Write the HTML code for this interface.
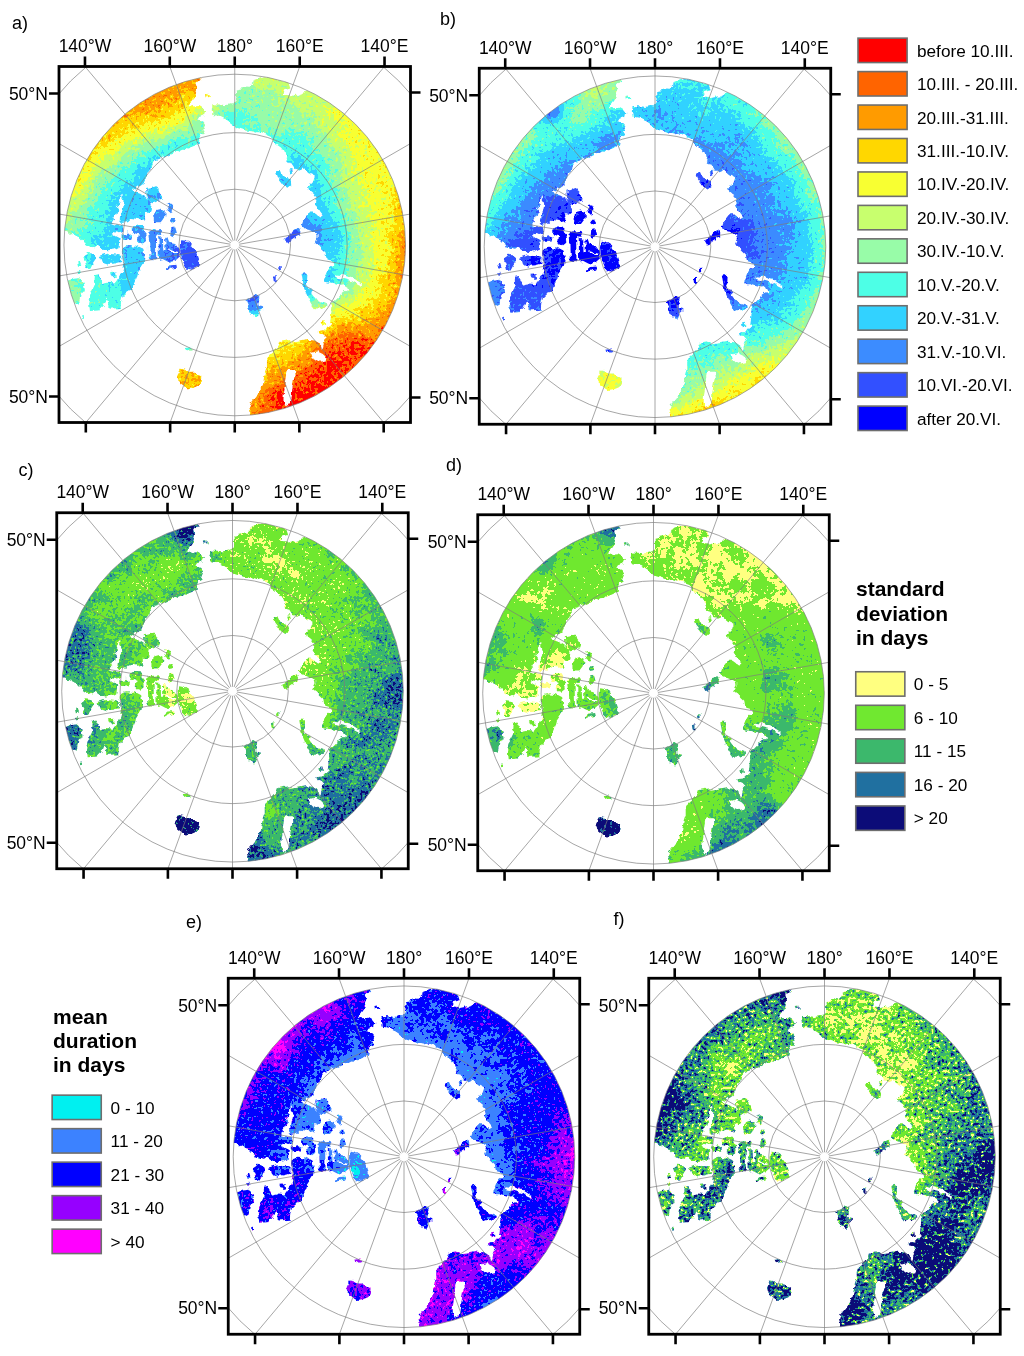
<!DOCTYPE html><html><head><meta charset="utf-8"><title>Figure</title><style>html,body{margin:0;padding:0;background:#fff}svg{display:block}text{font-family:"Liberation Sans",sans-serif;fill:#000}</style></head><body>
<svg width="1024" height="1356" viewBox="0 0 1024 1356">
<defs>
<clipPath id="fr"><rect x="0" y="0" width="351.5" height="356.0"/></clipPath>
<g id="grat" clip-path="url(#fr)" fill="none" stroke="#7c7c7c" stroke-width="0.68"><circle cx="175.75" cy="178.5" r="55.77"/><circle cx="175.75" cy="178.5" r="112.39"/><circle cx="175.75" cy="178.5" r="170.79"/><circle cx="175.75" cy="178.5" r="232.00"/><path d="M175.75 174.00L175.75 -151.50M177.29 174.27L288.62 -131.60M178.64 175.05L387.87 -74.29M179.65 176.25L461.54 13.50M180.18 177.72L500.74 121.20M180.18 179.28L500.74 235.80M179.65 180.75L461.54 343.50M178.64 181.95L387.87 431.29M177.29 182.73L288.62 488.60M175.75 183.00L175.75 508.50M174.21 182.73L62.88 488.60M172.86 181.95L-36.37 431.29M171.85 180.75L-110.04 343.50M171.32 179.28L-149.24 235.80M171.32 177.72L-149.24 121.20M171.85 176.25L-110.04 13.50M172.86 175.05L-36.37 -74.29M174.21 174.27L62.88 -131.60"/></g>
<g id="frame" fill="none" stroke="#000"><rect x="0" y="0" width="351.5" height="356.0" stroke-width="2.8"/><path d="M25.97 0V-10M26.81 356.0V366.0M110.78 0V-10M111.15 356.0V366.0M175.75 0V-10M175.75 356.0V366.0M240.72 0V-10M240.35 356.0V366.0M325.53 0V-10M324.69 356.0V366.0M0 27.05H-10M0 329.95H-10M351.5 26.05h10M351.5 330.95h10" stroke-width="2.6"/></g>
<clipPath id="c60"><circle cx="0" cy="0" r="170.79"/></clipPath><filter id="jag" filterUnits="userSpaceOnUse" x="-190" y="-190" width="380" height="380" color-interpolation-filters="sRGB"><feTurbulence type="fractalNoise" baseFrequency="0.16" numOctaves="2" seed="5" result="t"/><feDisplacementMap in="SourceGraphic" in2="t" scale="6" xChannelSelector="R" yChannelSelector="G"/></filter><mask id="land" maskUnits="userSpaceOnUse" x="-180" y="-180" width="360" height="360"><g clip-path="url(#c60)"><g filter="url(#jag)"><rect x="-190" y="-190" width="380" height="380" fill="#000"/><g fill="#fff"><polygon points="-28.2,-183.8 -35.6,-165.8 -39.3,-161.9 -37.5,-156.5 -39.9,-148.7 -46.1,-139.9 -41.8,-138.5 -35.6,-138.9 -28.7,-135 -29.7,-130.1 -35.6,-128.1 -37.5,-124.8 -32.1,-122.3 -28.9,-117.4 -31.1,-111.5 -36.4,-108.6 -36.8,-102.8 -39.9,-97.9 -46.1,-95.5 -51.6,-96.3 -55.9,-94 -62.3,-91.6 -70.2,-88.1 -78.9,-85.2 -83.2,-80.3 -84.4,-73.5 -87.7,-69.6 -90.7,-62.7 -97.5,-57.8 -103.4,-53.9 -109.2,-51.4 -113.1,-51 -114.5,-46.1 -116.4,-41.2 -118.8,-38.3 -127.8,-19.8 -170.7,-16.8 -196.1,-16.8 -196.1,-183.8"/><polygon points="-113.6,-56.4 -113.9,-46.8 -116.5,-41.7 -120.2,-39.5 -117.3,-35.1 -118.7,-28.5 -121.7,-24.1 -123.9,-21.9 -120.2,-20.5 -112.2,-20.5 -111.4,-13.1 -115.8,-11.7 -120.9,-13.1 -123.1,-10.9 -119.5,-8.7 -115.1,-6.6 -116.3,2.2 -120.9,4.4 -126.8,5.2 -132.7,3.7 -137.1,0.8 -139.2,2.2 -142.2,1.5 -145.1,3 -148,1.5 -149.5,-2.2 -153.2,-5.1 -156.1,-8 -160.5,-9.5 -166.3,-13.1 -170.7,-15.3 -185.4,-15.3 -185.4,-56.4"/><polygon points="-151.7,11 -147.3,8.1 -140,8.8 -139.2,14 -142.2,18.4 -144.4,22.7 -148,23.5 -149.5,16.9"/><polygon points="-134.9,11 -128.3,8.8 -118,9.6 -113.6,11 -113.6,16.9 -119.5,18.4 -126.8,19.1 -132.7,16.9"/><polygon points="-156.8,16.2 -153.9,16.9 -152.4,21.3 -155.4,22"/><polygon points="-159,26.8 -154.6,26 -154.3,28.6 -158.3,29.3"/><polygon points="-88.7,-57.1 -81.4,-58.5 -75.5,-54.9 -72.3,-50.5 -72.9,-45.4 -77,-43.9 -81.4,-41.7 -85.8,-43.9 -88,-49"/><polygon points="-112.2,-52 -103.4,-54.2 -94.6,-51.2 -88.7,-47.6 -82.9,-41.7 -84.3,-35.8 -88.7,-32.9 -88.7,-27.1 -94.6,-25.6 -103.4,-27.1 -107.8,-22.7 -112.2,-21.9 -115.1,-25.6 -114.3,-31.5 -112.2,-34.4 -110.7,-41.7 -112.2,-46.1"/><polygon points="-79.9,-35.8 -74.1,-37.3 -68.9,-34.4 -69.7,-28.5 -74.1,-22.7 -78.5,-22.7 -80.7,-27.1"/><polygon points="-68.2,-41.7 -64.5,-42.4 -61.6,-37.3 -62.3,-31.5 -66,-34.4"/><polygon points="-65.3,-27.1 -60.9,-27.1 -58.7,-23.4 -61.6,-21.2 -64.5,-23.4"/><polygon points="-104.1,-16.8 -97.5,-20.5 -90.9,-19.7 -88.7,-15.3 -89.4,-9.5 -88.7,-5.1 -93.1,-1.4 -96.8,-3.6 -96,-9.5 -100.4,-10.9 -103.7,-13.1"/><polygon points="-112.2,-10.9 -106.3,-12.4 -102.6,-9.5 -103.4,-5.1 -109.2,-4.4 -112.2,-6.6"/><polygon points="-86.5,-12.4 -82.9,-15.3 -74.1,-16.1 -71.1,-9.5 -68.2,-6.6 -66.7,-2.2 -59.4,-0.7 -55,5.2 -54.3,11 -59.4,15.4 -65.3,16.9 -71.1,14 -75.5,14.7 -82.9,14 -86.5,11 -87.2,2.2 -85.8,-5.1"/><polygon points="-63.8,-16.8 -59.4,-17.5 -58,-12.4 -60.9,-8 -64.5,-9.5"/><polygon points="-54.3,-5.1 -49.2,-4.4 -43.3,-0.7 -38.2,6.6 -35.2,15.4 -36.7,20.5 -41.8,22.7 -46.2,25.7 -49.2,22.7 -52.1,15.4 -54.3,8.1 -55,0.8"/><polygon points="-68.9,23.5 -65.3,20.5 -59.4,19.8 -58.7,22.7 -63.8,23.5 -67.5,25.7"/><polygon points="-112.2,1.5 -106.3,0 -97.5,0.8 -91.6,3.7 -90.2,11 -90.9,18.4 -94.6,24.2 -97.5,28.6 -99,34.5 -103.4,44.7 -107.8,46.2 -112.2,50.6 -113.6,56.4 -114.3,63 -126.1,63.8 -126.8,57.9 -128.3,53.5 -131.2,60.8 -135.6,65.2 -145.8,66 -146.6,57.9 -145.1,50.6 -141.4,44.7 -139.2,40.3 -141.4,35.9 -140.7,30.1 -137.1,29.3 -134.1,34.5 -132.7,38.1 -126.8,36.7 -119.5,37.4 -115.1,31.5 -112.2,25.7 -110.7,19.8 -112.2,14 -112.9,6.6"/><polygon points="-124.6,27.9 -118.7,27.4 -118,31.5 -123.1,32.3"/><polygon points="-168.5,35.2 -162,32.7 -154.6,32 -151.4,37.4 -149.9,44.7 -153.2,50.6 -154.6,58.2 -160.2,59.7 -166.3,52"/><polygon points="-153.9,71.8 -151,71.1 -151.4,73.3 -153.5,74"/><polygon points="-29.7,-150.6 -26.2,-151.2 -25.8,-148.1 -29.1,-147.5"/><polygon points="-21.5,-140.8 -9.8,-139.9 -3,-137.9 1.9,-144.8 1,-155.5 11.7,-157.4 19.5,-164.3 28.3,-167.8 41,-166.2 53.7,-162.3 55.6,-156.5 48.8,-154.5 46.9,-149.6 54.7,-148.7 63.5,-150.6 74.2,-153.9 99.6,-176 197.2,-176 197.2,97.4 197.2,202.9 13.7,202.9 16.6,170.7 14.6,163.8 15.6,158 20.5,152.1 24.4,146.3 28.3,139.4 29.3,132.6 30.3,126.7 32.2,120.9 32.2,115 35.1,109.2 40,105.2 43.9,100.4 45.9,95.5 51.7,94.5 55.6,97.4 64.4,96.5 72.2,95.1 80.1,95.5 84.9,98.4 85.9,103.3 87.9,103.3 88.8,98.4 91.8,93.5 88.8,90.6 84,88.6 84.9,85.7 90.8,85.7 94.7,81.8 95.7,74 96.7,66.2 97.6,61.3 95.7,57.4 99.6,55.4 104.5,50.6 109.4,46.7 113.3,44.7 111.3,39.8 105.4,40.8 99.6,39.2 91.8,36.9 89.4,33 91.8,29.1 93.7,24.2 99.6,20.3 98.6,16.4 91.8,14.4 90.8,8.6 86.9,4.7 83,0.8 80.1,-4.1 82,-8 80.1,-12.9 74.2,-14.9 68.3,-15.8 66.4,-19.8 68.3,-21.7 70.3,-27.6 74.2,-32.4 79.1,-32.4 85.9,-27.6 87.9,-30.5 84,-35.4 81,-41.2 82,-47.1 79.1,-51 74.2,-54.9 73.2,-58.8 78.1,-63.7 80.1,-69.6 74.2,-72.5 68.3,-77.4 63.5,-75.4 59.5,-76.4 55.6,-82.2 50.8,-88.1 49.8,-94 46.9,-97.9 40,-102.8 38.1,-107.6 34.2,-109.6 26.3,-112.5 21.5,-115.5 18.5,-113.5 9.7,-116.4 1.9,-119.4 -5.9,-123.3 -11.7,-127.2 -21.5,-129.1"/><polygon points="24.6,-142.8 18.7,-140.8 10.9,-141.8 3.1,-139.9 -4.7,-140.8 -12.5,-138.9 -20.3,-137.9 -23.3,-135 -20.3,-131.1 -14.5,-128.1 -6.7,-123.3 1.1,-117.4 10.9,-114.5 18.7,-113.5 24.6,-111.5"/></g><g fill="#000"><polygon points="76.5,108.1 82.4,106.2 88,109 91.7,112.7 90.8,116.4 85.2,117.7 80.6,115.5 77.8,112.7"/><polygon points="53.1,125.1 51.8,132.2 50.5,139.6 49.1,147 48.7,154.5 50,159.7 53.1,161.5 55.5,158.5 57,152.6 57.4,145.2 58.3,137.8 59.8,130.3 59.3,125.1"/><polygon points="100.6,29.5 109.4,30.6 119.1,33.4 126,37.9 126.5,40.8 123,39.2 117.2,35.9 107.4,33.4 100.6,32"/><polygon points="-78.9,-10.5 -76.3,-10.5 -75.9,14.6 -78.5,14.6"/><polygon points="-71.8,-9.6 -69.6,-9.6 -69.2,4.4 -71.5,4.4"/><polygon points="-75.7,-10.3 -63.7,-9.6 -63.7,-7.1 -75.7,-7.7"/><polygon points="-87.8,-4 -85.6,-4 -85.2,10.9 -87.4,10.9"/><polygon points="-66.5,4.4 -56.3,7.1 -56.3,9 -66.5,6.4"/></g><g fill="#fff"><polygon points="41,-73.5 44.9,-74 46.9,-69.6 49.8,-67.6 55.6,-65.6 57.6,-60.8 53.7,-57.2 49.8,-59.8 45.9,-64.7 42.9,-68.6"/><polygon points="54.7,-75.4 57.6,-76 58.6,-71.5 56.2,-70.5"/><polygon points="48.8,-6.1 54.7,-9 57.6,-12.9 60.5,-16.8 64.4,-15.8 66.4,-11.9 61.5,-10 60.5,-7.1 54.7,-3.1 50.8,-2.2"/><polygon points="44.5,21.3 46.9,20.9 47.2,26.1 44.9,26.1"/><polygon points="39.4,33 42,32 42,36.9 40,37.3"/><polygon points="66.8,28.1 70.7,27.1 72.6,31 72.2,37.9 75.2,44.7 79.1,50.6 84,56.4 90.8,58.4 91.8,61.3 87.9,64.2 81,64.6 77.7,60.3 73.2,52.5 69.9,44.7 68.3,36.9"/><polygon points="10.7,55.4 16.6,52.5 21.5,48.6 25.8,51.5 24.4,55.4 22.4,60.3 28.3,61.3 28.3,64.2 24.4,65.2 22.4,72 19.5,72 15.6,66.2 12.7,60.3"/><polygon points="86.9,76.9 90.8,76 91.4,79.9 87.9,80.8"/><polygon points="84,85.7 88.8,85.3 89.4,89.6 84.9,90"/><polygon points="-58.4,130.6 -54.5,123.8 -49.6,124.8 -46.7,127.7 -39.9,127.7 -34.4,129.7 -35,135.5 -37,140.4 -41.8,142.4 -46.7,143.3 -51.6,139.4 -56.5,135.5"/><polygon points="-48.7,103.3 -43.8,102.3 -42.8,105.2 -47.7,106.8"/><polygon points="-154.1,72 -151.2,71.1 -151.6,74"/></g></g></g></mask>
<filter id="fa" filterUnits="userSpaceOnUse" x="-184" y="-184" width="368" height="368" color-interpolation-filters="sRGB"><feGaussianBlur in="SourceGraphic" stdDeviation="4"/><feColorMatrix type="matrix" values="1 0 0 0 0 0 1 0 0 0 0 0 1 0 0 0 0 0 0 1" result="b"/><feTurbulence type="fractalNoise" baseFrequency="0.07" numOctaves="2" seed="3"/><feColorMatrix type="matrix" values="1 0 0 0 0 1 0 0 0 0 1 0 0 0 0 0 0 0 0 1" result="n2"/><feComposite in="b" in2="n2" operator="arithmetic" k1="0" k2="1" k3="0.08" k4="-0.04" result="b2"/><feTurbulence type="fractalNoise" baseFrequency="0.3" numOctaves="2" seed="4"/><feColorMatrix type="matrix" values="1 0 0 0 0 1 0 0 0 0 1 0 0 0 0 0 0 0 0 1"/><feComponentTransfer result="n1"><feFuncR type="table" tableValues="0 0 0.083 0.396 0.5 0.604 0.917 1 1"/><feFuncG type="table" tableValues="0 0 0.083 0.396 0.5 0.604 0.917 1 1"/><feFuncB type="table" tableValues="0 0 0.083 0.396 0.5 0.604 0.917 1 1"/></feComponentTransfer><feComposite in="b2" in2="n1" operator="arithmetic" k1="-0.2" k2="1.1" k3="0.26" k4="-0.13"/><feComponentTransfer><feFuncR type="discrete" tableValues="1.000 1.000 1.000 1.000 0.973 0.784 0.596 0.302 0.196 0.235 0.196 0.000"/><feFuncG type="discrete" tableValues="0.000 0.392 0.608 0.843 1.000 1.000 0.988 1.000 0.824 0.549 0.314 0.000"/><feFuncB type="discrete" tableValues="0.000 0.000 0.000 0.000 0.196 0.431 0.659 0.902 1.000 1.000 1.000 1.000"/></feComponentTransfer></filter>
<filter id="fb" filterUnits="userSpaceOnUse" x="-184" y="-184" width="368" height="368" color-interpolation-filters="sRGB"><feGaussianBlur in="SourceGraphic" stdDeviation="4"/><feColorMatrix type="matrix" values="1 0 0 0 0 0 1 0 0 0 0 0 1 0 0 0 0 0 0 1" result="b"/><feTurbulence type="fractalNoise" baseFrequency="0.07" numOctaves="2" seed="7"/><feColorMatrix type="matrix" values="1 0 0 0 0 1 0 0 0 0 1 0 0 0 0 0 0 0 0 1" result="n2"/><feComposite in="b" in2="n2" operator="arithmetic" k1="0" k2="1" k3="0.08" k4="-0.04" result="b2"/><feTurbulence type="fractalNoise" baseFrequency="0.3" numOctaves="2" seed="8"/><feColorMatrix type="matrix" values="1 0 0 0 0 1 0 0 0 0 1 0 0 0 0 0 0 0 0 1"/><feComponentTransfer result="n1"><feFuncR type="table" tableValues="0 0 0.083 0.396 0.5 0.604 0.917 1 1"/><feFuncG type="table" tableValues="0 0 0.083 0.396 0.5 0.604 0.917 1 1"/><feFuncB type="table" tableValues="0 0 0.083 0.396 0.5 0.604 0.917 1 1"/></feComponentTransfer><feComposite in="b2" in2="n1" operator="arithmetic" k1="-0.15" k2="1.075" k3="0.24" k4="-0.12"/><feComponentTransfer><feFuncR type="discrete" tableValues="1.000 1.000 1.000 1.000 0.973 0.784 0.596 0.302 0.196 0.235 0.196 0.000"/><feFuncG type="discrete" tableValues="0.000 0.392 0.608 0.843 1.000 1.000 0.988 1.000 0.824 0.549 0.314 0.000"/><feFuncB type="discrete" tableValues="0.000 0.000 0.000 0.000 0.196 0.431 0.659 0.902 1.000 1.000 1.000 1.000"/></feComponentTransfer></filter>
<filter id="fc" filterUnits="userSpaceOnUse" x="-184" y="-184" width="368" height="368" color-interpolation-filters="sRGB"><feGaussianBlur in="SourceGraphic" stdDeviation="4"/><feColorMatrix type="matrix" values="1 0 0 0 0 0 1 0 0 0 0 0 1 0 0 0 0 0 0 1" result="b"/><feTurbulence type="fractalNoise" baseFrequency="0.07" numOctaves="2" seed="11"/><feColorMatrix type="matrix" values="1 0 0 0 0 1 0 0 0 0 1 0 0 0 0 0 0 0 0 1" result="n2"/><feComposite in="b" in2="n2" operator="arithmetic" k1="0" k2="1" k3="0.35" k4="-0.175" result="b2"/><feTurbulence type="fractalNoise" baseFrequency="0.36" numOctaves="2" seed="12"/><feColorMatrix type="matrix" values="1 0 0 0 0 1 0 0 0 0 1 0 0 0 0 0 0 0 0 1"/><feComponentTransfer result="n1"><feFuncR type="table" tableValues="0 0 0.083 0.396 0.5 0.604 0.917 1 1"/><feFuncG type="table" tableValues="0 0 0.083 0.396 0.5 0.604 0.917 1 1"/><feFuncB type="table" tableValues="0 0 0.083 0.396 0.5 0.604 0.917 1 1"/></feComponentTransfer><feComposite in="b2" in2="n1" operator="arithmetic" k1="1" k2="0.5" k3="0" k4="-0"/><feComponentTransfer><feFuncR type="discrete" tableValues="1.000 0.439 0.235 0.125 0.047"/><feFuncG type="discrete" tableValues="1.000 0.910 0.722 0.439 0.047"/><feFuncB type="discrete" tableValues="0.502 0.188 0.424 0.627 0.471"/></feComponentTransfer></filter>
<filter id="fd" filterUnits="userSpaceOnUse" x="-184" y="-184" width="368" height="368" color-interpolation-filters="sRGB"><feGaussianBlur in="SourceGraphic" stdDeviation="4"/><feColorMatrix type="matrix" values="1 0 0 0 0 0 1 0 0 0 0 0 1 0 0 0 0 0 0 1" result="b"/><feTurbulence type="fractalNoise" baseFrequency="0.07" numOctaves="2" seed="13"/><feColorMatrix type="matrix" values="1 0 0 0 0 1 0 0 0 0 1 0 0 0 0 0 0 0 0 1" result="n2"/><feComposite in="b" in2="n2" operator="arithmetic" k1="0" k2="1" k3="0.25" k4="-0.125" result="b2"/><feTurbulence type="fractalNoise" baseFrequency="0.3" numOctaves="2" seed="14"/><feColorMatrix type="matrix" values="1 0 0 0 0 1 0 0 0 0 1 0 0 0 0 0 0 0 0 1"/><feComponentTransfer result="n1"><feFuncR type="table" tableValues="0 0 0.083 0.396 0.5 0.604 0.917 1 1"/><feFuncG type="table" tableValues="0 0 0.083 0.396 0.5 0.604 0.917 1 1"/><feFuncB type="table" tableValues="0 0 0.083 0.396 0.5 0.604 0.917 1 1"/></feComponentTransfer><feComposite in="b2" in2="n1" operator="arithmetic" k1="0.8" k2="0.6" k3="0" k4="-0"/><feComponentTransfer><feFuncR type="discrete" tableValues="1.000 0.439 0.235 0.125 0.047"/><feFuncG type="discrete" tableValues="1.000 0.910 0.722 0.439 0.047"/><feFuncB type="discrete" tableValues="0.502 0.188 0.424 0.627 0.471"/></feComponentTransfer></filter>
<filter id="fe" filterUnits="userSpaceOnUse" x="-184" y="-184" width="368" height="368" color-interpolation-filters="sRGB"><feGaussianBlur in="SourceGraphic" stdDeviation="4"/><feColorMatrix type="matrix" values="1 0 0 0 0 0 1 0 0 0 0 0 1 0 0 0 0 0 0 1" result="b"/><feTurbulence type="fractalNoise" baseFrequency="0.07" numOctaves="2" seed="17"/><feColorMatrix type="matrix" values="1 0 0 0 0 1 0 0 0 0 1 0 0 0 0 0 0 0 0 1" result="n2"/><feComposite in="b" in2="n2" operator="arithmetic" k1="0" k2="1" k3="0.3" k4="-0.15" result="b2"/><feTurbulence type="fractalNoise" baseFrequency="0.3" numOctaves="2" seed="18"/><feColorMatrix type="matrix" values="1 0 0 0 0 1 0 0 0 0 1 0 0 0 0 0 0 0 0 1"/><feComponentTransfer result="n1"><feFuncR type="table" tableValues="0 0 0.083 0.396 0.5 0.604 0.917 1 1"/><feFuncG type="table" tableValues="0 0 0.083 0.396 0.5 0.604 0.917 1 1"/><feFuncB type="table" tableValues="0 0 0.083 0.396 0.5 0.604 0.917 1 1"/></feComponentTransfer><feComposite in="b2" in2="n1" operator="arithmetic" k1="0.6" k2="0.7" k3="0.1" k4="-0.05"/><feComponentTransfer><feFuncR type="discrete" tableValues="0.000 0.235 0.000 0.588 1.000"/><feFuncG type="discrete" tableValues="0.941 0.510 0.000 0.000 0.000"/><feFuncB type="discrete" tableValues="0.941 1.000 1.000 1.000 1.000"/></feComponentTransfer></filter>
<filter id="ff" filterUnits="userSpaceOnUse" x="-184" y="-184" width="368" height="368" color-interpolation-filters="sRGB"><feGaussianBlur in="SourceGraphic" stdDeviation="4"/><feColorMatrix type="matrix" values="1 0 0 0 0 0 1 0 0 0 0 0 1 0 0 0 0 0 0 1" result="b"/><feTurbulence type="fractalNoise" baseFrequency="0.07" numOctaves="2" seed="19"/><feColorMatrix type="matrix" values="1 0 0 0 0 1 0 0 0 0 1 0 0 0 0 0 0 0 0 1" result="n2"/><feComposite in="b" in2="n2" operator="arithmetic" k1="0" k2="1" k3="0.55" k4="-0.275" result="b2"/><feTurbulence type="fractalNoise" baseFrequency="0.3" numOctaves="2" seed="20"/><feColorMatrix type="matrix" values="1 0 0 0 0 1 0 0 0 0 1 0 0 0 0 0 0 0 0 1"/><feComponentTransfer result="n1"><feFuncR type="table" tableValues="0 0 0.083 0.396 0.5 0.604 0.917 1 1"/><feFuncG type="table" tableValues="0 0 0.083 0.396 0.5 0.604 0.917 1 1"/><feFuncB type="table" tableValues="0 0 0.083 0.396 0.5 0.604 0.917 1 1"/></feComponentTransfer><feComposite in="b2" in2="n1" operator="arithmetic" k1="1.3" k2="0.35" k3="0.6" k4="-0.3"/><feComponentTransfer><feFuncR type="discrete" tableValues="1.000 0.439 0.235 0.125 0.047"/><feFuncG type="discrete" tableValues="1.000 0.910 0.722 0.439 0.047"/><feFuncB type="discrete" tableValues="0.502 0.188 0.424 0.627 0.471"/></feComponentTransfer></filter>
</defs>
<rect width="1024" height="1356" fill="#fff"/>
<g transform="translate(59 66.5)">
<g transform="translate(175.75 178.5)" mask="url(#land)"><g filter="url(#fa)"><path fill="#0d0d0d" d="M48 144h16v8h-16zM48 152h24v8h-24zM56 160h16v8h-16zM56 168h8v8h-8z"/><path fill="#101010" d="M112 96h8v8h-8zM96 112h8v8h-8zM80 136h8v8h-8zM64 144h8v8h-8zM80 144h16v8h-16zM72 152h24v8h-24zM40 160h16v8h-16zM72 160h8v8h-8zM48 168h8v8h-8z"/><path fill="#131313" d="M120 96h8v8h-8zM112 104h8v8h-8zM88 112h8v8h-8zM72 128h16v8h-16zM72 136h8v8h-8zM88 136h8v8h-8zM72 144h8v8h-8zM96 144h8v8h-8zM40 152h8v8h-8zM40 168h8v8h-8z"/><path fill="#151515" d="M96 104h16v8h-16zM120 104h8v8h-8zM104 112h16v8h-16zM88 120h16v8h-16zM88 128h16v8h-16zM112 128h16v8h-16zM56 136h16v8h-16zM96 136h24v8h-24zM40 144h8v8h-8zM104 144h8v8h-8z"/><path fill="#181818" d="M128 104h8v8h-8zM120 112h24v8h-24zM72 120h16v8h-16zM104 120h32v8h-32zM64 128h8v8h-8zM104 128h8v8h-8zM32 144h8v8h-8z"/><path fill="#1b1b1b" d="M120 88h8v8h-8zM128 96h8v8h-8zM88 104h8v8h-8zM136 104h8v8h-8zM32 152h8v8h-8zM32 160h8v8h-8zM32 168h8v8h-8z"/><path fill="#1e1e1e" d="M112 88h8v8h-8zM104 96h8v8h-8zM80 112h8v8h-8z"/><path fill="#202020" d="M136 96h8v8h-8zM80 104h8v8h-8zM144 104h8v8h-8zM48 136h8v8h-8z"/><path fill="#232323" d="M168 -8h8v8h-8zM168 0h8v8h-8zM80 96h24v8h-24zM48 128h16v8h-16zM24 160h8v8h-8z"/><path fill="#262626" d="M104 88h8v8h-8zM40 136h8v8h-8zM24 168h8v8h-8z"/><path fill="#282828" d="M128 88h8v8h-8zM144 96h8v8h-8z"/><path fill="#2b2b2b" d="M104 80h8v8h-8zM144 80h8v8h-8zM144 88h16v8h-16zM64 120h8v8h-8zM24 152h8v8h-8z"/><path fill="#2e2e2e" d="M168 24h8v8h-8zM152 80h8v8h-8zM96 88h8v8h-8zM136 88h8v8h-8zM72 112h8v8h-8zM40 128h8v8h-8z"/><path fill="#303030" d="M112 80h8v8h-8zM72 104h8v8h-8z"/><path fill="#333333" d="M168 8h8v8h-8zM160 24h8v8h-8zM168 32h8v8h-8zM144 72h16v8h-16zM136 80h8v8h-8zM56 120h8v8h-8zM16 160h8v8h-8z"/><path fill="#363636" d="M-48 -168h8v8h-8zM-72 -160h16v8h-16zM-48 -160h8v8h-8zM-88 -152h8v8h-8zM-88 -144h8v8h-8zM-112 -136h8v8h-8zM168 -16h8v8h-8zM168 16h8v8h-8zM152 56h16v8h-16zM136 72h8v8h-8zM160 72h8v8h-8zM128 80h8v8h-8zM64 112h8v8h-8zM32 136h8v8h-8zM16 152h8v8h-8zM16 168h8v8h-8z"/><path fill="#383838" d="M-64 -176h16v8h-16zM-80 -168h32v8h-32zM-40 -168h8v8h-8zM-96 -160h24v8h-24zM-96 -152h8v8h-8zM-80 -152h8v8h-8zM-120 -144h16v8h-16zM-120 -136h8v8h-8zM160 -8h8v8h-8zM160 0h8v8h-8zM160 32h8v8h-8zM160 48h8v8h-8zM168 56h8v8h-8zM152 64h16v8h-16zM120 80h8v8h-8zM88 88h8v8h-8zM32 128h8v8h-8zM24 136h8v8h-8zM24 144h8v8h-8z"/><path fill="#3b3b3b" d="M-48 -176h16v8h-16zM-56 -160h8v8h-8zM-112 -152h16v8h-16zM-72 -152h8v8h-8zM-96 -144h8v8h-8zM-80 -144h8v8h-8zM168 40h8v8h-8zM168 48h8v8h-8zM56 112h8v8h-8zM16 144h8v8h-8z"/><path fill="#3e3e3e" d="M-40 -160h8v8h-8zM-64 -152h8v8h-8zM-104 -144h8v8h-8zM-128 -136h8v8h-8zM-120 -128h8v8h-8zM160 8h8v8h-8zM160 16h8v8h-8zM160 40h8v8h-8zM144 64h8v8h-8zM48 120h8v8h-8zM16 136h8v8h-8z"/><path fill="#404040" d="M-56 -152h8v8h-8zM-72 -144h8v8h-8zM-104 -136h8v8h-8zM-88 -136h8v8h-8zM-112 -128h8v8h-8zM160 -16h8v8h-8zM152 48h8v8h-8zM136 64h8v8h-8zM128 72h8v8h-8zM72 96h8v8h-8zM64 104h8v8h-8zM-56 128h16v8h-16zM-56 136h16v8h-16zM8 160h8v8h-8zM8 168h8v8h-8z"/><path fill="#434343" d="M-64 -144h8v8h-8zM-96 -136h8v8h-8zM-80 -136h8v8h-8zM-128 -128h8v8h-8zM-136 -112h8v8h-8zM160 -32h8v8h-8zM80 88h8v8h-8zM-56 120h16v8h-16zM40 120h8v8h-8zM-64 128h8v8h-8zM-40 128h8v8h-8zM24 128h8v8h-8zM-64 136h8v8h-8zM-40 136h8v8h-8zM-56 144h16v8h-16z"/><path fill="#464646" d="M-32 -176h8v8h-8zM-32 -168h8v8h-8zM-136 -128h8v8h-8zM-136 -120h8v8h-8zM168 -32h8v8h-8zM168 -24h8v8h-8zM152 40h8v8h-8zM96 80h8v8h-8zM48 112h8v8h-8zM32 120h8v8h-8zM-64 144h8v8h-8zM-40 144h8v8h-8zM8 152h8v8h-8z"/><path fill="#484848" d="M-72 -136h8v8h-8zM-144 -120h8v8h-8zM-128 -120h16v8h-16zM-144 -112h8v8h-8zM160 -40h16v8h-16zM152 32h8v8h-8zM144 56h8v8h-8zM128 64h8v8h-8zM120 72h8v8h-8zM40 112h8v8h-8zM-72 136h8v8h-8zM-32 136h8v8h-8zM-32 144h8v8h-8z"/><path fill="#4b4b4b" d="M-32 -160h8v8h-8zM-56 -144h8v8h-8zM-104 -128h8v8h-8zM-112 -120h8v8h-8zM-152 -88h8v8h-8zM160 -24h8v8h-8zM144 48h8v8h-8zM120 64h8v8h-8zM72 80h8v8h-8zM88 80h8v8h-8zM64 88h16v8h-16zM64 96h8v8h-8zM-64 120h8v8h-8zM-40 120h8v8h-8zM16 120h16v8h-16zM-72 128h8v8h-8zM-32 128h8v8h-8zM16 128h8v8h-8zM8 144h8v8h-8z"/><path fill="#4e4e4e" d="M-48 -152h8v8h-8zM-88 -128h8v8h-8zM-128 -112h8v8h-8zM-136 -104h8v8h-8zM-152 -96h8v8h-8zM152 -16h8v8h-8zM152 8h8v8h-8zM152 16h8v8h-8zM144 40h8v8h-8zM96 72h8v8h-8zM112 72h8v8h-8zM80 80h8v8h-8z"/><path fill="#515151" d="M-40 -152h8v8h-8zM-96 -128h8v8h-8zM-80 -128h8v8h-8zM-104 -120h8v8h-8zM-152 -112h8v8h-8zM-144 -104h8v8h-8zM-160 -96h8v8h-8zM-160 -88h8v8h-8zM168 -48h8v8h-8zM152 24h8v8h-8zM136 56h8v8h-8zM104 72h8v8h-8zM56 96h8v8h-8zM48 104h16v8h-16zM32 112h8v8h-8z"/><path fill="#535353" d="M-64 -136h16v8h-16zM-72 -128h8v8h-8zM-152 -104h8v8h-8zM-168 -64h8v8h-8zM160 -48h8v8h-8zM144 32h8v8h-8zM24 112h8v8h-8z"/><path fill="#565656" d="M-48 -144h8v8h-8zM152 -64h24v8h-24zM160 -56h16v8h-16zM128 56h8v8h-8zM48 96h8v8h-8zM32 104h16v8h-16zM-72 120h8v8h-8zM-32 120h8v8h-8z"/><path fill="#595959" d="M-32 -152h8v8h-8zM-120 -112h8v8h-8zM-128 -104h8v8h-8zM-144 -96h8v8h-8zM144 -88h8v8h-8zM-160 -80h8v8h-8zM-168 -72h8v8h-8zM152 -72h16v8h-16zM152 -56h8v8h-8zM152 -48h8v8h-8zM152 -40h8v8h-8zM152 -24h8v8h-8zM152 -8h8v8h-8zM152 0h8v8h-8zM144 24h8v8h-8zM136 48h8v8h-8zM72 72h8v8h-8zM88 72h8v8h-8zM24 104h8v8h-8z"/><path fill="#5b5b5b" d="M-40 -144h8v8h-8zM144 -96h16v8h-16zM-144 -88h8v8h-8zM152 -88h8v8h-8zM-168 -80h8v8h-8zM-152 -80h8v8h-8zM144 -80h24v8h-24zM144 -72h8v8h-8zM-176 -64h8v8h-8zM-168 -56h8v8h-8zM144 8h8v8h-8zM144 16h8v8h-8zM136 40h8v8h-8zM56 88h8v8h-8zM40 96h8v8h-8z"/><path fill="#5e5e5e" d="M-112 -112h8v8h-8zM136 -104h16v8h-16zM-136 -96h8v8h-8zM136 -96h8v8h-8zM136 -88h8v8h-8zM-160 -72h8v8h-8zM136 -72h8v8h-8zM144 -64h8v8h-8zM144 -48h8v8h-8zM144 -40h8v8h-8zM144 -32h16v8h-16zM144 -8h8v8h-8zM144 0h8v8h-8zM128 48h8v8h-8zM112 64h8v8h-8zM80 72h8v8h-8z"/><path fill="#616161" d="M-96 -120h8v8h-8zM-80 -120h8v8h-8zM120 -120h24v8h-24zM120 -112h32v8h-32zM128 -104h8v8h-8zM128 -96h8v8h-8zM128 -88h8v8h-8zM128 -80h16v8h-16zM-160 -64h8v8h-8zM136 -64h8v8h-8zM136 -56h16v8h-16zM144 -24h8v8h-8zM144 -16h8v8h-8zM136 32h8v8h-8zM120 56h8v8h-8zM104 64h8v8h-8zM40 88h16v8h-16zM32 96h8v8h-8z"/><path fill="#636363" d="M104 -136h8v8h-8zM-64 -128h8v8h-8zM120 -128h16v8h-16zM-88 -120h8v8h-8zM-104 -112h8v8h-8zM120 -104h8v8h-8zM128 -72h8v8h-8zM-176 -56h8v8h-8zM136 -48h8v8h-8zM136 24h8v8h-8zM128 40h8v8h-8zM112 56h8v8h-8zM80 64h16v8h-16z"/><path fill="#666666" d="M104 -144h16v8h-16zM112 -136h16v8h-16zM104 -128h16v8h-16zM112 -120h8v8h-8zM-96 -112h8v8h-8zM112 -112h8v8h-8zM112 -104h8v8h-8zM-128 -96h8v8h-8zM120 -96h8v8h-8zM120 -88h8v8h-8zM120 -80h8v8h-8zM-152 -72h8v8h-8zM120 -72h8v8h-8zM128 -56h8v8h-8zM128 -48h8v8h-8zM136 -40h8v8h-8zM136 -32h8v8h-8zM136 -24h8v8h-8zM136 -8h8v8h-8zM136 0h8v8h-8zM136 16h8v8h-8zM32 88h8v8h-8zM24 96h8v8h-8z"/><path fill="#696969" d="M-24 -160h8v8h-8zM104 -152h8v8h-8zM-32 -144h8v8h-8zM96 -136h8v8h-8zM96 -128h8v8h-8zM104 -120h8v8h-8zM-120 -104h8v8h-8zM112 -96h8v8h-8zM-144 -80h8v8h-8zM128 -64h8v8h-8zM136 -16h8v8h-8zM136 8h8v8h-8zM72 64h8v8h-8zM96 64h8v8h-8zM-64 112h8v8h-8z"/><path fill="#6b6b6b" d="M96 -144h8v8h-8zM-48 -136h8v8h-8zM-56 -128h8v8h-8zM104 -112h8v8h-8zM-160 -56h8v8h-8zM120 40h8v8h-8zM120 48h8v8h-8zM64 64h8v8h-8zM-56 112h8v8h-8z"/><path fill="#6e6e6e" d="M-24 -152h8v8h-8zM96 -152h8v8h-8zM88 -128h8v8h-8zM-72 -120h8v8h-8zM96 -120h8v8h-8zM104 -104h8v8h-8zM-120 -96h8v8h-8zM-136 -88h8v8h-8zM112 -80h8v8h-8zM120 -64h8v8h-8zM120 -56h8v8h-8zM128 -40h8v8h-8zM-176 -32h8v8h-8zM128 -32h8v8h-8zM128 32h8v8h-8zM-48 112h8v8h-8z"/><path fill="#717171" d="M88 -136h8v8h-8zM-112 -104h8v8h-8zM112 -88h8v8h-8zM112 -72h8v8h-8zM-176 -48h16v8h-16zM-176 -40h8v8h-8zM128 24h8v8h-8zM104 56h8v8h-8z"/><path fill="#737373" d="M88 -160h8v8h-8zM88 -152h8v8h-8zM88 -144h8v8h-8zM-64 -120h8v8h-8zM88 -120h8v8h-8zM96 -112h8v8h-8zM-144 -72h8v8h-8zM-152 -64h8v8h-8zM-160 -48h8v8h-8zM120 -48h8v8h-8zM128 -24h8v8h-8zM128 -16h8v8h-8zM128 -8h8v8h-8zM128 0h8v8h-8zM128 8h8v8h-8zM128 16h8v8h-8z"/><path fill="#767676" d="M48 -176h16v8h-16zM48 -168h16v8h-16zM48 -160h40v8h-40zM72 -152h16v8h-16zM-24 -144h8v8h-8zM72 -144h16v8h-16zM80 -136h8v8h-8zM-48 -128h8v8h-8zM-104 -104h8v8h-8zM104 -96h8v8h-8zM112 -64h8v8h-8zM120 -40h8v8h-8zM96 56h8v8h-8z"/><path fill="#797979" d="M24 -176h24v8h-24zM24 -168h24v8h-24zM40 -160h8v8h-8zM56 -152h16v8h-16zM-40 -136h16v8h-16zM72 -136h8v8h-8zM80 -128h8v8h-8zM96 -104h8v8h-8zM104 -88h8v8h-8zM104 -72h8v8h-8zM112 -56h8v8h-8zM-168 -40h8v8h-8zM120 32h8v8h-8zM112 48h8v8h-8zM24 72h8v8h-8z"/><path fill="#7b7b7b" d="M16 -176h8v8h-8zM16 -168h8v8h-8zM24 -160h16v8h-16zM64 -144h8v8h-8zM-88 -112h16v8h-16zM88 -112h8v8h-8zM-128 -88h8v8h-8zM112 -48h8v8h-8zM120 -32h8v8h-8zM-176 -24h8v8h-8zM120 -24h8v8h-8zM120 24h8v8h-8z"/><path fill="#7e7e7e" d="M16 -160h8v8h-8zM40 -152h16v8h-16zM56 -144h8v8h-8zM80 -120h8v8h-8zM-72 -112h8v8h-8zM-96 -104h8v8h-8zM96 -96h8v8h-8zM-136 -80h8v8h-8zM104 -80h8v8h-8zM104 48h8v8h-8z"/><path fill="#818181" d="M8 -176h8v8h-8zM32 -152h8v8h-8zM40 -144h16v8h-16zM-136 -72h8v8h-8zM-152 -56h8v8h-8zM-152 -48h8v8h-8zM-168 -32h8v8h-8zM-168 -24h8v8h-8zM120 16h8v8h-8z"/><path fill="#848484" d="M8 -168h8v8h-8zM-24 -136h8v8h-8zM48 -136h24v8h-24zM-56 -120h8v8h-8zM-112 -96h8v8h-8zM-120 -88h8v8h-8zM112 -40h8v8h-8zM120 -16h8v8h-8zM120 -8h8v8h-8zM120 0h8v8h-8zM16 72h8v8h-8z"/><path fill="#868686" d="M-8 -168h8v8h-8zM-16 -152h8v8h-8zM24 -152h8v8h-8zM32 -144h8v8h-8zM40 -136h8v8h-8zM-48 -120h8v8h-8zM-128 -80h8v8h-8zM-144 -64h8v8h-8zM104 -64h8v8h-8zM-160 -40h8v8h-8zM120 8h8v8h-8z"/><path fill="#898989" d="M0 -168h8v8h-8zM8 -160h8v8h-8zM16 -152h8v8h-8zM-16 -144h8v8h-8zM24 -144h8v8h-8zM32 -136h8v8h-8zM40 -128h8v8h-8zM56 -128h24v8h-24zM72 -120h8v8h-8zM80 -112h8v8h-8zM-88 -104h8v8h-8zM88 -104h8v8h-8zM-104 -96h8v8h-8zM-112 -88h8v8h-8zM96 -88h8v8h-8zM104 -56h8v8h-8zM-168 40h8v8h-8zM112 40h8v8h-8zM72 56h8v8h-8zM8 72h8v8h-8z"/><path fill="#8c8c8c" d="M8 -152h8v8h-8zM16 -144h8v8h-8zM16 -136h16v8h-16zM-40 -128h8v8h-8zM-24 -128h8v8h-8zM32 -128h8v8h-8zM48 -128h8v8h-8zM40 -120h8v8h-8zM64 -120h8v8h-8zM80 -104h8v8h-8zM88 -96h8v8h-8zM96 -72h8v8h-8zM104 -48h8v8h-8zM112 -32h8v8h-8zM112 -24h8v8h-8zM-176 -16h8v8h-8zM112 16h8v8h-8zM112 24h8v8h-8zM112 32h8v8h-8zM-176 40h8v8h-8zM-168 48h8v8h-8zM96 48h8v8h-8zM80 56h8v8h-8z"/><path fill="#8e8e8e" d="M-8 -160h16v8h-16zM-8 -152h16v8h-16zM8 -144h8v8h-8zM-32 -128h8v8h-8zM24 -128h8v8h-8zM-40 -120h24v8h-24zM32 -120h8v8h-8zM48 -120h8v8h-8zM72 -112h8v8h-8zM96 -80h8v8h-8zM96 -64h8v8h-8zM-144 -56h8v8h-8zM-160 -24h8v8h-8zM112 -16h8v8h-8zM112 8h8v8h-8zM-176 32h16v8h-16zM-176 48h8v8h-8zM64 56h8v8h-8zM88 56h8v8h-8z"/><path fill="#919191" d="M-8 -144h16v8h-16zM-16 -136h8v8h-8zM56 -120h8v8h-8zM-64 -112h8v8h-8zM-32 -112h16v8h-16zM-96 -96h8v8h-8zM-136 -64h8v8h-8zM-152 -40h8v8h-8zM104 -40h8v8h-8zM-160 -32h8v8h-8zM-168 -16h8v8h-8zM112 -8h8v8h-8zM112 0h8v8h-8zM-160 40h8v8h-8zM-160 48h8v8h-8zM-176 56h16v8h-16zM-40 104h8v8h-8z"/><path fill="#949494" d="M8 -136h8v8h-8zM16 -128h8v8h-8zM16 -120h16v8h-16zM-56 -112h8v8h-8zM88 -88h8v8h-8zM-120 -80h8v8h-8zM-128 -72h8v8h-8zM-144 -48h8v8h-8zM-160 32h8v8h-8zM-152 40h8v8h-8z"/><path fill="#969696" d="M-16 -128h8v8h-8zM-16 -120h8v8h-8zM8 -120h8v8h-8zM8 -112h24v8h-24zM-72 -104h8v8h-8zM-32 -104h8v8h-8zM-32 -96h8v8h-8zM-160 -16h8v8h-8zM-176 -8h16v8h-16zM-176 24h8v8h-8zM-152 32h8v8h-8zM104 40h8v8h-8zM-160 56h8v8h-8zM-168 64h8v8h-8zM32 64h8v8h-8z"/><path fill="#999999" d="M8 -128h8v8h-8zM-40 -112h8v8h-8zM-8 -112h16v8h-16zM40 -112h8v8h-8zM64 -112h8v8h-8zM-80 -104h8v8h-8zM72 -104h8v8h-8zM-40 -96h8v8h-8zM80 -96h8v8h-8zM-136 -56h8v8h-8zM-152 -32h8v8h-8zM104 -32h8v8h-8zM-152 -24h8v8h-8zM-168 24h8v8h-8zM-152 48h8v8h-8zM-160 64h8v8h-8zM-168 72h8v8h-8zM-56 104h8v8h-8z"/><path fill="#9c9c9c" d="M-8 -136h16v8h-16zM-8 -120h16v8h-16zM32 -112h8v8h-8zM48 -112h8v8h-8zM-40 -104h8v8h-8zM-88 -96h8v8h-8zM-112 -80h8v8h-8zM88 -72h8v8h-8zM-128 -64h8v8h-8zM96 -56h8v8h-8zM96 -48h8v8h-8zM-144 -40h8v8h-8zM-168 8h8v8h-8zM-144 32h8v8h-8zM-144 40h8v8h-8zM-160 72h16v8h-16zM-160 80h16v8h-16zM-40 96h8v8h-8zM-48 104h8v8h-8z"/><path fill="#9e9e9e" d="M-8 -128h16v8h-16zM-48 -112h8v8h-8zM56 -112h8v8h-8zM-48 -104h8v8h-8zM24 -104h16v8h-16zM56 -104h16v8h-16zM72 -96h8v8h-8zM-104 -88h8v8h-8zM80 -88h8v8h-8zM88 -80h8v8h-8zM-120 -72h8v8h-8zM88 -64h8v8h-8zM96 -40h8v8h-8zM-144 -32h8v8h-8zM104 -24h8v8h-8zM-152 -16h8v8h-8zM-160 -8h8v8h-8zM104 8h8v8h-8zM104 16h8v8h-8zM104 24h8v8h-8zM104 32h8v8h-8zM-136 40h8v8h-8zM96 40h8v8h-8zM-144 48h24v8h-24zM80 48h16v8h-16zM-152 56h32v8h-32zM-152 64h32v8h-32zM-144 72h8v8h-8zM-56 96h16v8h-16z"/><path fill="#a1a1a1" d="M40 -104h16v8h-16zM-48 -96h8v8h-8zM32 -96h8v8h-8zM64 -96h8v8h-8zM-96 -88h8v8h-8zM72 -88h8v8h-8zM-104 -80h8v8h-8zM80 -80h8v8h-8zM-120 -64h8v8h-8zM88 -56h8v8h-8zM-144 -24h8v8h-8zM104 -16h8v8h-8zM104 -8h8v8h-8zM-160 0h8v8h-8zM104 0h8v8h-8zM-168 16h8v8h-8zM-160 24h8v8h-8zM-128 40h8v8h-8zM-120 48h8v8h-8zM-120 56h8v8h-8zM-120 64h8v8h-8z"/><path fill="#a4a4a4" d="M-64 -104h8v8h-8zM-80 -96h8v8h-8zM-112 -72h8v8h-8zM-136 -48h8v8h-8zM-136 -40h8v8h-8zM96 -32h8v8h-8zM-144 -16h8v8h-8zM-152 -8h8v8h-8zM-152 0h8v8h-8zM-160 8h8v8h-8zM88 40h8v8h-8zM72 48h8v8h-8zM-112 56h8v8h-8zM-112 64h8v8h-8z"/><path fill="#a6a6a6" d="M-56 -104h8v8h-8zM-64 -96h16v8h-16zM40 -96h8v8h-8zM56 -96h8v8h-8zM-56 -88h8v8h-8zM-128 -56h8v8h-8zM88 -48h8v8h-8zM-144 -8h8v8h-8zM-144 24h8v8h-8zM-136 32h8v8h-8zM96 32h8v8h-8zM-120 40h8v8h-8zM-112 48h8v8h-8z"/><path fill="#a9a9a9" d="M48 -96h8v8h-8zM-88 -88h8v8h-8zM40 -88h16v8h-16zM-112 -64h8v8h-8zM-128 -48h8v8h-8zM88 -40h8v8h-8zM-136 -32h8v8h-8zM-144 0h8v8h-8zM-152 8h8v8h-8zM-160 16h8v8h-8zM96 16h8v8h-8zM-152 24h8v8h-8zM96 24h8v8h-8zM80 40h8v8h-8zM24 64h8v8h-8z"/><path fill="#acacac" d="M-72 -96h8v8h-8zM-64 -88h8v8h-8zM72 -80h8v8h-8zM-104 -72h8v8h-8zM80 -72h8v8h-8zM-120 -56h8v8h-8zM-128 -40h8v8h-8zM-128 -32h8v8h-8zM-136 -24h8v8h-8zM-136 -16h8v8h-8zM-144 8h8v8h-8zM96 8h8v8h-8zM-152 16h16v8h-16zM-136 24h8v8h-8zM-128 32h8v8h-8zM-112 40h8v8h-8zM-104 48h8v8h-8z"/><path fill="#aeaeae" d="M56 -88h16v8h-16zM32 -80h8v8h-8zM80 -64h8v8h-8zM-128 -24h8v8h-8zM-136 -8h8v8h-8zM-136 0h8v8h-8zM-136 8h8v8h-8zM-136 16h8v8h-8zM-128 24h16v8h-16zM-120 32h16v8h-16zM-104 40h8v8h-8zM64 48h8v8h-8zM0 64h8v8h-8z"/><path fill="#b1b1b1" d="M-96 -80h8v8h-8zM-80 -80h8v8h-8zM40 -80h16v8h-16zM-96 -72h8v8h-8zM-112 -56h8v8h-8zM96 -24h8v8h-8zM-128 -16h8v8h-8zM96 -16h8v8h-8zM-128 -8h8v8h-8zM-128 0h8v8h-8zM-112 24h8v8h-8zM80 24h8v8h-8z"/><path fill="#b4b4b4" d="M-80 -88h16v8h-16zM-88 -80h8v8h-8zM56 -80h16v8h-16zM-88 -72h16v8h-16zM64 -72h16v8h-16zM-104 -64h16v8h-16zM64 -64h16v8h-16zM-104 -56h8v8h-8zM64 -56h24v8h-24zM-120 -48h16v8h-16zM72 -48h16v8h-16zM-120 -40h8v8h-8zM72 -40h16v8h-16zM80 -32h16v8h-16zM96 -8h8v8h-8zM96 0h8v8h-8zM-128 8h16v8h-16zM88 8h8v8h-8zM-128 16h24v8h-24zM80 16h16v8h-16zM-104 24h16v8h-16zM88 24h8v8h-8zM-104 32h16v8h-16zM80 32h16v8h-16zM-96 40h8v8h-8z"/><path fill="#b7b7b7" d="M56 -72h8v8h-8zM64 -48h8v8h-8zM-112 -40h8v8h-8zM-120 -32h8v8h-8zM88 -24h8v8h-8zM-104 16h16v8h-16zM72 40h8v8h-8zM56 48h8v8h-8zM8 64h8v8h-8z"/><path fill="#b9b9b9" d="M32 -72h8v8h-8zM-88 -64h24v8h-24zM-96 -56h8v8h-8zM56 -56h8v8h-8zM-104 -48h8v8h-8zM-112 -32h8v8h-8zM72 -32h8v8h-8zM-120 -16h8v8h-8zM88 -16h8v8h-8zM-120 -8h8v8h-8zM-120 0h8v8h-8zM88 0h8v8h-8zM-112 8h8v8h-8zM80 8h8v8h-8zM72 16h8v8h-8zM-88 24h8v8h-8zM72 24h8v8h-8zM64 32h16v8h-16zM64 40h8v8h-8zM16 64h8v8h-8z"/><path fill="#bcbcbc" d="M32 -64h8v8h-8zM56 -64h8v8h-8zM-96 -48h8v8h-8zM-104 -40h16v8h-16zM64 -40h8v8h-8zM-104 -32h8v8h-8zM-120 -24h16v8h-16zM-112 -16h8v8h-8zM-112 -8h8v8h-8zM88 -8h8v8h-8zM-112 0h16v8h-16zM-104 8h8v8h-8zM64 24h8v8h-8zM56 40h8v8h-8zM32 56h8v8h-8z"/><path fill="#bfbfbf" d="M40 -72h16v8h-16zM-88 -56h32v8h-32zM40 -56h16v8h-16zM-88 -48h16v8h-16zM-88 -40h8v8h-8zM-96 -32h8v8h-8zM-104 -24h8v8h-8zM-104 -8h8v8h-8zM-96 0h8v8h-8zM-96 8h8v8h-8zM72 8h8v8h-8zM-88 16h8v8h-8zM64 16h8v8h-8z"/><path fill="#c1c1c1" d="M40 -64h16v8h-16zM-88 -32h8v8h-8zM-104 -16h8v8h-8zM56 24h8v8h-8zM56 32h8v8h-8z"/><path fill="#c4c4c4" d="M-72 -48h24v8h-24zM-80 -40h8v8h-8zM64 -32h8v8h-8zM-96 -24h8v8h-8zM-96 -8h8v8h-8zM80 -8h8v8h-8zM72 0h16v8h-16zM-88 8h8v8h-8zM56 16h8v8h-8zM48 24h8v8h-8zM48 32h8v8h-8zM48 40h8v8h-8zM0 56h8v8h-8z"/><path fill="#c7c7c7" d="M-72 -40h24v8h-24zM-80 -32h24v8h-24zM-88 -24h16v8h-16zM72 -24h16v8h-16zM-96 -16h16v8h-16zM-88 -8h8v8h-8zM72 -8h8v8h-8zM-88 0h8v8h-8zM-80 8h8v8h-8zM-80 24h8v8h-8z"/><path fill="#c9c9c9" d="M-56 -32h8v8h-8zM56 -32h8v8h-8zM-72 -24h16v8h-16zM64 -24h8v8h-8zM-80 -16h8v8h-8zM64 -16h24v8h-24zM-80 0h8v8h-8zM-80 16h8v8h-8zM48 16h8v8h-8zM40 40h8v8h-8zM32 48h8v8h-8z"/><path fill="#cccccc" d="M-56 -24h8v8h-8zM0 48h8v8h-8z"/><path fill="#cfcfcf" d="M-72 -16h16v8h-16zM-80 -8h8v8h-8zM64 -8h8v8h-8zM-72 24h8v8h-8zM32 40h8v8h-8zM24 56h8v8h-8z"/><path fill="#d1d1d1" d="M56 -24h8v8h-8zM-56 -16h8v8h-8zM-72 -8h16v8h-16zM-72 0h8v8h-8zM-72 8h8v8h-8zM48 8h8v8h-8zM-72 16h8v8h-8zM40 32h8v8h-8zM8 40h8v8h-8zM24 40h8v8h-8zM8 56h8v8h-8z"/><path fill="#d4d4d4" d="M-64 24h8v8h-8zM16 40h8v8h-8zM8 48h24v8h-24zM16 56h8v8h-8z"/><path fill="#d7d7d7" d="M48 -24h8v8h-8zM-48 -16h8v8h-8zM-56 -8h8v8h-8zM-64 0h8v8h-8zM40 0h8v8h-8zM56 0h8v8h-8zM40 8h8v8h-8zM-64 16h8v8h-8zM-56 24h8v8h-8z"/><path fill="#d9d9d9" d="M40 -16h8v8h-8zM40 -8h8v8h-8zM48 0h8v8h-8zM-64 8h16v8h-16zM32 8h8v8h-8zM-56 16h8v8h-8zM40 16h8v8h-8zM-48 24h24v8h-24zM40 24h8v8h-8zM32 32h8v8h-8z"/><path fill="#dcdcdc" d="M48 -16h16v8h-16zM-48 -8h16v8h-16zM56 -8h8v8h-8zM-56 0h8v8h-8zM-32 0h8v8h-8zM-32 8h8v8h-8zM-48 16h24v8h-24z"/><path fill="#dfdfdf" d="M48 -8h8v8h-8zM-48 0h16v8h-16zM-48 8h16v8h-16zM32 16h8v8h-8zM32 24h8v8h-8z"/></g></g>
<use href="#grat"/><use href="#frame"/>
<g font-size="17.5" text-anchor="middle">
<text x="26.0" y="-14.3">140°W</text>
<text x="110.8" y="-14.3">160°W</text>
<text x="175.8" y="-14.3">180°</text>
<text x="240.7" y="-14.3">160°E</text>
<text x="325.5" y="-14.3">140°E</text>
</g>
<g font-size="17.5" text-anchor="end"><text x="-11" y="33.3">50°N</text><text x="-11" y="336.1">50°N</text></g>
</g>
<text x="12" y="29.4" font-size="18">a)</text>
<g transform="translate(479.25 68.25)">
<g transform="translate(175.75 178.5)" mask="url(#land)"><g filter="url(#fb)"><path fill="#434343" d="M56 160h8v8h-8z"/><path fill="#464646" d="M56 152h8v8h-8z"/><path fill="#484848" d="M48 160h8v8h-8zM64 160h8v8h-8zM8 168h8v8h-8zM56 168h8v8h-8z"/><path fill="#4b4b4b" d="M104 128h8v8h-8zM40 160h8v8h-8zM48 168h8v8h-8z"/><path fill="#4e4e4e" d="M112 128h8v8h-8zM64 152h8v8h-8zM40 168h8v8h-8z"/><path fill="#515151" d="M104 136h16v8h-16z"/><path fill="#535353" d="M72 160h8v8h-8z"/><path fill="#565656" d="M80 136h8v8h-8zM80 144h8v8h-8zM104 144h8v8h-8zM72 152h24v8h-24zM8 160h8v8h-8zM32 168h8v8h-8z"/><path fill="#595959" d="M112 120h8v8h-8zM120 128h8v8h-8zM96 136h8v8h-8zM72 144h8v8h-8zM88 144h16v8h-16zM48 152h8v8h-8zM32 160h8v8h-8z"/><path fill="#5b5b5b" d="M96 128h8v8h-8zM88 136h8v8h-8zM24 160h8v8h-8z"/><path fill="#5e5e5e" d="M104 120h8v8h-8zM72 136h8v8h-8zM64 144h8v8h-8zM16 168h16v8h-16z"/><path fill="#616161" d="M120 120h8v8h-8zM-56 128h16v8h-16zM88 128h8v8h-8zM-56 136h16v8h-16zM40 152h8v8h-8z"/><path fill="#636363" d="M96 120h8v8h-8zM56 144h8v8h-8zM16 160h8v8h-8z"/><path fill="#666666" d="M-56 120h16v8h-16zM128 120h8v8h-8zM-64 128h8v8h-8zM-64 136h8v8h-8zM-40 136h8v8h-8zM-56 144h16v8h-16zM48 144h8v8h-8z"/><path fill="#696969" d="M104 112h16v8h-16zM-40 128h8v8h-8zM80 128h8v8h-8zM-64 144h8v8h-8zM-32 144h8v8h-8z"/><path fill="#6b6b6b" d="M128 104h8v8h-8zM120 112h24v8h-24zM64 136h8v8h-8zM-40 144h8v8h-8zM32 152h8v8h-8z"/><path fill="#6e6e6e" d="M120 104h8v8h-8zM136 104h8v8h-8zM88 120h8v8h-8zM-72 136h8v8h-8zM24 152h8v8h-8z"/><path fill="#717171" d="M-64 120h8v8h-8zM-72 128h8v8h-8zM56 136h8v8h-8z"/><path fill="#737373" d="M96 112h8v8h-8zM-40 120h8v8h-8zM72 128h8v8h-8zM-32 136h8v8h-8zM40 144h8v8h-8z"/><path fill="#767676" d="M-64 -160h8v8h-8zM144 80h8v8h-8zM128 96h8v8h-8zM144 104h8v8h-8zM88 112h8v8h-8zM80 120h8v8h-8zM64 128h8v8h-8zM32 144h8v8h-8z"/><path fill="#797979" d="M-72 -160h8v8h-8zM144 88h8v8h-8zM136 96h8v8h-8zM96 104h8v8h-8zM72 120h8v8h-8z"/><path fill="#7b7b7b" d="M-64 -168h8v8h-8zM-152 -88h8v8h-8zM-168 -64h8v8h-8zM152 80h8v8h-8zM152 88h8v8h-8zM144 96h8v8h-8zM104 104h16v8h-16zM-32 128h8v8h-8z"/><path fill="#7e7e7e" d="M-72 -168h8v8h-8zM-64 -152h8v8h-8zM120 96h8v8h-8zM48 136h8v8h-8z"/><path fill="#818181" d="M-64 -176h16v8h-16zM-56 -168h16v8h-16zM-56 -160h16v8h-16zM-72 -152h8v8h-8zM-80 -136h8v8h-8zM-152 -96h8v8h-8zM-160 -88h8v8h-8zM160 56h8v8h-8zM136 88h8v8h-8zM112 96h8v8h-8zM-72 120h8v8h-8zM48 128h16v8h-16zM40 136h8v8h-8zM8 152h8v8h-8z"/><path fill="#848484" d="M-48 -176h16v8h-16zM-40 -168h8v8h-8zM128 -112h8v8h-8zM-160 -96h8v8h-8zM144 -88h8v8h-8zM-168 -72h8v8h-8zM-176 -64h8v8h-8zM152 56h8v8h-8zM152 72h8v8h-8zM80 112h8v8h-8zM64 120h8v8h-8z"/><path fill="#868686" d="M-40 -160h8v8h-8zM-56 -152h8v8h-8zM-64 -144h8v8h-8zM128 -120h8v8h-8zM-136 -112h8v8h-8zM120 -112h8v8h-8zM144 -96h8v8h-8zM-168 -56h8v8h-8zM168 -8h8v8h-8zM168 0h8v8h-8zM160 48h8v8h-8zM168 56h8v8h-8zM160 64h8v8h-8zM144 72h8v8h-8zM160 72h8v8h-8zM120 88h16v8h-16zM40 128h8v8h-8z"/><path fill="#898989" d="M-80 -168h8v8h-8zM-72 -144h8v8h-8zM-136 -120h8v8h-8zM120 -120h8v8h-8zM136 -120h8v8h-8zM-144 -112h8v8h-8zM136 -112h8v8h-8zM-152 -104h8v8h-8zM152 -96h8v8h-8zM152 -88h8v8h-8zM-168 -80h16v8h-16zM88 104h8v8h-8zM64 112h16v8h-16zM56 120h8v8h-8zM32 136h8v8h-8zM24 144h8v8h-8z"/><path fill="#8c8c8c" d="M-32 -176h8v8h-8zM-32 -168h8v8h-8zM-72 -136h8v8h-8zM104 -136h16v8h-16zM128 -128h8v8h-8zM-144 -120h8v8h-8zM-152 -112h8v8h-8zM-144 -104h8v8h-8zM128 -104h8v8h-8zM144 -104h8v8h-8zM-144 -96h8v8h-8zM-152 -80h8v8h-8zM-160 -72h8v8h-8zM-160 -64h8v8h-8zM152 -64h16v8h-16zM-176 -56h8v8h-8zM160 -32h16v8h-16zM160 24h16v8h-16zM168 48h8v8h-8zM152 64h8v8h-8zM-32 120h8v8h-8zM32 128h8v8h-8z"/><path fill="#8e8e8e" d="M-80 -160h8v8h-8zM112 -144h8v8h-8zM-88 -136h8v8h-8zM104 -128h24v8h-24zM144 -112h8v8h-8zM-136 -104h8v8h-8zM136 -104h8v8h-8zM136 -96h8v8h-8zM152 -80h8v8h-8zM160 -72h8v8h-8zM168 -64h8v8h-8zM152 -56h16v8h-16zM168 -40h8v8h-8zM168 32h8v8h-8zM112 88h8v8h-8zM104 96h8v8h-8zM56 112h8v8h-8zM48 120h8v8h-8zM24 136h8v8h-8z"/><path fill="#919191" d="M-80 -144h8v8h-8zM104 -144h8v8h-8zM120 -136h8v8h-8zM-88 -128h8v8h-8zM-128 -120h8v8h-8zM-128 -112h8v8h-8zM-144 -88h8v8h-8zM144 -80h8v8h-8zM160 -80h8v8h-8zM152 -72h8v8h-8zM160 -40h8v8h-8zM168 -24h8v8h-8zM168 -16h8v8h-8zM168 8h8v8h-8zM136 80h8v8h-8zM40 120h8v8h-8zM16 144h8v8h-8z"/><path fill="#949494" d="M-32 -160h8v8h-8zM96 -136h8v8h-8zM-80 -128h8v8h-8zM-136 -96h8v8h-8zM-152 -72h8v8h-8zM168 -56h8v8h-8zM168 -48h8v8h-8zM168 16h8v8h-8zM160 32h8v8h-8zM160 40h16v8h-16zM152 48h8v8h-8zM144 64h8v8h-8zM136 72h8v8h-8zM128 80h8v8h-8zM96 96h8v8h-8zM72 104h16v8h-16zM40 112h16v8h-16zM32 120h8v8h-8zM8 144h8v8h-8z"/><path fill="#969696" d="M104 -152h8v8h-8zM-56 -144h8v8h-8zM-136 -128h8v8h-8zM-72 -128h8v8h-8zM112 -120h8v8h-8zM128 -96h8v8h-8zM136 -88h8v8h-8zM-160 -56h8v8h-8zM160 -48h8v8h-8zM160 -24h8v8h-8zM160 -8h8v8h-8zM160 0h8v8h-8zM80 96h16v8h-16zM64 104h8v8h-8zM24 112h8v8h-8zM16 152h8v8h-8z"/><path fill="#999999" d="M-80 -152h8v8h-8zM-48 -152h8v8h-8zM-88 -144h8v8h-8zM96 -144h8v8h-8zM-120 -112h8v8h-8zM112 -112h8v8h-8zM-128 -104h8v8h-8zM120 -104h8v8h-8zM144 -72h8v8h-8zM-176 -48h16v8h-16zM-176 -32h8v8h-8zM160 -16h8v8h-8zM160 8h8v8h-8zM32 112h8v8h-8zM24 128h8v8h-8z"/><path fill="#9c9c9c" d="M80 -160h16v8h-16zM80 -152h24v8h-24zM-64 -136h8v8h-8zM-104 -120h8v8h-8zM112 -104h8v8h-8zM120 -96h8v8h-8zM128 -88h8v8h-8zM-144 -80h8v8h-8zM136 -80h8v8h-8zM152 -48h8v8h-8zM-176 -40h8v8h-8zM160 16h8v8h-8zM152 40h8v8h-8zM136 64h8v8h-8zM120 80h8v8h-8zM24 120h8v8h-8z"/><path fill="#9e9e9e" d="M-40 -152h8v8h-8zM-48 -144h8v8h-8zM88 -144h8v8h-8zM-128 -128h8v8h-8zM-112 -128h8v8h-8zM-120 -120h8v8h-8zM-80 -120h8v8h-8zM-128 -96h8v8h-8zM-136 -88h8v8h-8zM-152 -64h8v8h-8zM144 -64h8v8h-8zM-160 -48h8v8h-8zM144 56h8v8h-8zM128 72h8v8h-8zM112 80h8v8h-8zM104 88h8v8h-8zM56 96h8v8h-8zM32 104h32v8h-32zM-64 112h16v8h-16z"/><path fill="#a1a1a1" d="M-88 -160h8v8h-8zM72 -160h8v8h-8zM-32 -152h8v8h-8zM72 -152h8v8h-8zM-56 -136h8v8h-8zM88 -136h8v8h-8zM96 -128h8v8h-8zM-112 -120h8v8h-8zM-88 -120h8v8h-8zM104 -120h8v8h-8zM-112 -112h8v8h-8zM-120 -104h8v8h-8zM136 -72h8v8h-8zM144 48h8v8h-8zM104 80h8v8h-8zM88 88h16v8h-16zM64 96h16v8h-16zM-48 112h8v8h-8zM16 120h8v8h-8zM16 128h8v8h-8z"/><path fill="#a4a4a4" d="M-24 -160h8v8h-8zM-40 -144h8v8h-8zM80 -144h8v8h-8zM-104 -128h16v8h-16zM-64 -128h8v8h-8zM-96 -120h8v8h-8zM-104 -112h16v8h-16zM104 -112h8v8h-8zM-120 -96h8v8h-8zM-144 -72h8v8h-8zM-168 -40h8v8h-8zM152 -40h8v8h-8zM-176 -24h8v8h-8zM40 96h16v8h-16zM24 104h8v8h-8z"/><path fill="#a6a6a6" d="M-96 -160h8v8h-8zM64 -152h8v8h-8zM64 -144h16v8h-16zM80 -136h8v8h-8zM-120 -128h8v8h-8zM88 -128h8v8h-8zM96 -120h8v8h-8zM-112 -104h8v8h-8zM112 -96h8v8h-8zM128 -80h8v8h-8zM136 -64h8v8h-8zM144 -56h8v8h-8zM144 -48h8v8h-8zM152 32h8v8h-8zM144 40h8v8h-8zM56 88h16v8h-16zM80 88h8v8h-8zM32 96h8v8h-8z"/><path fill="#a9a9a9" d="M40 -176h24v8h-24zM24 -168h16v8h-16zM48 -168h16v8h-16zM48 -160h24v8h-24zM-96 -152h16v8h-16zM-24 -152h8v8h-8zM48 -152h16v8h-16zM-96 -144h8v8h-8zM-32 -144h8v8h-8zM48 -144h16v8h-16zM72 -136h8v8h-8zM104 -104h8v8h-8zM-128 -88h8v8h-8zM120 -88h8v8h-8zM136 -56h8v8h-8zM152 -32h8v8h-8zM152 -24h8v8h-8zM152 -16h8v8h-8zM152 8h8v8h-8zM152 16h8v8h-8zM152 24h8v8h-8zM136 56h8v8h-8zM128 64h8v8h-8zM120 72h8v8h-8zM72 80h8v8h-8zM96 80h8v8h-8zM32 88h24v8h-24zM72 88h8v8h-8zM24 96h8v8h-8zM16 136h8v8h-8z"/><path fill="#acacac" d="M16 -176h24v8h-24zM16 -168h8v8h-8zM40 -168h8v8h-8zM16 -160h32v8h-32zM40 -152h8v8h-8zM40 -144h8v8h-8zM-128 -136h8v8h-8zM-48 -136h8v8h-8zM-56 -128h8v8h-8zM80 -128h8v8h-8zM-72 -120h8v8h-8zM-88 -112h8v8h-8zM-104 -104h8v8h-8zM-136 -80h8v8h-8zM-136 -72h8v8h-8zM-152 -56h8v8h-8zM-152 -48h8v8h-8zM144 -40h8v8h-8zM-168 -32h8v8h-8zM-168 -24h8v8h-8zM128 56h8v8h-8zM120 64h8v8h-8zM96 72h8v8h-8zM112 72h8v8h-8zM80 80h16v8h-16z"/><path fill="#aeaeae" d="M8 -176h8v8h-8zM8 -168h8v8h-8zM32 -152h8v8h-8zM-24 -144h8v8h-8zM48 -136h24v8h-24zM-64 -120h8v8h-8zM88 -120h8v8h-8zM-80 -112h8v8h-8zM-96 -104h8v8h-8zM-144 -64h8v8h-8zM-160 -40h8v8h-8zM152 -8h8v8h-8zM152 0h8v8h-8zM144 32h8v8h-8zM136 48h8v8h-8zM104 72h8v8h-8z"/><path fill="#b1b1b1" d="M-8 -168h16v8h-16zM8 -160h8v8h-8zM-16 -152h8v8h-8zM24 -152h8v8h-8zM32 -144h8v8h-8zM-96 -136h8v8h-8zM-40 -136h16v8h-16zM40 -136h8v8h-8zM-48 -128h8v8h-8zM-72 -112h8v8h-8zM96 -112h8v8h-8zM-88 -104h8v8h-8zM-112 -96h8v8h-8zM-120 -88h8v8h-8zM112 -88h8v8h-8zM-128 -80h8v8h-8zM128 -72h8v8h-8zM136 -48h8v8h-8zM136 40h8v8h-8zM72 72h8v8h-8zM88 72h8v8h-8z"/><path fill="#b4b4b4" d="M-8 -160h16v8h-16zM-8 -152h32v8h-32zM-16 -144h8v8h-8zM16 -144h16v8h-16zM-24 -136h8v8h-8zM24 -136h16v8h-16zM40 -128h40v8h-40zM-104 -96h8v8h-8zM96 -96h16v8h-16zM-112 -88h8v8h-8zM104 -88h8v8h-8zM120 -80h8v8h-8zM120 -72h8v8h-8zM128 -64h8v8h-8zM144 -32h8v8h-8zM144 -16h8v8h-8zM144 8h8v8h-8zM144 16h8v8h-8zM144 24h8v8h-8zM136 32h8v8h-8zM128 40h8v8h-8zM128 48h8v8h-8zM120 56h8v8h-8zM112 64h8v8h-8zM80 72h8v8h-8z"/><path fill="#b7b7b7" d="M-104 -152h8v8h-8zM-8 -144h24v8h-24zM-120 -136h8v8h-8zM16 -136h8v8h-8zM32 -128h8v8h-8zM-56 -120h8v8h-8zM40 -120h16v8h-16zM64 -120h16v8h-16zM96 -104h8v8h-8zM-96 -96h8v8h-8zM112 -80h8v8h-8zM-136 -64h8v8h-8zM-144 -56h8v8h-8zM-160 -24h8v8h-8zM144 -24h8v8h-8zM120 48h8v8h-8zM112 56h8v8h-8zM80 64h16v8h-16zM104 64h8v8h-8zM24 72h8v8h-8z"/><path fill="#b9b9b9" d="M-16 -136h8v8h-8zM8 -136h8v8h-8zM-40 -128h24v8h-24zM24 -128h8v8h-8zM-48 -120h8v8h-8zM-24 -120h8v8h-8zM32 -120h8v8h-8zM56 -120h8v8h-8zM80 -120h8v8h-8zM-64 -112h8v8h-8zM-80 -104h8v8h-8zM96 -88h8v8h-8zM-120 -80h8v8h-8zM-128 -72h8v8h-8zM120 -64h8v8h-8zM128 -56h8v8h-8zM-144 -48h8v8h-8zM128 -48h8v8h-8zM-152 -40h8v8h-8zM136 -40h8v8h-8zM-160 -32h8v8h-8zM-176 -16h8v8h-8zM144 -8h8v8h-8zM144 0h8v8h-8zM136 16h8v8h-8zM136 24h8v8h-8zM128 32h8v8h-8zM64 64h16v8h-16zM96 64h8v8h-8z"/><path fill="#bcbcbc" d="M-16 -128h8v8h-8zM16 -128h8v8h-8zM-40 -120h16v8h-16zM-56 -112h8v8h-8zM-32 -112h16v8h-16zM72 -112h8v8h-8zM-72 -104h8v8h-8zM-88 -96h8v8h-8zM88 -96h8v8h-8zM104 -80h8v8h-8zM120 -56h8v8h-8zM128 -40h8v8h-8zM136 -32h8v8h-8zM136 -24h8v8h-8zM136 -16h8v8h-8zM136 -8h8v8h-8zM136 0h8v8h-8zM136 8h8v8h-8zM128 24h8v8h-8zM120 40h8v8h-8zM112 48h8v8h-8z"/><path fill="#bfbfbf" d="M-8 -136h16v8h-16zM-8 -128h24v8h-24zM-16 -120h48v8h-48zM-8 -112h32v8h-32zM48 -112h24v8h-24zM80 -112h16v8h-16zM-32 -104h8v8h-8zM56 -104h8v8h-8zM80 -104h16v8h-16zM-80 -96h8v8h-8zM-32 -96h8v8h-8zM-104 -88h16v8h-16zM88 -88h8v8h-8zM-112 -80h8v8h-8zM88 -80h16v8h-16zM-120 -72h8v8h-8zM104 -72h16v8h-16zM-128 -64h8v8h-8zM112 -64h8v8h-8zM-136 -56h8v8h-8zM-152 -32h8v8h-8zM-152 -24h8v8h-8zM-168 -16h8v8h-8zM128 16h8v8h-8zM120 32h8v8h-8zM112 40h8v8h-8zM96 56h16v8h-16zM16 72h8v8h-8z"/><path fill="#c1c1c1" d="M-112 -152h8v8h-8zM-120 -144h8v8h-8zM-40 -112h8v8h-8zM24 -112h8v8h-8zM40 -112h8v8h-8zM-64 -104h8v8h-8zM-40 -104h8v8h-8zM48 -104h8v8h-8zM64 -104h16v8h-16zM-72 -96h8v8h-8zM-40 -96h8v8h-8zM-88 -88h8v8h-8zM80 -88h8v8h-8zM-104 -80h8v8h-8zM80 -80h8v8h-8zM104 -64h8v8h-8zM112 -56h8v8h-8zM120 -48h8v8h-8zM-144 -40h8v8h-8zM120 -40h8v8h-8zM-160 -16h8v8h-8zM128 8h8v8h-8zM112 32h8v8h-8zM104 48h8v8h-8zM8 72h8v8h-8z"/><path fill="#c4c4c4" d="M-56 -104h16v8h-16zM-64 -96h24v8h-24zM64 -96h24v8h-24zM-80 -88h32v8h-32zM-112 -72h8v8h-8zM88 -72h16v8h-16zM-120 -64h8v8h-8zM112 -48h8v8h-8zM112 -40h8v8h-8zM-144 -32h8v8h-8zM128 -32h8v8h-8zM-144 -24h8v8h-8zM128 -24h8v8h-8zM128 -16h8v8h-8zM128 -8h8v8h-8zM128 0h8v8h-8zM120 8h8v8h-8zM120 16h8v8h-8zM120 24h8v8h-8zM96 48h8v8h-8zM80 56h16v8h-16z"/><path fill="#c7c7c7" d="M-48 -112h8v8h-8zM32 -112h8v8h-8zM56 -96h8v8h-8zM72 -88h8v8h-8zM-80 -80h8v8h-8zM-104 -72h8v8h-8zM-112 -64h8v8h-8zM-128 -56h8v8h-8zM104 -56h8v8h-8zM-136 -48h8v8h-8zM104 -48h8v8h-8zM-136 -40h8v8h-8zM120 -32h8v8h-8zM120 -24h8v8h-8zM120 -16h8v8h-8zM120 -8h8v8h-8zM120 0h8v8h-8zM112 16h8v8h-8zM112 24h8v8h-8zM104 40h8v8h-8zM72 56h8v8h-8z"/><path fill="#c9c9c9" d="M24 -104h24v8h-24zM32 -96h24v8h-24zM48 -88h8v8h-8zM-96 -80h16v8h-16zM-96 -72h16v8h-16zM72 -72h16v8h-16zM72 -64h8v8h-8zM88 -64h16v8h-16zM96 -56h8v8h-8zM-128 -48h8v8h-8zM96 -48h8v8h-8zM96 -40h16v8h-16zM112 -32h8v8h-8zM112 -24h8v8h-8zM-152 -16h8v8h-8zM-176 -8h16v8h-16zM112 8h8v8h-8zM104 16h8v8h-8zM104 24h8v8h-8zM104 32h8v8h-8zM-168 40h8v8h-8zM96 40h8v8h-8zM88 48h8v8h-8zM32 64h8v8h-8z"/><path fill="#cccccc" d="M40 -88h8v8h-8zM72 -80h8v8h-8zM-80 -72h8v8h-8zM80 -64h8v8h-8zM-120 -56h8v8h-8zM-136 -32h8v8h-8zM104 -32h8v8h-8zM104 -24h8v8h-8zM112 -16h8v8h-8zM104 8h8v8h-8zM-168 32h8v8h-8zM-176 40h8v8h-8zM-176 48h16v8h-16zM80 48h8v8h-8z"/><path fill="#cfcfcf" d="M-112 -136h8v8h-8zM56 -88h16v8h-16zM64 -64h8v8h-8zM88 -56h8v8h-8zM88 -48h8v8h-8zM-128 -40h8v8h-8zM-128 -32h8v8h-8zM96 -32h8v8h-8zM-136 -24h16v8h-16zM-144 -16h8v8h-8zM104 -16h8v8h-8zM112 -8h8v8h-8zM104 0h16v8h-16zM96 24h8v8h-8zM-176 32h8v8h-8zM96 32h8v8h-8zM88 40h8v8h-8zM-176 56h8v8h-8zM64 56h8v8h-8z"/><path fill="#d1d1d1" d="M-112 -144h16v8h-16zM64 -72h8v8h-8zM-104 -64h16v8h-16zM-112 -56h16v8h-16zM72 -56h8v8h-8zM88 -40h8v8h-8zM-160 -8h8v8h-8zM104 -8h8v8h-8zM-160 0h8v8h-8zM-168 8h8v8h-8zM96 8h8v8h-8zM96 16h8v8h-8zM-176 24h8v8h-8zM-160 40h8v8h-8zM-160 48h8v8h-8zM-168 56h8v8h-8z"/><path fill="#d4d4d4" d="M32 -80h40v8h-40zM64 -56h8v8h-8zM80 -56h8v8h-8zM72 -48h16v8h-16zM80 -40h8v8h-8zM80 -32h16v8h-16zM96 -24h8v8h-8zM-136 -16h8v8h-8zM96 -16h8v8h-8zM-152 -8h8v8h-8zM96 -8h8v8h-8zM-152 0h8v8h-8zM96 0h8v8h-8zM88 8h8v8h-8zM88 16h8v8h-8zM-168 24h8v8h-8zM88 24h8v8h-8zM-160 32h16v8h-16zM88 32h8v8h-8zM-152 40h8v8h-8zM80 40h8v8h-8zM-160 56h8v8h-8zM-168 64h8v8h-8zM-168 72h8v8h-8z"/><path fill="#d7d7d7" d="M-88 -64h8v8h-8zM-120 -48h16v8h-16zM64 -48h8v8h-8zM-120 -40h8v8h-8zM72 -40h8v8h-8zM-120 -32h8v8h-8zM-128 -16h8v8h-8zM-144 -8h8v8h-8zM-160 8h8v8h-8zM-168 16h8v8h-8zM80 16h8v8h-8zM80 24h8v8h-8zM-144 32h8v8h-8zM-144 40h8v8h-8zM-152 48h8v8h-8zM-128 48h8v8h-8zM72 48h8v8h-8zM-128 56h8v8h-8zM-160 64h8v8h-8zM0 64h8v8h-8zM24 64h8v8h-8zM-160 72h8v8h-8zM-160 80h16v8h-16zM-40 104h8v8h-8z"/><path fill="#d9d9d9" d="M56 -72h8v8h-8zM-72 -64h8v8h-8zM-96 -56h8v8h-8zM-112 -40h8v8h-8zM72 -32h8v8h-8zM88 -24h8v8h-8zM-144 0h8v8h-8zM88 0h8v8h-8zM80 8h8v8h-8zM-160 24h8v8h-8zM80 32h8v8h-8zM-136 40h16v8h-16zM-144 48h16v8h-16zM-120 48h8v8h-8zM-152 56h8v8h-8zM-136 56h8v8h-8zM-120 56h8v8h-8zM-152 64h40v8h-40zM-152 72h16v8h-16z"/><path fill="#dcdcdc" d="M-80 -64h8v8h-8zM56 -56h8v8h-8zM64 -40h8v8h-8zM-112 -32h8v8h-8zM-120 -24h16v8h-16zM-120 -16h8v8h-8zM88 -16h8v8h-8zM88 -8h8v8h-8zM-152 8h16v8h-16zM-160 16h8v8h-8zM-152 24h8v8h-8zM-144 56h8v8h-8zM-112 56h8v8h-8zM-112 64h8v8h-8z"/><path fill="#dfdfdf" d="M32 -72h8v8h-8zM56 -64h8v8h-8zM-136 -8h16v8h-16zM80 -8h8v8h-8zM-136 0h8v8h-8zM80 0h8v8h-8zM72 8h8v8h-8zM-152 16h16v8h-16zM-144 24h8v8h-8zM-136 32h8v8h-8zM-120 40h8v8h-8zM-112 48h8v8h-8zM8 64h16v8h-16zM-56 104h8v8h-8z"/><path fill="#e1e1e1" d="M-104 -136h8v8h-8zM-104 -48h8v8h-8zM64 -32h8v8h-8zM-112 -16h8v8h-8zM-128 0h8v8h-8zM72 0h8v8h-8zM-136 8h8v8h-8zM72 16h8v8h-8zM-136 24h8v8h-8zM-112 40h8v8h-8zM-104 48h8v8h-8zM32 56h8v8h-8z"/><path fill="#e4e4e4" d="M32 -64h8v8h-8zM48 -56h8v8h-8zM-96 -48h8v8h-8zM-120 -8h8v8h-8zM72 -8h8v8h-8zM-136 16h8v8h-8zM-128 32h16v8h-16zM64 48h8v8h-8zM-40 96h8v8h-8zM-48 104h8v8h-8z"/><path fill="#e7e7e7" d="M40 -72h16v8h-16zM-88 -56h32v8h-32zM40 -56h8v8h-8zM-88 -48h16v8h-16zM-104 -40h16v8h-16zM-104 -32h8v8h-8zM56 -32h8v8h-8zM-104 -24h8v8h-8zM72 -24h16v8h-16zM-112 -8h8v8h-8zM-120 0h16v8h-16zM-128 24h24v8h-24zM-112 32h8v8h-8zM-104 40h8v8h-8zM56 48h8v8h-8zM0 56h8v8h-8z"/><path fill="#eaeaea" d="M40 -64h16v8h-16zM-88 -40h8v8h-8zM-96 -32h8v8h-8zM64 -24h8v8h-8zM64 -16h24v8h-24zM-128 8h8v8h-8zM-112 16h16v8h-16zM-104 24h16v8h-16zM72 24h8v8h-8zM-104 32h16v8h-16zM-96 40h8v8h-8zM72 40h8v8h-8zM-56 96h16v8h-16z"/><path fill="#ececec" d="M56 -24h8v8h-8zM-104 -8h8v8h-8zM64 -8h8v8h-8zM-120 8h16v8h-16zM-128 16h16v8h-16zM-96 16h8v8h-8zM64 16h8v8h-8zM-88 24h8v8h-8zM0 48h8v8h-8zM32 48h8v8h-8zM8 56h8v8h-8zM24 56h8v8h-8z"/><path fill="#efefef" d="M-72 -48h8v8h-8zM-80 -40h8v8h-8zM-88 -32h8v8h-8zM48 -24h8v8h-8zM-104 -16h8v8h-8zM-48 -8h16v8h-16zM-104 0h8v8h-8zM-56 0h32v8h-32zM-104 8h16v8h-16zM-64 8h40v8h-40zM-88 16h8v8h-8zM-56 16h32v8h-32zM56 16h8v8h-8zM-80 24h8v8h-8zM-48 24h24v8h-24zM56 24h16v8h-16zM48 32h32v8h-32zM8 40h64v8h-64zM8 48h24v8h-24zM16 56h8v8h-8z"/><path fill="#f2f2f2" d="M-64 -48h16v8h-16zM-48 -16h8v8h-8zM40 -16h8v8h-8zM56 -16h8v8h-8zM-56 -8h8v8h-8zM40 -8h8v8h-8zM-96 0h8v8h-8zM-64 0h8v8h-8zM40 0h24v8h-24zM-72 8h8v8h-8zM40 8h16v8h-16zM-80 16h24v8h-24zM48 16h8v8h-8zM-72 24h24v8h-24zM48 24h8v8h-8zM40 32h8v8h-8z"/><path fill="#f4f4f4" d="M-96 -24h8v8h-8zM-56 -16h8v8h-8zM48 -16h8v8h-8zM-96 -8h8v8h-8zM-64 -8h8v8h-8zM48 -8h16v8h-16zM-88 0h16v8h-16zM-88 8h16v8h-16zM32 8h8v8h-8zM32 16h16v8h-16zM32 24h16v8h-16zM32 32h8v8h-8z"/><path fill="#f7f7f7" d="M-72 -40h24v8h-24zM-80 -32h8v8h-8zM-56 -32h8v8h-8zM-88 -24h40v8h-40zM-80 -16h24v8h-24zM-88 -8h16v8h-16zM-72 0h8v8h-8z"/><path fill="#fafafa" d="M-72 -32h16v8h-16zM-96 -16h16v8h-16zM-72 -8h8v8h-8z"/></g></g>
<use href="#grat"/><use href="#frame"/>
<g font-size="17.5" text-anchor="middle">
<text x="26.0" y="-14.3">140°W</text>
<text x="110.8" y="-14.3">160°W</text>
<text x="175.8" y="-14.3">180°</text>
<text x="240.7" y="-14.3">160°E</text>
<text x="325.5" y="-14.3">140°E</text>
</g>
<g font-size="17.5" text-anchor="end"><text x="-11" y="33.3">50°N</text><text x="-11" y="336.1">50°N</text></g>
</g>
<text x="440" y="25" font-size="18">b)</text>
<g transform="translate(56.75 512.75)">
<g transform="translate(175.75 178.5)" mask="url(#land)"><g filter="url(#fc)"><path fill="#2e2e2e" d="M40 -136h8v8h-8z"/><path fill="#303030" d="M48 -136h8v8h-8zM40 -128h16v8h-16z"/><path fill="#333333" d="M72 -32h8v8h-8z"/><path fill="#363636" d="M32 -136h8v8h-8z"/><path fill="#383838" d="M16 -144h32v8h-32zM24 -136h8v8h-8zM32 -128h8v8h-8zM80 -32h8v8h-8zM-72 -8h8v8h-8zM-64 0h32v8h-32zM-64 8h32v8h-32zM-48 16h8v8h-8z"/><path fill="#3b3b3b" d="M16 -152h8v8h-8zM16 -136h8v8h-8zM56 -128h8v8h-8zM48 -120h8v8h-8zM72 -40h8v8h-8zM64 -32h8v8h-8zM-64 -8h32v8h-32zM-72 0h8v8h-8zM-32 0h8v8h-8zM-32 8h8v8h-8zM-64 16h16v8h-16zM-40 16h16v8h-16z"/><path fill="#3e3e3e" d="M24 -152h8v8h-8zM8 -144h8v8h-8zM48 -144h8v8h-8zM56 -136h8v8h-8zM40 -120h8v8h-8zM56 -120h16v8h-16zM56 -112h16v8h-16zM64 -40h8v8h-8zM72 -24h8v8h-8zM-48 -16h8v8h-8zM-56 24h24v8h-24z"/><path fill="#404040" d="M8 -152h8v8h-8zM32 -152h8v8h-8zM8 -136h8v8h-8zM16 -128h16v8h-16zM48 -112h8v8h-8zM56 -104h8v8h-8zM-56 -16h8v8h-8zM-80 -8h8v8h-8zM-72 8h8v8h-8zM-64 24h8v8h-8zM-32 24h8v8h-8z"/><path fill="#434343" d="M8 -168h8v8h-8zM-8 -160h24v8h-24zM-8 -152h16v8h-16zM0 -144h8v8h-8zM-56 -136h8v8h-8zM-72 -128h8v8h-8zM8 -128h8v8h-8zM64 -128h8v8h-8zM8 -120h32v8h-32zM72 -120h8v8h-8zM8 -112h16v8h-16zM72 -112h8v8h-8zM48 -104h8v8h-8zM64 -104h8v8h-8zM40 -96h24v8h-24zM40 -88h16v8h-16zM80 -40h8v8h-8zM56 -32h8v8h-8zM64 -24h8v8h-8zM-72 -16h16v8h-16zM64 -16h16v8h-16zM-72 16h8v8h-8z"/><path fill="#464646" d="M8 -176h40v8h-40zM16 -168h8v8h-8zM32 -168h8v8h-8zM16 -160h24v8h-24zM40 -152h8v8h-8zM-8 -144h8v8h-8zM56 -144h8v8h-8zM0 -136h8v8h-8zM64 -136h8v8h-8zM72 -128h8v8h-8zM-72 -120h8v8h-8zM0 -120h8v8h-8zM72 -104h8v8h-8zM64 -96h8v8h-8zM56 -88h8v8h-8zM64 -48h8v8h-8z"/><path fill="#484848" d="M48 -176h16v8h-16zM0 -168h8v8h-8zM24 -168h8v8h-8zM40 -168h8v8h-8zM40 -160h8v8h-8zM64 -144h8v8h-8zM-8 -136h8v8h-8zM72 -136h8v8h-8zM-80 -128h8v8h-8zM-64 -128h16v8h-16zM-8 -128h16v8h-16zM-80 -120h8v8h-8zM-8 -120h8v8h-8zM-96 -112h8v8h-8zM0 -112h8v8h-8zM24 -112h8v8h-8zM80 -112h8v8h-8zM80 -104h8v8h-8zM32 -96h8v8h-8zM72 -96h16v8h-16zM64 -88h24v8h-24zM32 -80h48v8h-48zM-56 -24h8v8h-8zM80 -24h8v8h-8zM64 -8h16v8h-16zM-72 24h8v8h-8z"/><path fill="#4b4b4b" d="M48 -168h16v8h-16zM48 -160h16v8h-16zM48 -152h24v8h-24zM-64 -136h8v8h-8zM80 -136h8v8h-8zM80 -128h8v8h-8zM-88 -120h8v8h-8zM80 -120h8v8h-8zM-88 -112h8v8h-8zM32 -112h16v8h-16zM88 -112h8v8h-8zM24 -104h24v8h-24zM88 -104h8v8h-8zM88 -96h8v8h-8zM88 -88h8v8h-8zM80 -80h16v8h-16zM56 -72h40v8h-40zM64 -64h24v8h-24zM56 -56h40v8h-40zM72 -48h24v8h-24zM88 -40h8v8h-8zM88 -32h8v8h-8zM56 -24h8v8h-8zM-80 -16h8v8h-8zM80 -16h8v8h-8zM80 -8h8v8h-8zM72 0h8v8h-8z"/><path fill="#4e4e4e" d="M-8 -168h8v8h-8zM64 -160h8v8h-8zM72 -144h8v8h-8zM88 -128h8v8h-8zM88 -120h16v8h-16zM-8 -112h8v8h-8zM96 -112h8v8h-8zM-96 -104h8v8h-8zM-120 -96h16v8h-16zM96 -96h8v8h-8zM96 -88h16v8h-16zM96 -80h16v8h-16zM32 -72h8v8h-8zM96 -72h16v8h-16zM56 -64h8v8h-8zM88 -64h24v8h-24zM96 -56h16v8h-16zM96 -48h8v8h-8zM96 -40h8v8h-8zM-56 -32h8v8h-8zM-72 -24h16v8h-16zM88 -24h8v8h-8zM88 -16h8v8h-8zM88 -8h8v8h-8zM80 0h8v8h-8zM-56 96h16v8h-16z"/><path fill="#515151" d="M88 -136h8v8h-8zM-96 -120h8v8h-8zM-104 -112h8v8h-8zM-112 -104h16v8h-16zM96 -104h8v8h-8zM104 -96h8v8h-8zM40 -72h16v8h-16zM32 -64h24v8h-24zM40 -56h16v8h-16zM104 -48h8v8h-8zM-56 -40h8v8h-8zM104 -40h8v8h-8zM-72 -32h16v8h-16zM96 -32h8v8h-8zM-80 -24h8v8h-8zM48 -24h8v8h-8zM-96 -16h16v8h-16zM88 0h8v8h-8zM72 8h16v8h-16z"/><path fill="#535353" d="M72 -160h8v8h-8zM-16 -152h8v8h-8zM72 -152h8v8h-8zM-16 -144h8v8h-8zM-72 -136h8v8h-8zM-16 -128h8v8h-8zM-64 -120h8v8h-8zM104 -120h8v8h-8zM-80 -112h8v8h-8zM104 -112h8v8h-8zM-72 -40h16v8h-16zM-80 -32h8v8h-8zM-88 -24h8v8h-8zM40 -16h8v8h-8zM-88 -8h8v8h-8zM96 -8h8v8h-8zM56 0h8v8h-8zM96 0h8v8h-8zM88 8h8v8h-8zM80 16h16v8h-16zM-40 96h8v8h-8zM-48 104h8v8h-8z"/><path fill="#565656" d="M80 -160h16v8h-16zM80 -152h24v8h-24zM80 -144h16v8h-16zM-80 -136h8v8h-8zM-16 -136h8v8h-8zM-88 -128h8v8h-8zM96 -128h8v8h-8zM-104 -120h8v8h-8zM-72 -112h16v8h-16zM-120 -104h8v8h-8zM104 -104h16v8h-16zM-120 -88h8v8h-8zM112 -64h8v8h-8zM112 -56h8v8h-8zM-72 -48h24v8h-24zM112 -48h8v8h-8zM-80 -40h8v8h-8zM112 -40h8v8h-8zM-96 -24h8v8h-8zM48 -16h16v8h-16zM-96 -8h8v8h-8zM40 -8h24v8h-24zM48 0h8v8h-8zM-80 16h8v8h-8zM72 16h8v8h-8zM-80 24h8v8h-8zM88 32h8v8h-8z"/><path fill="#595959" d="M104 -152h8v8h-8zM96 -144h8v8h-8zM96 -136h8v8h-8zM-16 -120h8v8h-8zM-112 -112h8v8h-8zM112 -112h8v8h-8zM-128 -104h8v8h-8zM-88 -104h8v8h-8zM120 -104h8v8h-8zM-104 -96h8v8h-8zM112 -96h8v8h-8zM-112 -88h8v8h-8zM112 -88h8v8h-8zM112 -80h8v8h-8zM112 -72h8v8h-8zM-88 -56h16v8h-16zM-88 -48h16v8h-16zM-88 -32h8v8h-8zM96 -16h8v8h-8zM-80 0h8v8h-8zM40 0h8v8h-8zM96 8h8v8h-8zM64 16h8v8h-8zM80 24h16v8h-16zM-56 104h8v8h-8z"/><path fill="#5b5b5b" d="M104 -144h16v8h-16zM-88 -136h8v8h-8zM104 -136h24v8h-24zM-96 -128h8v8h-8zM104 -128h16v8h-16zM-56 -120h8v8h-8zM112 -120h8v8h-8zM-120 -112h8v8h-8zM-80 -104h8v8h-8zM-128 -96h8v8h-8zM-96 -96h8v8h-8zM120 -96h8v8h-8zM-104 -88h8v8h-8zM-128 -80h8v8h-8zM120 -80h8v8h-8zM120 -72h8v8h-8zM-72 -56h8v8h-8zM96 -24h8v8h-8zM-104 -16h8v8h-8zM-80 8h8v8h-8zM48 8h8v8h-8zM56 16h8v8h-8zM48 24h32v8h-32zM56 32h32v8h-32zM64 40h8v8h-8z"/><path fill="#5e5e5e" d="M-64 -144h8v8h-8zM-104 -128h8v8h-8zM-48 -128h8v8h-8zM120 -128h8v8h-8zM-112 -120h8v8h-8zM-48 -120h8v8h-8zM-88 -96h8v8h-8zM-128 -88h8v8h-8zM120 -88h8v8h-8zM-120 -80h8v8h-8zM-128 -72h8v8h-8zM-64 -56h8v8h-8zM-88 -40h8v8h-8zM104 -32h8v8h-8zM-104 -8h8v8h-8zM-96 0h16v8h-16zM-88 8h8v8h-8zM40 8h8v8h-8zM48 16h8v8h-8zM96 16h8v8h-8zM48 32h8v8h-8zM56 40h8v8h-8zM72 40h8v8h-8z"/><path fill="#616161" d="M-80 -144h16v8h-16zM-48 -136h8v8h-8zM128 -128h8v8h-8zM-72 -104h8v8h-8zM-96 -88h8v8h-8zM-112 -80h16v8h-16zM128 -80h8v8h-8zM-136 -72h8v8h-8zM128 -72h8v8h-8zM120 -64h8v8h-8zM-104 -24h8v8h-8zM-112 -8h8v8h-8zM-112 0h16v8h-16zM-104 8h16v8h-16zM-88 16h8v8h-8zM96 24h8v8h-8zM96 32h8v8h-8zM48 40h8v8h-8zM80 40h16v8h-16zM56 48h8v8h-8zM88 48h8v8h-8zM-40 104h8v8h-8z"/><path fill="#636363" d="M120 -120h24v8h-24zM120 -112h8v8h-8zM136 -112h8v8h-8zM128 -104h8v8h-8zM128 -96h8v8h-8zM-136 -80h8v8h-8zM-80 -64h16v8h-16zM-96 -48h8v8h-8zM-96 -32h8v8h-8zM-112 -16h8v8h-8zM-120 -8h8v8h-8zM-120 0h8v8h-8zM-112 8h8v8h-8zM32 8h8v8h-8zM40 16h8v8h-8zM-88 24h8v8h-8zM40 24h8v8h-8zM40 32h8v8h-8zM64 48h8v8h-8zM80 48h8v8h-8z"/><path fill="#666666" d="M-96 -136h8v8h-8zM-120 -120h8v8h-8zM-56 -112h8v8h-8zM128 -112h8v8h-8zM144 -112h8v8h-8zM136 -104h8v8h-8zM-136 -96h8v8h-8zM-80 -96h8v8h-8zM-136 -88h8v8h-8zM-120 -72h16v8h-16zM-120 -64h8v8h-8zM-88 -64h8v8h-8zM120 -56h16v8h-16zM120 -48h16v8h-16zM120 -40h8v8h-8zM112 -32h8v8h-8zM-120 -24h16v8h-16zM104 -24h8v8h-8zM-120 -16h8v8h-8zM104 -16h8v8h-8zM32 16h8v8h-8zM32 24h8v8h-8zM32 32h8v8h-8zM40 40h8v8h-8zM72 48h8v8h-8z"/><path fill="#696969" d="M-56 -144h8v8h-8zM-136 -104h8v8h-8zM-88 -88h8v8h-8zM128 -88h8v8h-8zM-144 -80h8v8h-8zM-128 -64h8v8h-8zM128 -64h8v8h-8zM-96 -56h8v8h-8zM-96 -40h8v8h-8zM-112 -32h16v8h-16zM112 -24h8v8h-8zM-128 0h8v8h-8zM-112 16h24v8h-24z"/><path fill="#6b6b6b" d="M-128 -112h8v8h-8zM144 -104h8v8h-8zM-104 -72h8v8h-8zM-80 -72h8v8h-8zM-112 -64h8v8h-8zM-104 -48h8v8h-8zM-104 -40h8v8h-8zM-120 -32h8v8h-8zM-128 -16h8v8h-8zM-136 -8h16v8h-16zM104 -8h8v8h-8zM-136 0h8v8h-8zM104 0h8v8h-8zM-136 8h24v8h-24zM-128 16h16v8h-16zM-128 24h40v8h-40zM-120 32h32v8h-32zM-112 40h24v8h-24zM96 40h8v8h-8zM-104 48h8v8h-8zM24 104h24v8h-24zM32 120h8v8h-8z"/><path fill="#6e6e6e" d="M-64 -152h8v8h-8zM-24 -136h8v8h-8zM-136 -128h16v8h-16zM-128 -120h8v8h-8zM-152 -112h8v8h-8zM-144 -104h8v8h-8zM-32 -96h8v8h-8zM136 -96h24v8h-24zM-96 -80h8v8h-8zM136 -80h8v8h-8zM-96 -72h16v8h-16zM-120 -56h8v8h-8zM-112 -40h8v8h-8zM128 -40h8v8h-8zM-136 -16h8v8h-8zM112 -16h8v8h-8zM-144 -8h8v8h-8zM-144 0h8v8h-8zM-144 8h8v8h-8zM104 8h8v8h-8zM-128 32h8v8h-8zM-120 40h8v8h-8zM32 40h8v8h-8zM-112 48h8v8h-8zM88 56h8v8h-8zM24 96h8v8h-8zM32 112h8v8h-8z"/><path fill="#717171" d="M-128 -136h8v8h-8zM-40 -136h8v8h-8zM-144 -120h8v8h-8zM-24 -120h8v8h-8zM-144 -112h8v8h-8zM-24 -112h8v8h-8zM-40 -104h8v8h-8zM-72 -96h8v8h-8zM-48 -96h16v8h-16zM-144 -88h8v8h-8zM-64 -88h16v8h-16zM136 -88h24v8h-24zM-88 -80h16v8h-16zM144 -80h8v8h-8zM136 -72h8v8h-8zM-96 -64h8v8h-8zM-128 -56h8v8h-8zM-112 -56h8v8h-8zM-128 -48h24v8h-24zM-120 -40h8v8h-8zM-128 -32h8v8h-8zM-136 -24h16v8h-16zM-152 -8h8v8h-8zM-152 0h8v8h-8zM-152 8h8v8h-8zM-152 16h24v8h-24zM104 16h8v8h-8zM104 24h8v8h-8zM-128 40h8v8h-8zM-128 48h16v8h-16zM96 48h8v8h-8zM-144 56h40v8h-40zM-120 64h16v8h-16zM32 96h16v8h-16zM40 112h8v8h-8zM40 120h8v8h-8z"/><path fill="#737373" d="M-104 -144h8v8h-8zM-104 -136h8v8h-8zM-24 -128h8v8h-8zM-136 -120h8v8h-8zM-40 -112h8v8h-8zM-152 -104h8v8h-8zM-64 -104h24v8h-24zM-32 -104h8v8h-8zM-144 -96h8v8h-8zM-64 -96h16v8h-16zM-80 -88h16v8h-16zM-136 -64h8v8h-8zM-104 -56h8v8h-8zM-136 -48h8v8h-8zM136 -48h8v8h-8zM-128 -40h8v8h-8zM120 -32h16v8h-16zM-160 0h8v8h-8zM-136 24h8v8h-8zM-136 48h8v8h-8zM-144 64h24v8h-24zM24 112h8v8h-8zM24 120h8v8h-8zM32 128h8v8h-8z"/><path fill="#767676" d="M-112 -152h8v8h-8zM-40 -144h8v8h-8zM-24 -144h8v8h-8zM-32 -136h8v8h-8zM-120 -128h8v8h-8zM-136 -112h8v8h-8zM-48 -112h8v8h-8zM-32 -112h8v8h-8zM152 -80h8v8h-8zM-144 -72h8v8h-8zM-104 -64h8v8h-8zM160 -64h8v8h-8zM-136 -32h8v8h-8zM120 -24h16v8h-16zM-160 -8h8v8h-8zM-160 8h8v8h-8zM112 8h8v8h-8zM-160 16h8v8h-8zM104 32h8v8h-8zM104 40h8v8h-8zM-144 48h8v8h-8zM32 48h8v8h-8zM64 56h8v8h-8zM80 56h8v8h-8zM24 72h8v8h-8zM32 88h24v8h-24zM48 112h8v8h-8zM48 120h8v8h-8z"/><path fill="#797979" d="M-104 -152h8v8h-8zM-120 -144h16v8h-16zM-96 -144h8v8h-8zM-40 -120h8v8h-8zM160 -80h8v8h-8zM160 -72h8v8h-8zM152 -64h8v8h-8zM-136 -56h8v8h-8zM160 -56h8v8h-8zM136 -40h8v8h-8zM136 -32h8v8h-8zM-152 -16h16v8h-16zM120 -16h8v8h-8zM112 16h8v8h-8zM-152 24h8v8h-8zM-136 32h8v8h-8zM-136 40h8v8h-8zM24 40h8v8h-8zM32 56h8v8h-8zM72 56h8v8h-8zM32 64h8v8h-8zM-144 72h8v8h-8zM8 72h16v8h-16z"/><path fill="#7b7b7b" d="M-120 -136h8v8h-8zM-112 -128h8v8h-8zM-40 -128h8v8h-8zM-32 -120h8v8h-8zM-160 -96h16v8h-16zM-152 -80h8v8h-8zM152 -72h8v8h-8zM168 -64h8v8h-8zM136 -56h8v8h-8zM144 -32h8v8h-8zM-144 24h8v8h-8zM112 24h8v8h-8zM8 40h16v8h-16zM104 48h8v8h-8zM-152 56h8v8h-8zM-152 64h8v8h-8zM0 64h32v8h-32zM56 88h8v8h-8zM48 96h8v8h-8zM40 128h8v8h-8z"/><path fill="#7e7e7e" d="M-96 -160h8v8h-8zM-80 -152h8v8h-8zM-88 -144h8v8h-8zM-112 -136h8v8h-8zM-32 -128h8v8h-8zM-152 -88h8v8h-8zM144 -72h8v8h-8zM168 -56h8v8h-8zM-136 -40h8v8h-8zM144 -40h8v8h-8zM136 -24h16v8h-16zM128 -16h8v8h-8zM-168 -8h8v8h-8zM112 -8h16v8h-16zM112 0h8v8h-8zM-168 8h8v8h-8zM120 8h8v8h-8zM112 32h8v8h-8zM0 48h32v8h-32zM0 56h32v8h-32zM96 56h8v8h-8zM-152 72h8v8h-8zM16 120h8v8h-8zM24 128h8v8h-8zM48 128h8v8h-8z"/><path fill="#818181" d="M-96 -152h8v8h-8zM-32 -144h8v8h-8zM-160 -88h8v8h-8zM136 -64h8v8h-8zM-144 -32h8v8h-8zM-144 -24h8v8h-8zM-176 -8h8v8h-8zM120 0h8v8h-8zM120 16h8v8h-8zM120 24h8v8h-8zM104 56h8v8h-8zM-152 80h8v8h-8zM48 104h8v8h-8zM40 136h16v8h-16z"/><path fill="#848484" d="M-88 -160h8v8h-8zM-88 -152h8v8h-8zM-72 -152h8v8h-8zM-144 -56h8v8h-8zM152 -56h8v8h-8zM160 -48h16v8h-16zM152 -40h8v8h-8zM152 -32h8v8h-8zM-160 -16h8v8h-8zM-168 16h8v8h-8zM64 64h8v8h-8zM32 136h8v8h-8zM32 144h8v8h-8z"/><path fill="#868686" d="M-48 -144h8v8h-8zM152 -48h8v8h-8zM-152 -24h8v8h-8zM128 -8h8v8h-8zM128 0h8v8h-8zM96 64h16v8h-16zM-160 80h8v8h-8zM40 144h8v8h-8z"/><path fill="#898989" d="M-160 -80h8v8h-8zM-144 -64h8v8h-8zM144 -48h8v8h-8zM160 -40h16v8h-16zM160 -32h8v8h-8zM152 -24h8v8h-8zM-168 -16h8v8h-8zM128 8h8v8h-8zM-160 24h8v8h-8zM152 56h8v8h-8zM72 64h24v8h-24zM-160 72h8v8h-8zM56 96h8v8h-8zM56 104h8v8h-8zM56 128h8v8h-8z"/><path fill="#8c8c8c" d="M-80 -160h8v8h-8zM-24 -152h8v8h-8zM168 -32h8v8h-8zM-176 -16h8v8h-8zM112 40h8v8h-8zM112 48h8v8h-8zM152 48h16v8h-16zM112 56h8v8h-8zM160 56h8v8h-8zM-160 64h8v8h-8zM72 72h16v8h-16zM56 112h8v8h-8zM16 128h8v8h-8z"/><path fill="#8e8e8e" d="M-152 -72h8v8h-8zM-144 -48h8v8h-8zM-152 -32h8v8h-8zM136 -16h8v8h-8zM136 -8h8v8h-8zM120 32h8v8h-8zM-144 40h8v8h-8zM168 56h8v8h-8zM152 64h16v8h-16zM64 96h8v8h-8zM64 104h8v8h-8zM56 120h8v8h-8zM56 136h8v8h-8zM40 160h8v8h-8z"/><path fill="#919191" d="M160 -24h8v8h-8zM136 0h8v8h-8zM128 16h8v8h-8zM168 48h8v8h-8zM-168 72h8v8h-8zM40 152h8v8h-8z"/><path fill="#949494" d="M-80 -168h8v8h-8zM-24 -160h8v8h-8zM144 -64h8v8h-8zM-160 -32h8v8h-8zM-160 -24h8v8h-8zM168 -24h8v8h-8zM128 24h8v8h-8zM-144 32h8v8h-8zM128 32h8v8h-8zM120 40h8v8h-8zM-152 48h8v8h-8zM120 48h8v8h-8zM144 56h8v8h-8zM144 64h8v8h-8zM104 72h8v8h-8zM160 72h8v8h-8zM48 144h16v8h-16z"/><path fill="#969696" d="M-72 -160h8v8h-8zM128 40h8v8h-8zM152 40h24v8h-24zM-160 56h8v8h-8zM120 56h8v8h-8zM-168 64h8v8h-8zM152 72h8v8h-8zM64 88h8v8h-8zM48 152h8v8h-8z"/><path fill="#999999" d="M-64 -160h8v8h-8zM-168 -80h8v8h-8zM144 -56h8v8h-8zM136 8h8v8h-8zM136 16h8v8h-8zM-168 24h8v8h-8zM136 24h8v8h-8zM160 24h16v8h-16zM160 32h16v8h-16zM128 48h8v8h-8zM144 48h8v8h-8zM128 56h8v8h-8zM112 64h32v8h-32zM88 72h8v8h-8zM112 72h40v8h-40zM80 80h8v8h-8zM136 80h24v8h-24zM64 144h8v8h-8zM64 152h8v8h-8zM48 160h8v8h-8zM72 160h8v8h-8zM40 168h16v8h-16z"/><path fill="#9c9c9c" d="M-72 -168h8v8h-8zM-40 -152h8v8h-8zM-168 -24h8v8h-8zM-176 24h8v8h-8zM136 32h8v8h-8zM136 40h16v8h-16zM136 56h8v8h-8zM96 72h8v8h-8zM72 80h8v8h-8zM104 80h8v8h-8zM128 80h8v8h-8zM72 96h8v8h-8zM72 104h8v8h-8zM64 112h8v8h-8zM64 128h8v8h-8zM64 136h8v8h-8zM56 152h8v8h-8zM64 160h8v8h-8zM56 168h8v8h-8z"/><path fill="#9e9e9e" d="M-32 -152h8v8h-8zM-152 -56h8v8h-8zM-144 -40h8v8h-8zM144 -16h8v8h-8zM136 48h8v8h-8zM88 80h16v8h-16zM112 80h16v8h-16zM72 88h48v8h-48zM144 88h16v8h-16zM72 112h8v8h-8zM64 120h16v8h-16zM72 152h8v8h-8zM56 160h8v8h-8z"/><path fill="#a1a1a1" d="M-152 -48h8v8h-8zM-176 -24h8v8h-8zM160 16h16v8h-16zM144 32h16v8h-16zM136 88h8v8h-8zM80 96h8v8h-8zM104 96h8v8h-8zM-48 112h8v8h-8z"/><path fill="#a4a4a4" d="M-160 -72h8v8h-8zM-152 -64h8v8h-8zM144 16h8v8h-8zM-168 56h8v8h-8zM88 96h16v8h-16zM80 104h16v8h-16zM80 112h8v8h-8zM72 144h8v8h-8z"/><path fill="#a6a6a6" d="M-168 -32h8v8h-8zM152 16h8v8h-8zM144 24h16v8h-16zM-176 56h8v8h-8zM128 88h8v8h-8zM112 96h8v8h-8zM-64 112h16v8h-16zM80 120h8v8h-8zM72 128h8v8h-8zM24 136h8v8h-8zM80 152h8v8h-8zM32 160h8v8h-8z"/><path fill="#a9a9a9" d="M-64 -168h8v8h-8zM-56 -152h8v8h-8zM-168 -72h8v8h-8zM-152 -40h8v8h-8zM-176 -32h8v8h-8zM144 -8h8v8h-8zM144 0h8v8h-8zM144 8h8v8h-8zM-160 48h8v8h-8zM120 88h8v8h-8zM144 96h8v8h-8zM96 104h8v8h-8zM88 112h8v8h-8zM80 128h8v8h-8zM16 136h8v8h-8zM72 136h16v8h-16zM80 144h8v8h-8zM32 152h8v8h-8z"/><path fill="#acacac" d="M-160 -56h8v8h-8zM-176 -40h8v8h-8zM168 -16h8v8h-8zM-176 32h8v8h-8zM-152 32h8v8h-8zM-176 48h8v8h-8zM24 144h8v8h-8zM88 152h8v8h-8zM32 168h8v8h-8z"/><path fill="#aeaeae" d="M-176 -64h8v8h-8zM-160 -64h8v8h-8zM152 -16h16v8h-16zM-168 32h16v8h-16zM-176 40h8v8h-8zM-152 40h8v8h-8zM-168 48h8v8h-8zM104 104h8v8h-8zM88 136h8v8h-8zM88 144h8v8h-8z"/><path fill="#b1b1b1" d="M-48 -152h8v8h-8zM-168 -64h8v8h-8zM-176 -56h16v8h-16zM-176 -48h8v8h-8zM-160 -40h8v8h-8zM168 8h8v8h-8zM-168 40h16v8h-16zM88 120h8v8h-8zM88 128h8v8h-8z"/><path fill="#b4b4b4" d="M-32 -160h8v8h-8zM-168 -40h8v8h-8zM168 -8h8v8h-8zM168 0h8v8h-8zM160 8h8v8h-8zM136 96h8v8h-8zM144 104h8v8h-8zM96 112h8v8h-8zM96 120h8v8h-8zM24 168h8v8h-8z"/><path fill="#b7b7b7" d="M-64 -176h8v8h-8zM-160 -48h8v8h-8zM152 8h8v8h-8zM104 112h8v8h-8zM24 160h8v8h-8z"/><path fill="#b9b9b9" d="M-168 -48h8v8h-8zM160 -8h8v8h-8zM160 0h8v8h-8zM112 104h8v8h-8zM96 144h8v8h-8z"/><path fill="#bcbcbc" d="M136 104h8v8h-8zM112 112h8v8h-8zM136 112h8v8h-8zM16 144h8v8h-8z"/><path fill="#bfbfbf" d="M-40 -160h8v8h-8zM120 96h16v8h-16zM120 112h16v8h-16zM128 120h8v8h-8zM96 136h8v8h-8zM16 168h8v8h-8z"/><path fill="#c1c1c1" d="M120 104h16v8h-16zM-32 120h8v8h-8zM104 120h8v8h-8zM120 120h8v8h-8zM96 128h8v8h-8zM104 144h8v8h-8z"/><path fill="#c4c4c4" d="M16 152h8v8h-8zM16 160h8v8h-8zM8 168h8v8h-8z"/><path fill="#c7c7c7" d="M-32 -168h8v8h-8zM112 120h8v8h-8zM120 128h8v8h-8zM24 152h8v8h-8zM8 160h8v8h-8z"/><path fill="#c9c9c9" d="M-32 -176h8v8h-8zM-72 120h8v8h-8zM104 136h16v8h-16zM8 152h8v8h-8z"/><path fill="#cccccc" d="M152 -8h8v8h-8zM152 0h8v8h-8zM112 128h8v8h-8zM8 144h8v8h-8z"/><path fill="#d1d1d1" d="M-56 -176h8v8h-8zM104 128h8v8h-8zM-32 144h8v8h-8z"/><path fill="#d4d4d4" d="M-32 128h8v8h-8zM-32 136h8v8h-8z"/><path fill="#d7d7d7" d="M-56 -168h8v8h-8z"/><path fill="#d9d9d9" d="M-40 -176h8v8h-8zM-40 120h8v8h-8zM-72 128h8v8h-8z"/><path fill="#dcdcdc" d="M-56 -160h8v8h-8zM-64 120h8v8h-8zM-72 136h8v8h-8z"/><path fill="#dfdfdf" d="M-48 -176h8v8h-8zM-40 144h8v8h-8z"/><path fill="#e1e1e1" d="M-40 -168h8v8h-8zM-64 144h8v8h-8z"/><path fill="#e7e7e7" d="M-48 -160h8v8h-8zM-40 128h8v8h-8zM-64 136h8v8h-8zM-40 136h8v8h-8zM-56 144h16v8h-16z"/><path fill="#eaeaea" d="M-56 120h16v8h-16zM-64 128h8v8h-8z"/><path fill="#ececec" d="M-56 136h16v8h-16z"/><path fill="#efefef" d="M-48 -168h8v8h-8zM-56 128h16v8h-16z"/></g></g>
<use href="#grat"/><use href="#frame"/>
<g font-size="17.5" text-anchor="middle">
<text x="26.0" y="-14.3">140°W</text>
<text x="110.8" y="-14.3">160°W</text>
<text x="175.8" y="-14.3">180°</text>
<text x="240.7" y="-14.3">160°E</text>
<text x="325.5" y="-14.3">140°E</text>
</g>
<g font-size="17.5" text-anchor="end"><text x="-11" y="33.3">50°N</text><text x="-11" y="336.1">50°N</text></g>
</g>
<text x="18.5" y="476.25" font-size="18">c)</text>
<g transform="translate(477.75 514.75)">
<g transform="translate(175.75 178.5)" mask="url(#land)"><g filter="url(#fd)"><path fill="#282828" d="M136 -96h8v8h-8zM-104 -40h8v8h-8zM-96 -16h8v8h-8zM32 136h8v8h-8z"/><path fill="#2b2b2b" d="M40 -136h8v8h-8zM40 -128h16v8h-16zM136 -104h8v8h-8zM-96 -24h8v8h-8zM-88 -16h8v8h-8zM-128 8h16v8h-16zM-128 16h16v8h-16z"/><path fill="#2e2e2e" d="M16 -144h24v8h-24zM24 -136h16v8h-16zM48 -136h8v8h-8zM104 -136h16v8h-16zM32 -128h8v8h-8zM56 -128h8v8h-8zM104 -128h16v8h-16zM40 -120h32v8h-32zM128 -120h16v8h-16zM56 -112h16v8h-16zM128 -112h16v8h-16zM128 -104h8v8h-8zM144 -104h8v8h-8zM128 -96h8v8h-8zM144 -96h8v8h-8zM144 -88h8v8h-8zM-96 -40h8v8h-8zM-104 -32h16v8h-16zM-104 -24h8v8h-8zM-136 -8h16v8h-16zM-112 -8h8v8h-8zM-136 0h16v8h-16zM-152 16h8v8h-8zM24 136h8v8h-8z"/><path fill="#303030" d="M16 -176h24v8h-24zM16 -168h24v8h-24zM16 -160h24v8h-24zM16 -152h24v8h-24zM104 -152h8v8h-8zM40 -144h8v8h-8zM96 -144h24v8h-24zM16 -136h8v8h-8zM56 -136h24v8h-24zM96 -136h8v8h-8zM120 -136h8v8h-8zM64 -128h24v8h-24zM96 -128h8v8h-8zM120 -128h16v8h-16zM72 -120h8v8h-8zM112 -120h16v8h-16zM48 -112h8v8h-8zM72 -112h16v8h-16zM120 -112h8v8h-8zM144 -112h8v8h-8zM56 -104h32v8h-32zM-120 -96h8v8h-8zM72 -96h16v8h-16zM152 -96h8v8h-8zM152 -88h8v8h-8zM-88 -24h8v8h-8zM-104 -16h8v8h-8zM-120 -8h8v8h-8zM-120 0h16v8h-16zM-136 8h8v8h-8z"/><path fill="#333333" d="M8 -176h8v8h-8zM40 -176h24v8h-24zM8 -168h8v8h-8zM40 -168h16v8h-16zM-8 -160h24v8h-24zM40 -160h8v8h-8zM-8 -152h24v8h-24zM40 -152h8v8h-8zM96 -152h8v8h-8zM8 -144h8v8h-8zM48 -144h24v8h-24zM80 -136h16v8h-16zM88 -128h8v8h-8zM32 -120h8v8h-8zM80 -120h32v8h-32zM-112 -112h8v8h-8zM32 -112h16v8h-16zM88 -112h16v8h-16zM-128 -104h24v8h-24zM24 -104h24v8h-24zM88 -104h8v8h-8zM-112 -96h8v8h-8zM-120 -24h16v8h-16zM-120 -16h16v8h-16zM-144 8h8v8h-8zM-144 16h8v8h-8zM32 120h8v8h-8zM32 128h8v8h-8z"/><path fill="#363636" d="M56 -168h8v8h-8zM48 -160h32v8h-32zM88 -160h8v8h-8zM48 -152h24v8h-24zM72 -144h8v8h-8zM88 -144h8v8h-8zM24 -128h8v8h-8zM24 -120h8v8h-8zM24 -112h8v8h-8zM104 -112h16v8h-16zM48 -104h8v8h-8zM96 -104h8v8h-8zM64 -96h8v8h-8zM-104 -48h8v8h-8zM-112 -32h8v8h-8zM-136 -16h16v8h-16zM-96 -8h8v8h-8zM-144 0h8v8h-8zM-152 8h8v8h-8zM-160 16h8v8h-8zM-136 16h8v8h-8zM16 136h8v8h-8zM24 144h8v8h-8z"/><path fill="#383838" d="M0 -168h8v8h-8zM80 -160h8v8h-8zM72 -152h24v8h-24zM-8 -144h16v8h-16zM80 -144h8v8h-8zM8 -136h8v8h-8zM16 -128h8v8h-8zM16 -120h8v8h-8zM-128 -112h16v8h-16zM8 -112h16v8h-16zM-136 -104h8v8h-8zM-104 -104h8v8h-8zM104 -104h8v8h-8zM120 -104h8v8h-8zM-128 -96h8v8h-8zM32 -96h8v8h-8zM88 -96h8v8h-8zM120 -96h8v8h-8zM-128 -88h8v8h-8zM80 -88h8v8h-8zM144 -80h8v8h-8zM-128 -32h16v8h-16zM-136 -24h16v8h-16zM-144 -8h8v8h-8zM-104 -8h8v8h-8zM24 128h8v8h-8z"/><path fill="#3b3b3b" d="M-8 -168h8v8h-8zM8 -128h8v8h-8zM8 -120h8v8h-8zM-104 -112h8v8h-8zM112 -104h8v8h-8zM-104 -96h8v8h-8zM40 -96h8v8h-8zM56 -96h8v8h-8zM96 -96h24v8h-24zM72 -88h8v8h-8zM152 -80h8v8h-8zM-96 -48h8v8h-8zM-136 -32h8v8h-8zM-88 -32h8v8h-8z"/><path fill="#3e3e3e" d="M-16 -152h8v8h-8zM-136 -120h8v8h-8zM-152 -112h24v8h-24zM-144 -104h8v8h-8zM-136 -96h8v8h-8zM48 -96h8v8h-8zM-120 -88h8v8h-8zM-104 -88h8v8h-8zM40 -88h16v8h-16zM88 -88h16v8h-16zM128 -88h16v8h-16zM160 -80h8v8h-8zM-88 -40h8v8h-8zM-152 -8h8v8h-8zM-152 0h8v8h-8zM-160 8h8v8h-8zM-152 24h8v8h-8zM40 136h8v8h-8z"/><path fill="#404040" d="M-16 -144h8v8h-8zM-144 -120h8v8h-8zM-128 -120h8v8h-8zM0 -112h8v8h-8zM-112 -88h8v8h-8zM-96 -88h8v8h-8zM56 -88h16v8h-16zM104 -88h24v8h-24zM88 -80h16v8h-16zM136 -80h8v8h-8zM-112 -40h8v8h-8zM-144 -16h8v8h-8zM-112 16h8v8h-8zM24 120h8v8h-8zM32 144h8v8h-8z"/><path fill="#434343" d="M0 -136h8v8h-8zM-96 -120h8v8h-8zM0 -120h8v8h-8zM-96 -112h8v8h-8zM-8 -112h8v8h-8zM-96 -104h8v8h-8zM-96 -96h8v8h-8zM-136 -88h8v8h-8zM56 -80h16v8h-16zM80 -80h8v8h-8zM152 -64h16v8h-16zM-88 -56h16v8h-16zM-88 -48h16v8h-16zM64 -16h8v8h-8zM-160 -8h8v8h-8zM-88 -8h8v8h-8zM80 -8h8v8h-8zM-160 0h8v8h-8zM80 0h8v8h-8zM-112 8h8v8h-8zM-136 24h16v8h-16zM16 128h8v8h-8zM40 128h8v8h-8z"/><path fill="#464646" d="M-16 -136h16v8h-16zM-16 -128h8v8h-8zM0 -128h8v8h-8zM-88 -120h8v8h-8zM-8 -120h8v8h-8zM-88 -112h8v8h-8zM-152 -104h8v8h-8zM-144 -96h8v8h-8zM-104 -80h8v8h-8zM72 -80h8v8h-8zM104 -80h8v8h-8zM128 -80h8v8h-8zM152 -72h16v8h-16zM-88 -64h16v8h-16zM168 -64h8v8h-8zM160 -56h8v8h-8zM-144 -24h8v8h-8zM-152 -16h8v8h-8zM72 -16h8v8h-8zM-144 24h8v8h-8zM40 144h8v8h-8z"/><path fill="#484848" d="M-136 -128h8v8h-8zM-80 -128h16v8h-16zM-8 -128h8v8h-8zM-80 -120h8v8h-8zM-16 -120h8v8h-8zM-80 -112h8v8h-8zM-88 -104h16v8h-16zM-88 -96h8v8h-8zM-144 -88h8v8h-8zM-88 -88h8v8h-8zM-144 -80h24v8h-24zM48 -80h8v8h-8zM64 -72h8v8h-8zM136 -72h8v8h-8zM-72 -64h8v8h-8zM-96 -56h8v8h-8zM-72 -56h8v8h-8zM168 -56h8v8h-8zM-136 -40h24v8h-24zM-144 -32h8v8h-8zM-80 -24h8v8h-8zM-80 -16h8v8h-8zM72 -8h8v8h-8zM88 -8h8v8h-8zM88 0h8v8h-8zM80 8h8v8h-8zM-112 24h8v8h-8zM24 112h16v8h-16zM16 144h8v8h-8zM24 152h8v8h-8z"/><path fill="#4b4b4b" d="M-72 -136h8v8h-8zM-24 -136h8v8h-8zM-88 -128h8v8h-8zM-64 -128h24v8h-24zM-32 -128h16v8h-16zM-120 -120h24v8h-24zM-72 -120h56v8h-56zM-72 -112h56v8h-56zM-72 -104h48v8h-48zM-160 -96h16v8h-16zM-80 -96h56v8h-56zM-152 -88h8v8h-8zM-80 -88h32v8h-32zM-96 -80h24v8h-24zM32 -80h16v8h-16zM112 -80h16v8h-16zM-136 -72h8v8h-8zM-88 -72h16v8h-16zM72 -72h24v8h-24zM144 -72h8v8h-8zM-96 -64h8v8h-8zM80 -64h8v8h-8zM-104 -56h8v8h-8zM80 -56h8v8h-8zM-120 -48h16v8h-16zM72 -48h16v8h-16zM72 -40h32v8h-32zM80 -32h16v8h-16zM72 -24h24v8h-24zM168 -24h8v8h-8zM80 -16h16v8h-16zM168 -16h8v8h-8zM160 -8h16v8h-16zM72 0h8v8h-8zM160 0h16v8h-16zM-168 8h8v8h-8zM72 8h8v8h-8zM-120 24h8v8h-8zM-104 24h16v8h-16zM-120 32h24v8h-24zM-104 40h8v8h-8zM40 112h8v8h-8zM40 120h16v8h-16zM48 128h8v8h-8z"/><path fill="#4e4e4e" d="M-40 -144h8v8h-8zM-80 -136h8v8h-8zM-64 -136h40v8h-40zM-104 -128h8v8h-8zM-40 -128h8v8h-8zM-160 -88h8v8h-8zM-152 -80h8v8h-8zM-128 -72h8v8h-8zM-96 -72h8v8h-8zM56 -72h8v8h-8zM96 -72h8v8h-8zM120 -72h16v8h-16zM-104 -64h8v8h-8zM64 -64h16v8h-16zM88 -64h24v8h-24zM-128 -56h8v8h-8zM64 -56h16v8h-16zM88 -56h8v8h-8zM128 -56h8v8h-8zM152 -56h8v8h-8zM-136 -48h16v8h-16zM64 -48h8v8h-8zM88 -48h16v8h-16zM160 -48h16v8h-16zM-144 -40h8v8h-8zM104 -40h8v8h-8zM136 -40h40v8h-40zM72 -32h8v8h-8zM128 -32h48v8h-48zM-152 -24h8v8h-8zM64 -24h8v8h-8zM96 -24h8v8h-8zM128 -24h40v8h-40zM144 -16h24v8h-24zM96 -8h8v8h-8zM144 -8h16v8h-16zM96 0h8v8h-8zM144 0h16v8h-16zM88 8h8v8h-8zM160 8h16v8h-16zM-104 16h16v8h-16zM80 16h16v8h-16zM152 16h24v8h-24zM144 24h32v8h-32zM-128 32h8v8h-8zM-96 32h8v8h-8zM160 32h16v8h-16zM-112 40h8v8h-8zM-96 40h8v8h-8zM160 40h16v8h-16zM-104 48h8v8h-8zM136 48h40v8h-40zM144 56h32v8h-32zM144 64h24v8h-24zM120 72h48v8h-48zM136 80h24v8h-24zM144 88h16v8h-16zM24 104h24v8h-24zM48 112h8v8h-8zM32 152h8v8h-8z"/><path fill="#515151" d="M-56 -144h8v8h-8zM-24 -144h8v8h-8zM-96 -128h8v8h-8zM104 -72h8v8h-8zM-112 -56h8v8h-8zM-64 -56h8v8h-8zM96 -56h8v8h-8zM136 -56h8v8h-8zM104 -48h8v8h-8zM128 -48h16v8h-16zM-80 -40h8v8h-8zM64 -40h8v8h-8zM128 -40h8v8h-8zM-152 -32h8v8h-8zM96 -32h8v8h-8zM104 -24h8v8h-8zM-160 -16h8v8h-8zM96 -16h8v8h-8zM-176 -8h16v8h-16zM136 -8h8v8h-8zM-96 0h8v8h-8zM136 0h8v8h-8zM96 8h8v8h-8zM152 8h8v8h-8zM-168 16h8v8h-8zM-88 24h8v8h-8zM152 32h8v8h-8zM-120 40h8v8h-8zM152 40h8v8h-8zM-112 48h8v8h-8zM136 56h8v8h-8zM120 64h24v8h-24zM128 80h8v8h-8zM136 88h8v8h-8zM16 120h8v8h-8zM48 136h8v8h-8z"/><path fill="#535353" d="M-80 -144h8v8h-8zM-64 -144h8v8h-8zM-32 -144h8v8h-8zM-88 -136h8v8h-8zM-144 -72h8v8h-8zM-136 -56h8v8h-8zM-120 -56h8v8h-8zM-72 -48h8v8h-8zM152 -48h8v8h-8zM64 -32h8v8h-8zM104 -32h8v8h-8zM136 -16h8v8h-8zM-104 0h8v8h-8zM-96 8h8v8h-8zM144 8h8v8h-8zM96 16h8v8h-8zM144 16h8v8h-8zM88 24h8v8h-8zM-136 32h8v8h-8zM88 32h8v8h-8zM136 40h16v8h-16zM24 96h8v8h-8zM48 96h16v8h-16zM112 96h8v8h-8zM48 104h16v8h-16zM128 104h8v8h-8z"/><path fill="#565656" d="M-64 -152h8v8h-8zM-88 -144h8v8h-8zM-72 -144h8v8h-8zM-48 -144h8v8h-8zM-104 -72h8v8h-8zM112 -72h8v8h-8zM-136 -64h8v8h-8zM128 -64h8v8h-8zM-144 -56h8v8h-8zM56 -56h8v8h-8zM112 -40h8v8h-8zM-80 -32h8v8h-8zM-168 -16h8v8h-8zM-72 -16h8v8h-8zM-80 -8h16v8h-16zM-104 8h8v8h-8zM104 8h8v8h-8zM-88 16h8v8h-8zM72 16h8v8h-8zM104 16h8v8h-8zM80 24h8v8h-8zM144 32h8v8h-8zM-128 40h8v8h-8zM-128 48h16v8h-16zM-144 56h8v8h-8zM-120 56h16v8h-16zM-120 64h16v8h-16zM120 80h8v8h-8zM48 88h8v8h-8zM128 88h8v8h-8zM40 96h8v8h-8zM128 96h8v8h-8zM144 96h8v8h-8zM16 152h8v8h-8z"/><path fill="#595959" d="M-24 -152h8v8h-8zM-128 -128h8v8h-8zM-160 -80h8v8h-8zM32 -72h8v8h-8zM56 -64h8v8h-8zM136 -64h8v8h-8zM-144 -48h8v8h-8zM144 -48h8v8h-8zM-152 -40h8v8h-8zM120 -32h8v8h-8zM-176 -16h8v8h-8zM128 -8h8v8h-8zM-72 0h8v8h-8zM120 0h16v8h-16zM-80 24h8v8h-8zM72 24h8v8h-8zM64 32h24v8h-24zM-136 48h8v8h-8zM-136 56h16v8h-16zM-144 64h24v8h-24zM56 88h8v8h-8zM112 88h16v8h-16zM120 96h8v8h-8zM136 96h8v8h-8zM120 104h8v8h-8zM24 160h8v8h-8z"/><path fill="#5b5b5b" d="M-80 -152h8v8h-8zM-96 -136h8v8h-8zM-144 -64h8v8h-8zM-64 -48h16v8h-16zM120 -40h8v8h-8zM-64 -16h8v8h-8zM-64 -8h8v8h-8zM-88 0h16v8h-16zM-88 8h16v8h-16zM-80 16h8v8h-8zM-160 24h8v8h-8zM64 40h16v8h-16zM-144 48h8v8h-8zM128 56h8v8h-8zM40 88h8v8h-8zM64 104h8v8h-8zM136 104h8v8h-8zM56 112h8v8h-8zM24 168h8v8h-8z"/><path fill="#5e5e5e" d="M-48 -152h16v8h-16zM-96 -144h8v8h-8zM-128 -64h8v8h-8zM32 -64h8v8h-8zM144 -64h8v8h-8zM104 -56h8v8h-8zM-160 -24h8v8h-8zM-72 -24h8v8h-8zM128 -16h8v8h-8zM104 0h8v8h-8zM112 8h8v8h-8zM-72 24h8v8h-8zM96 24h8v8h-8zM-136 40h8v8h-8zM-144 72h8v8h-8zM32 96h8v8h-8zM64 96h8v8h-8z"/><path fill="#616161" d="M-96 -160h16v8h-16zM-24 -160h8v8h-8zM-96 -152h16v8h-16zM-72 -152h8v8h-8zM-56 -152h8v8h-8zM-32 -152h8v8h-8zM-152 -72h8v8h-8zM-112 -64h8v8h-8zM40 -56h16v8h-16zM-152 -48h8v8h-8zM120 -48h8v8h-8zM-56 -40h8v8h-8zM-160 -32h8v8h-8zM-64 -24h16v8h-16zM-56 -16h8v8h-8zM64 -8h8v8h-8zM104 -8h8v8h-8zM120 -8h8v8h-8zM112 0h8v8h-8zM-72 8h8v8h-8zM136 8h8v8h-8zM-72 16h8v8h-8zM80 40h8v8h-8zM88 48h8v8h-8zM128 48h8v8h-8zM-152 64h8v8h-8zM144 104h8v8h-8zM56 120h8v8h-8zM8 144h8v8h-8zM32 168h8v8h-8z"/><path fill="#636363" d="M-80 -160h8v8h-8zM-112 -80h8v8h-8zM40 -72h16v8h-16zM112 -48h8v8h-8zM-72 -40h16v8h-16zM-56 -32h8v8h-8zM56 -32h8v8h-8zM112 -32h8v8h-8zM-48 -16h8v8h-8zM-56 -8h8v8h-8zM-64 0h8v8h-8zM120 8h16v8h-16zM-64 16h8v8h-8zM112 16h8v8h-8zM-64 24h16v8h-16zM88 40h8v8h-8zM80 48h8v8h-8zM-152 56h8v8h-8zM-152 72h8v8h-8zM112 72h8v8h-8zM128 112h8v8h-8zM56 128h8v8h-8zM8 152h8v8h-8zM40 152h8v8h-8zM32 160h8v8h-8z"/><path fill="#666666" d="M-104 -152h8v8h-8zM-168 -80h8v8h-8zM40 -64h16v8h-16zM144 -56h8v8h-8zM-160 -40h8v8h-8zM-72 -32h16v8h-16zM104 -16h8v8h-8zM-64 8h16v8h-16zM-56 16h8v8h-8zM-48 24h16v8h-16zM104 24h8v8h-8zM136 32h8v8h-8zM64 48h8v8h-8zM24 72h8v8h-8zM-152 80h8v8h-8zM112 80h8v8h-8zM-56 96h16v8h-16zM104 96h8v8h-8zM136 112h8v8h-8zM16 168h8v8h-8z"/><path fill="#696969" d="M-120 -80h8v8h-8zM120 -64h8v8h-8zM-152 -56h8v8h-8zM-168 -24h8v8h-8zM-48 -8h16v8h-16zM-56 0h8v8h-8zM-32 0h8v8h-8zM-32 8h8v8h-8zM-48 16h24v8h-24zM64 24h8v8h-8zM72 48h8v8h-8zM120 56h8v8h-8zM-40 96h8v8h-8z"/><path fill="#6b6b6b" d="M-80 -168h8v8h-8zM112 -8h8v8h-8zM-48 0h16v8h-16zM-48 8h16v8h-16zM64 16h8v8h-8zM120 16h8v8h-8zM-32 24h8v8h-8zM96 32h8v8h-8zM56 40h8v8h-8zM128 40h8v8h-8zM8 72h16v8h-16zM-160 80h8v8h-8zM32 88h8v8h-8zM-48 104h8v8h-8zM64 112h8v8h-8zM64 120h8v8h-8zM48 144h8v8h-8zM16 160h8v8h-8z"/><path fill="#6e6e6e" d="M-128 -136h8v8h-8zM-152 -64h8v8h-8zM120 -56h8v8h-8zM-160 -48h8v8h-8zM120 -24h8v8h-8zM136 24h8v8h-8zM56 48h8v8h-8zM120 48h8v8h-8zM-160 72h8v8h-8zM-56 104h8v8h-8zM72 104h8v8h-8zM72 112h8v8h-8zM72 120h8v8h-8z"/><path fill="#717171" d="M-104 -144h8v8h-8zM-176 -24h8v8h-8zM136 16h8v8h-8zM112 24h16v8h-16zM32 64h8v8h-8zM64 88h8v8h-8zM8 168h8v8h-8zM40 168h8v8h-8z"/><path fill="#737373" d="M-72 -168h8v8h-8zM-72 -160h16v8h-16zM-112 -152h8v8h-8zM-160 -72h8v8h-8zM112 -64h8v8h-8zM-160 -56h8v8h-8zM-168 -48h8v8h-8zM-168 -40h8v8h-8zM128 16h8v8h-8zM-144 32h8v8h-8zM120 40h8v8h-8zM-160 64h8v8h-8zM112 64h8v8h-8zM104 88h8v8h-8zM-40 104h8v8h-8z"/><path fill="#767676" d="M-104 -136h8v8h-8zM-120 -64h8v8h-8zM-176 -48h8v8h-8zM56 -24h8v8h-8zM-168 24h8v8h-8zM128 24h8v8h-8zM-144 40h8v8h-8zM96 40h8v8h-8zM88 56h8v8h-8zM112 56h8v8h-8zM-168 72h8v8h-8zM104 72h8v8h-8zM104 80h8v8h-8zM96 88h8v8h-8zM72 96h8v8h-8zM64 128h8v8h-8zM56 136h8v8h-8zM8 160h8v8h-8zM40 160h8v8h-8z"/><path fill="#797979" d="M-64 -168h8v8h-8zM-32 -160h8v8h-8zM-168 -72h8v8h-8zM-176 -56h8v8h-8zM112 -56h8v8h-8zM-176 -40h8v8h-8zM-176 -32h16v8h-16zM56 32h8v8h-8zM64 56h8v8h-8zM80 56h8v8h-8zM0 64h8v8h-8zM24 64h8v8h-8zM104 64h8v8h-8zM80 96h8v8h-8zM96 96h8v8h-8zM80 104h8v8h-8zM80 112h8v8h-8z"/><path fill="#7b7b7b" d="M-120 -128h8v8h-8zM-176 -64h8v8h-8zM-176 24h8v8h-8zM128 32h8v8h-8zM-152 48h8v8h-8zM8 64h16v8h-16zM72 80h8v8h-8zM72 88h16v8h-16zM88 96h8v8h-8zM88 104h8v8h-8z"/><path fill="#7e7e7e" d="M-112 -128h8v8h-8zM-160 -64h8v8h-8zM-168 -56h8v8h-8zM56 16h8v8h-8zM56 24h8v8h-8zM104 32h8v8h-8zM-160 56h8v8h-8zM0 56h16v8h-16zM32 56h8v8h-8zM72 56h8v8h-8zM-168 64h8v8h-8zM64 64h8v8h-8zM88 88h8v8h-8zM80 120h8v8h-8z"/><path fill="#818181" d="M48 32h8v8h-8zM120 32h8v8h-8zM48 40h8v8h-8zM0 48h32v8h-32zM96 48h8v8h-8zM16 56h16v8h-16zM96 80h8v8h-8zM96 104h8v8h-8zM88 112h16v8h-16z"/><path fill="#848484" d="M-64 -176h8v8h-8zM-56 -160h8v8h-8zM-40 -160h8v8h-8zM-120 -144h8v8h-8zM-112 -72h8v8h-8zM-168 -64h8v8h-8zM48 24h8v8h-8zM8 40h16v8h-16zM104 40h8v8h-8zM80 80h8v8h-8zM128 120h8v8h-8z"/><path fill="#868686" d="M-112 -144h8v8h-8zM112 -24h8v8h-8zM32 48h8v8h-8zM112 48h8v8h-8zM104 56h8v8h-8zM88 120h8v8h-8zM48 168h8v8h-8z"/><path fill="#898989" d="M48 -24h8v8h-8zM104 48h8v8h-8zM96 64h8v8h-8zM96 72h8v8h-8zM88 80h8v8h-8zM104 104h8v8h-8zM72 128h8v8h-8zM48 152h8v8h-8z"/><path fill="#8c8c8c" d="M120 -16h8v8h-8zM112 32h8v8h-8zM-168 56h8v8h-8zM88 64h8v8h-8zM72 72h8v8h-8zM88 72h8v8h-8zM56 144h8v8h-8z"/><path fill="#8e8e8e" d="M-120 -136h8v8h-8zM-120 -72h8v8h-8zM56 0h8v8h-8zM48 16h8v8h-8zM24 40h8v8h-8zM-176 56h8v8h-8zM72 64h8v8h-8zM80 128h8v8h-8zM64 136h24v8h-24z"/><path fill="#919191" d="M-32 -168h8v8h-8zM-176 32h8v8h-8zM80 72h8v8h-8zM88 128h8v8h-8zM48 160h8v8h-8z"/><path fill="#949494" d="M-32 -176h8v8h-8zM48 8h8v8h-8zM-152 32h8v8h-8zM40 40h8v8h-8zM-160 48h8v8h-8zM96 56h8v8h-8zM80 64h8v8h-8zM112 104h8v8h-8zM120 112h8v8h-8zM96 120h8v8h-8zM80 144h8v8h-8z"/><path fill="#969696" d="M48 0h8v8h-8zM-176 48h8v8h-8zM88 136h8v8h-8zM88 144h8v8h-8z"/><path fill="#999999" d="M-112 -136h8v8h-8zM40 -16h8v8h-8zM-168 32h16v8h-16zM-176 40h8v8h-8zM-152 40h8v8h-8zM112 40h8v8h-8zM-168 48h8v8h-8zM56 168h8v8h-8z"/><path fill="#9c9c9c" d="M40 -8h8v8h-8zM40 0h8v8h-8zM-160 40h8v8h-8zM32 40h8v8h-8zM72 144h8v8h-8zM88 152h8v8h-8z"/><path fill="#9e9e9e" d="M-56 -176h8v8h-8zM56 -16h8v8h-8zM112 -16h8v8h-8zM-168 40h8v8h-8zM80 152h8v8h-8z"/><path fill="#a1a1a1" d="M96 144h8v8h-8z"/><path fill="#a4a4a4" d="M-56 -168h8v8h-8zM48 -16h8v8h-8zM48 -8h16v8h-16zM120 120h8v8h-8zM120 128h8v8h-8zM96 136h8v8h-8z"/><path fill="#a6a6a6" d="M40 32h8v8h-8zM104 112h8v8h-8zM104 144h8v8h-8zM56 160h8v8h-8zM72 160h8v8h-8z"/><path fill="#a9a9a9" d="M-48 -160h8v8h-8zM96 128h8v8h-8zM112 136h8v8h-8zM56 152h8v8h-8zM64 160h8v8h-8z"/><path fill="#acacac" d="M40 8h8v8h-8zM-48 112h8v8h-8zM104 136h8v8h-8zM72 152h8v8h-8z"/><path fill="#aeaeae" d="M-40 -176h8v8h-8zM-56 112h8v8h-8zM112 128h8v8h-8z"/><path fill="#b1b1b1" d="M-64 112h8v8h-8zM104 120h8v8h-8zM104 128h8v8h-8zM-32 144h8v8h-8z"/><path fill="#b4b4b4" d="M-48 -176h8v8h-8zM112 120h8v8h-8z"/><path fill="#b7b7b7" d="M64 144h8v8h-8z"/><path fill="#b9b9b9" d="M-40 -168h8v8h-8zM32 8h8v8h-8zM-32 120h8v8h-8z"/><path fill="#bcbcbc" d="M64 152h8v8h-8z"/><path fill="#bfbfbf" d="M40 16h8v8h-8zM40 24h8v8h-8zM32 32h8v8h-8z"/><path fill="#c1c1c1" d="M112 112h8v8h-8zM-32 136h8v8h-8z"/><path fill="#c7c7c7" d="M-32 128h8v8h-8z"/><path fill="#c9c9c9" d="M-48 -168h8v8h-8zM32 16h8v8h-8z"/><path fill="#cccccc" d="M32 24h8v8h-8zM-72 120h8v8h-8z"/><path fill="#d1d1d1" d="M-40 144h8v8h-8z"/><path fill="#d7d7d7" d="M-40 120h8v8h-8z"/><path fill="#d9d9d9" d="M-72 128h8v8h-8z"/><path fill="#dcdcdc" d="M-64 120h8v8h-8zM-72 136h8v8h-8z"/><path fill="#dfdfdf" d="M-64 144h8v8h-8z"/><path fill="#e1e1e1" d="M-40 136h8v8h-8zM-48 144h8v8h-8z"/><path fill="#e4e4e4" d="M-40 128h8v8h-8zM-56 144h8v8h-8z"/><path fill="#e7e7e7" d="M-64 136h8v8h-8z"/><path fill="#eaeaea" d="M-56 120h16v8h-16zM-64 128h8v8h-8z"/><path fill="#ececec" d="M-56 136h16v8h-16z"/><path fill="#efefef" d="M-56 128h16v8h-16z"/></g></g>
<use href="#grat"/><use href="#frame"/>
<g font-size="17.5" text-anchor="middle">
<text x="26.0" y="-14.3">140°W</text>
<text x="110.8" y="-14.3">160°W</text>
<text x="175.8" y="-14.3">180°</text>
<text x="240.7" y="-14.3">160°E</text>
<text x="325.5" y="-14.3">140°E</text>
</g>
<g font-size="17.5" text-anchor="end"><text x="-11" y="33.3">50°N</text><text x="-11" y="336.1">50°N</text></g>
</g>
<text x="446" y="471.25" font-size="18">d)</text>
<g transform="translate(228.25 978.25)">
<g transform="translate(175.75 178.5)" mask="url(#land)"><g filter="url(#fe)"><path fill="#383838" d="M-48 0h16v8h-16zM-64 8h32v8h-32z"/><path fill="#3b3b3b" d="M-56 0h8v8h-8zM-32 0h8v8h-8zM-32 8h8v8h-8zM-48 16h16v8h-16z"/><path fill="#3e3e3e" d="M-48 -8h16v8h-16zM-64 0h8v8h-8zM-64 16h16v8h-16zM-32 16h8v8h-8z"/><path fill="#404040" d="M-56 -8h8v8h-8zM-48 24h16v8h-16z"/><path fill="#434343" d="M-56 24h8v8h-8z"/><path fill="#464646" d="M-48 -16h8v8h-8zM-32 24h8v8h-8z"/><path fill="#484848" d="M-64 -8h8v8h-8zM-64 24h8v8h-8z"/><path fill="#4b4b4b" d="M-56 -16h8v8h-8zM-72 8h8v8h-8z"/><path fill="#4e4e4e" d="M-64 -16h8v8h-8zM64 -16h16v8h-16zM-72 -8h8v8h-8zM-72 0h8v8h-8zM-72 16h8v8h-8z"/><path fill="#515151" d="M32 -104h8v8h-8zM48 -88h8v8h-8zM64 -80h8v8h-8zM72 -72h8v8h-8zM72 -64h8v8h-8zM-88 -48h8v8h-8z"/><path fill="#535353" d="M32 -112h16v8h-16zM-56 -104h8v8h-8zM24 -104h8v8h-8zM40 -104h8v8h-8zM-56 -96h8v8h-8zM32 -96h24v8h-24zM-80 -88h16v8h-16zM40 -88h8v8h-8zM56 -88h16v8h-16zM56 -80h8v8h-8zM72 -80h8v8h-8zM64 -72h8v8h-8zM80 -72h8v8h-8zM80 -64h8v8h-8zM-88 -56h16v8h-16zM72 -56h16v8h-16zM-80 -48h8v8h-8zM72 -48h16v8h-16zM-56 -24h8v8h-8zM-72 -16h8v8h-8zM72 -8h16v8h-16zM80 0h8v8h-8zM-72 24h8v8h-8z"/><path fill="#565656" d="M-8 -128h16v8h-16zM16 -120h8v8h-8zM-48 -112h8v8h-8zM16 -112h16v8h-16zM-64 -104h8v8h-8zM48 -104h8v8h-8zM-64 -96h8v8h-8zM56 -96h8v8h-8zM-64 -88h16v8h-16zM72 -88h8v8h-8zM80 -80h8v8h-8zM-80 -64h16v8h-16zM64 -64h8v8h-8zM-72 -56h16v8h-16zM-96 -48h8v8h-8zM-104 -40h8v8h-8zM-88 -40h8v8h-8zM64 -24h16v8h-16zM80 -16h8v8h-8zM-80 -8h8v8h-8zM88 -8h8v8h-8zM72 0h8v8h-8zM88 0h8v8h-8zM80 8h8v8h-8zM88 16h8v8h-8z"/><path fill="#595959" d="M-8 -136h16v8h-16zM8 -128h16v8h-16zM-8 -120h24v8h-24zM24 -120h16v8h-16zM0 -112h16v8h-16zM-48 -104h8v8h-8zM-72 -96h8v8h-8zM-48 -96h8v8h-8zM64 -96h8v8h-8zM-88 -80h16v8h-16zM-88 -72h16v8h-16zM88 -72h8v8h-8zM-88 -64h8v8h-8zM-96 -56h8v8h-8zM64 -56h8v8h-8zM88 -56h8v8h-8zM-72 -48h24v8h-24zM64 -48h8v8h-8zM-96 -40h8v8h-8zM-80 -40h8v8h-8zM-56 -40h8v8h-8zM-96 -32h16v8h-16zM-56 -32h8v8h-8zM-72 -24h16v8h-16zM80 -24h16v8h-16zM-80 -16h8v8h-8zM88 -16h8v8h-8zM88 8h8v8h-8z"/><path fill="#5b5b5b" d="M24 -128h8v8h-8zM40 -120h8v8h-8zM-8 -112h8v8h-8zM48 -112h24v8h-24zM-40 -104h8v8h-8zM56 -104h32v8h-32zM72 -96h16v8h-16zM80 -88h24v8h-24zM48 -80h8v8h-8zM88 -80h8v8h-8zM-96 -72h8v8h-8zM56 -72h8v8h-8zM-104 -64h16v8h-16zM88 -64h8v8h-8zM-104 -48h8v8h-8zM88 -48h8v8h-8zM-72 -40h16v8h-16zM-104 -32h8v8h-8zM-80 -32h24v8h-24zM-96 -24h24v8h-24zM-96 -16h16v8h-16zM96 -8h8v8h-8zM96 0h8v8h-8zM72 8h8v8h-8zM80 16h8v8h-8zM88 32h8v8h-8zM80 144h8v8h-8z"/><path fill="#5e5e5e" d="M-16 -128h8v8h-8zM48 -120h16v8h-16zM-40 -112h8v8h-8zM-40 -96h8v8h-8zM88 -96h16v8h-16zM-96 -80h8v8h-8zM32 -80h16v8h-16zM96 -80h8v8h-8zM-104 -56h8v8h-8zM64 -40h16v8h-16zM64 -32h8v8h-8zM96 8h8v8h-8zM88 24h8v8h-8z"/><path fill="#616161" d="M-8 -160h16v8h-16zM-8 -152h16v8h-16zM-8 -144h16v8h-16zM-16 -136h8v8h-8zM8 -136h8v8h-8zM40 -136h8v8h-8zM32 -128h24v8h-24zM-16 -120h8v8h-8zM64 -120h8v8h-8zM72 -112h8v8h-8zM-32 -104h8v8h-8zM-32 -96h8v8h-8zM-88 -88h8v8h-8zM104 -88h8v8h-8zM104 -80h8v8h-8zM96 -72h8v8h-8zM96 -64h16v8h-16zM72 -32h8v8h-8zM-104 -24h8v8h-8zM-104 -16h8v8h-8zM-88 -8h8v8h-8zM96 16h8v8h-8zM88 144h8v8h-8z"/><path fill="#636363" d="M48 -136h8v8h-8zM-56 -112h8v8h-8zM-72 -104h8v8h-8zM88 -104h8v8h-8zM-80 -96h8v8h-8zM104 -72h8v8h-8zM56 -56h8v8h-8zM96 -56h8v8h-8zM80 -40h16v8h-16zM88 -32h8v8h-8zM96 -16h8v8h-8zM-96 -8h8v8h-8zM64 -8h8v8h-8zM80 24h8v8h-8zM96 24h8v8h-8zM96 32h8v8h-8zM80 152h16v8h-16z"/><path fill="#666666" d="M-8 -168h16v8h-16zM-16 -152h8v8h-8zM8 -152h8v8h-8zM-16 -144h8v8h-8zM8 -144h8v8h-8zM32 -136h8v8h-8zM-64 -112h8v8h-8zM80 -112h8v8h-8zM104 -96h8v8h-8zM-104 -72h8v8h-8zM56 -64h8v8h-8zM104 -56h8v8h-8zM-112 -32h8v8h-8zM80 -32h8v8h-8zM-120 -24h16v8h-16zM-112 -16h8v8h-8zM-112 -8h8v8h-8zM-80 16h8v8h-8zM-80 24h8v8h-8zM80 32h8v8h-8zM88 40h8v8h-8zM88 48h8v8h-8zM88 128h8v8h-8z"/><path fill="#696969" d="M8 -160h8v8h-8zM16 -136h16v8h-16zM56 -128h8v8h-8zM-32 -112h16v8h-16zM-80 -104h8v8h-8zM96 -104h8v8h-8zM-88 -96h8v8h-8zM-112 -56h8v8h-8zM-112 -40h8v8h-8zM56 -32h8v8h-8zM96 -24h8v8h-8zM-120 -16h8v8h-8zM-120 -8h8v8h-8zM-104 -8h8v8h-8zM104 -8h8v8h-8zM-120 0h16v8h-16zM104 8h8v8h-8zM72 16h8v8h-8zM80 48h8v8h-8zM88 136h8v8h-8zM56 160h8v8h-8z"/><path fill="#6b6b6b" d="M16 -152h8v8h-8zM16 -144h24v8h-24zM-48 -120h8v8h-8zM-24 -120h8v8h-8zM72 -120h8v8h-8zM-96 -88h8v8h-8zM-104 -80h8v8h-8zM32 -72h8v8h-8zM-112 -64h8v8h-8zM112 -64h8v8h-8zM-120 -32h8v8h-8zM96 -32h8v8h-8zM-168 -8h8v8h-8zM-80 0h8v8h-8zM104 0h8v8h-8zM104 16h8v8h-8zM80 40h8v8h-8zM96 144h8v8h-8z"/><path fill="#6e6e6e" d="M40 -144h8v8h-8zM-24 -128h8v8h-8zM-56 -120h8v8h-8zM-40 -120h16v8h-16zM88 -112h8v8h-8zM104 -104h8v8h-8zM112 -88h8v8h-8zM-112 -72h8v8h-8zM32 -64h8v8h-8zM48 -56h8v8h-8zM-112 -48h8v8h-8zM96 -48h8v8h-8zM104 -16h8v8h-8zM-176 -8h8v8h-8zM-128 -8h8v8h-8zM-80 8h8v8h-8zM104 24h8v8h-8zM96 40h8v8h-8zM96 136h8v8h-8zM72 144h8v8h-8zM56 152h8v8h-8zM72 152h8v8h-8z"/><path fill="#717171" d="M8 -168h8v8h-8zM24 -152h8v8h-8zM-24 -136h8v8h-8zM56 -136h8v8h-8zM-40 -128h16v8h-16zM80 -120h24v8h-24zM-72 -112h8v8h-8zM96 -112h16v8h-16zM112 -104h8v8h-8zM112 -96h8v8h-8zM40 -72h16v8h-16zM40 -56h8v8h-8zM112 -56h8v8h-8zM-120 -48h8v8h-8zM-120 -40h8v8h-8zM96 -40h8v8h-8zM104 -32h8v8h-8zM104 -24h8v8h-8zM-128 -16h8v8h-8zM-136 -8h8v8h-8zM-136 0h16v8h-16zM-96 0h8v8h-8zM-168 8h8v8h-8zM96 128h8v8h-8zM104 144h8v8h-8zM72 160h8v8h-8z"/><path fill="#737373" d="M8 -176h8v8h-8zM-24 -152h8v8h-8zM32 -152h8v8h-8zM-24 -144h8v8h-8zM88 -128h8v8h-8zM112 -112h8v8h-8zM120 -104h8v8h-8zM-96 -96h8v8h-8zM120 -96h8v8h-8zM112 -80h8v8h-8zM112 -72h8v8h-8zM40 -64h16v8h-16zM-120 -56h8v8h-8zM104 -48h8v8h-8zM-128 -32h8v8h-8zM-128 -24h8v8h-8zM56 -24h8v8h-8zM112 -24h8v8h-8zM-176 -16h16v8h-16zM-136 -16h8v8h-8zM112 -16h8v8h-8zM-160 -8h8v8h-8zM-144 -8h8v8h-8zM-160 0h8v8h-8zM-144 0h8v8h-8zM-104 0h8v8h-8zM-88 0h8v8h-8zM-160 8h56v8h-56zM-96 8h16v8h-16zM112 8h8v8h-8zM-88 16h8v8h-8zM88 56h8v8h-8zM64 160h8v8h-8z"/><path fill="#767676" d="M-24 -160h8v8h-8zM48 -144h8v8h-8zM64 -128h8v8h-8zM104 -120h8v8h-8zM120 -88h8v8h-8zM-120 -64h8v8h-8zM112 -48h8v8h-8zM104 -40h16v8h-16zM-136 -32h8v8h-8zM112 -32h8v8h-8zM-136 -24h8v8h-8zM-160 -16h8v8h-8zM-152 -8h8v8h-8zM112 -8h8v8h-8zM-152 0h8v8h-8zM112 0h8v8h-8zM-104 8h8v8h-8zM-168 16h56v8h-56zM112 16h8v8h-8zM-152 24h8v8h-8zM72 24h8v8h-8zM104 32h8v8h-8zM104 40h8v8h-8zM8 48h16v8h-16zM72 48h8v8h-8zM96 48h8v8h-8zM8 56h16v8h-16zM80 128h8v8h-8zM104 136h8v8h-8z"/><path fill="#797979" d="M16 -160h8v8h-8zM40 -152h8v8h-8zM56 -144h8v8h-8zM64 -136h8v8h-8zM-48 -128h8v8h-8zM72 -128h16v8h-16zM96 -128h8v8h-8zM-64 -120h8v8h-8zM112 -120h8v8h-8zM-80 -112h8v8h-8zM128 -96h8v8h-8zM-104 -88h8v8h-8zM-112 -80h8v8h-8zM120 -72h8v8h-8zM120 -64h8v8h-8zM-128 -40h8v8h-8zM-152 -16h16v8h-16zM120 -8h8v8h-8zM-112 16h8v8h-8zM64 16h8v8h-8zM-160 24h8v8h-8zM-144 24h8v8h-8zM-88 24h8v8h-8zM112 24h8v8h-8zM112 32h8v8h-8zM24 48h8v8h-8zM24 56h8v8h-8zM80 56h8v8h-8zM88 120h8v8h-8zM80 136h8v8h-8zM64 152h8v8h-8z"/><path fill="#7b7b7b" d="M16 -176h8v8h-8zM40 -176h8v8h-8zM32 -160h8v8h-8zM64 -144h8v8h-8zM-32 -136h8v8h-8zM72 -136h8v8h-8zM88 -136h8v8h-8zM128 -128h8v8h-8zM128 -104h16v8h-16zM128 -88h8v8h-8zM120 -80h16v8h-16zM128 -72h8v8h-8zM-128 -64h8v8h-8zM-136 -40h8v8h-8zM120 -40h8v8h-8zM120 -16h8v8h-8zM120 0h8v8h-8zM-176 24h16v8h-16zM-136 24h8v8h-8zM8 40h16v8h-16zM72 40h8v8h-8zM0 48h8v8h-8zM64 48h8v8h-8zM0 56h8v8h-8zM16 64h8v8h-8zM112 136h8v8h-8zM56 168h8v8h-8z"/><path fill="#7e7e7e" d="M24 -176h16v8h-16zM48 -176h16v8h-16zM16 -168h48v8h-48zM24 -160h8v8h-8zM40 -160h24v8h-24zM-32 -152h8v8h-8zM48 -152h16v8h-16zM-40 -144h16v8h-16zM104 -144h16v8h-16zM-56 -136h24v8h-24zM80 -136h8v8h-8zM96 -136h32v8h-32zM-64 -128h16v8h-16zM104 -128h24v8h-24zM-72 -120h8v8h-8zM120 -120h24v8h-24zM-88 -112h8v8h-8zM120 -112h32v8h-32zM-96 -104h16v8h-16zM144 -104h8v8h-8zM-104 -96h8v8h-8zM136 -96h16v8h-16zM-112 -88h8v8h-8zM136 -88h8v8h-8zM-120 -80h8v8h-8zM136 -80h8v8h-8zM-128 -72h16v8h-16zM128 -64h8v8h-8zM-136 -56h16v8h-16zM120 -56h16v8h-16zM-136 -48h16v8h-16zM120 -48h16v8h-16zM-144 -40h8v8h-8zM128 -40h8v8h-8zM-152 -32h16v8h-16zM120 -32h8v8h-8zM-176 -24h40v8h-40zM120 -24h8v8h-8zM120 8h8v8h-8zM-104 16h16v8h-16zM120 16h8v8h-8zM-128 24h40v8h-40zM64 24h8v8h-8zM-176 32h32v8h-32zM-112 32h24v8h-24zM64 32h16v8h-16zM120 32h8v8h-8zM-176 40h8v8h-8zM-96 40h8v8h-8zM64 40h8v8h-8zM112 40h8v8h-8zM72 56h8v8h-8zM8 64h8v8h-8zM72 136h8v8h-8z"/><path fill="#818181" d="M-32 -160h8v8h-8zM64 -160h8v8h-8zM-48 -152h16v8h-16zM64 -152h8v8h-8zM104 -152h8v8h-8zM-56 -144h16v8h-16zM72 -144h8v8h-8zM96 -144h8v8h-8zM-80 -120h8v8h-8zM152 -96h8v8h-8zM144 -88h16v8h-16zM-128 -80h8v8h-8zM144 -80h8v8h-8zM-136 -72h8v8h-8zM136 -72h8v8h-8zM-136 -64h8v8h-8zM136 -64h16v8h-16zM-144 -56h8v8h-8zM136 -56h16v8h-16zM-144 -48h8v8h-8zM136 -48h8v8h-8zM-176 -40h32v8h-32zM-176 -32h24v8h-24zM128 -32h8v8h-8zM128 -24h8v8h-8zM56 24h8v8h-8zM120 24h8v8h-8zM-144 32h32v8h-32zM56 32h8v8h-8zM-168 40h24v8h-24zM-112 40h16v8h-16zM56 40h8v8h-8zM120 40h8v8h-8zM-176 48h24v8h-24zM56 48h8v8h-8zM104 48h8v8h-8zM-176 56h16v8h-16zM32 56h8v8h-8zM0 64h8v8h-8zM24 64h8v8h-8zM104 128h8v8h-8z"/><path fill="#848484" d="M-32 -176h8v8h-8zM-32 -168h8v8h-8zM-40 -160h8v8h-8zM96 -152h8v8h-8zM-64 -136h8v8h-8zM-72 -128h8v8h-8zM-96 -112h8v8h-8zM-104 -104h8v8h-8zM-144 -64h8v8h-8zM136 -40h8v8h-8zM136 -32h16v8h-16zM48 -24h8v8h-8zM128 -16h8v8h-8zM128 -8h8v8h-8zM56 16h8v8h-8zM48 24h8v8h-8zM48 32h8v8h-8zM-144 40h8v8h-8zM-120 40h8v8h-8zM128 40h8v8h-8zM-104 48h8v8h-8zM112 48h16v8h-16zM-160 56h8v8h-8zM64 56h8v8h-8zM-168 64h8v8h-8zM80 120h8v8h-8zM72 128h8v8h-8zM112 128h8v8h-8zM48 160h8v8h-8z"/><path fill="#868686" d="M-48 -160h8v8h-8zM72 -160h8v8h-8zM88 -160h8v8h-8zM72 -152h8v8h-8zM88 -144h8v8h-8zM-80 -128h8v8h-8zM-96 -120h16v8h-16zM-120 -88h8v8h-8zM-136 -80h8v8h-8zM152 -80h8v8h-8zM144 -72h8v8h-8zM-152 -48h8v8h-8zM144 -48h8v8h-8zM136 -24h8v8h-8zM56 0h8v8h-8zM128 0h8v8h-8zM128 8h8v8h-8zM128 32h8v8h-8zM-152 48h8v8h-8zM-112 48h8v8h-8zM32 48h8v8h-8zM-112 56h8v8h-8zM-160 64h8v8h-8zM-112 64h8v8h-8zM-168 72h16v8h-16zM-160 80h8v8h-8zM64 144h8v8h-8z"/><path fill="#898989" d="M-48 -176h16v8h-16zM-48 -168h16v8h-16zM80 -160h8v8h-8zM-64 -152h16v8h-16zM80 -152h16v8h-16zM80 -144h8v8h-8zM-104 -112h8v8h-8zM-112 -96h8v8h-8zM-128 -88h8v8h-8zM-144 -72h8v8h-8zM-152 -56h8v8h-8zM152 -56h8v8h-8zM144 -40h8v8h-8zM144 -24h8v8h-8zM128 16h8v8h-8zM-136 40h16v8h-16zM24 40h8v8h-8zM48 40h8v8h-8zM-128 48h16v8h-16zM128 48h16v8h-16zM-128 56h16v8h-16zM96 56h16v8h-16zM-120 64h8v8h-8zM32 64h8v8h-8zM64 64h24v8h-24zM-152 72h8v8h-8zM8 72h16v8h-16zM-152 80h8v8h-8zM96 120h16v8h-16z"/><path fill="#8c8c8c" d="M-64 -144h8v8h-8zM-88 -128h8v8h-8zM-136 -88h8v8h-8zM-144 -80h8v8h-8zM160 -80h8v8h-8zM-152 -64h8v8h-8zM-176 -48h8v8h-8zM-160 -48h8v8h-8zM136 -8h8v8h-8zM136 0h8v8h-8zM128 24h8v8h-8zM136 40h8v8h-8zM-136 48h8v8h-8zM144 48h8v8h-8zM-152 56h8v8h-8zM-152 64h8v8h-8zM-136 64h16v8h-16zM88 64h8v8h-8zM-144 72h8v8h-8zM80 72h8v8h-8zM96 112h16v8h-16zM112 120h8v8h-8zM120 128h8v8h-8zM64 136h8v8h-8z"/><path fill="#8e8e8e" d="M-56 -176h8v8h-8zM-56 -168h8v8h-8zM-56 -160h8v8h-8zM-112 -104h8v8h-8zM-120 -96h8v8h-8zM152 -72h8v8h-8zM-168 -48h8v8h-8zM152 -48h8v8h-8zM40 -16h8v8h-8zM136 -16h8v8h-8zM-144 48h8v8h-8zM152 48h8v8h-8zM-144 56h16v8h-16zM136 56h32v8h-32zM-144 64h8v8h-8zM96 64h8v8h-8zM24 72h8v8h-8zM72 72h8v8h-8zM32 88h8v8h-8zM48 88h8v8h-8zM48 152h8v8h-8z"/><path fill="#919191" d="M-72 -136h8v8h-8zM-96 -128h8v8h-8zM-104 -120h8v8h-8zM-144 -88h8v8h-8zM-152 -72h8v8h-8zM-160 -56h8v8h-8zM40 -8h8v8h-8zM48 0h8v8h-8zM48 16h8v8h-8zM136 16h8v8h-8zM136 24h8v8h-8zM136 32h8v8h-8zM144 40h8v8h-8zM160 48h8v8h-8zM152 64h16v8h-16zM40 88h8v8h-8zM48 168h8v8h-8z"/><path fill="#949494" d="M-104 -128h8v8h-8zM-152 -80h8v8h-8zM160 -72h8v8h-8zM48 -16h16v8h-16zM48 8h8v8h-8zM136 8h8v8h-8zM168 56h8v8h-8zM104 64h8v8h-8zM56 88h8v8h-8z"/><path fill="#969696" d="M-64 -176h8v8h-8zM-64 -168h8v8h-8zM-160 -88h8v8h-8zM-160 -80h8v8h-8zM152 -64h8v8h-8zM168 -64h8v8h-8zM160 -56h16v8h-16zM48 -8h16v8h-16zM40 0h8v8h-8zM40 40h8v8h-8zM112 56h8v8h-8zM128 56h8v8h-8zM144 64h8v8h-8zM160 72h8v8h-8zM32 96h8v8h-8zM112 112h8v8h-8zM120 120h8v8h-8z"/><path fill="#999999" d="M-64 -160h8v8h-8zM-80 -136h8v8h-8zM-112 -120h8v8h-8zM-152 -96h8v8h-8zM-152 -88h8v8h-8zM-168 -80h8v8h-8zM-160 -72h8v8h-8zM160 -64h8v8h-8zM-176 -56h8v8h-8zM160 -48h8v8h-8zM152 -40h8v8h-8zM152 -32h8v8h-8zM152 -24h8v8h-8zM152 40h8v8h-8zM168 48h8v8h-8zM152 72h8v8h-8zM72 80h8v8h-8zM64 88h16v8h-16zM48 96h8v8h-8zM120 104h16v8h-16zM88 112h8v8h-8zM120 112h8v8h-8zM128 120h8v8h-8zM-56 128h16v8h-16zM64 128h8v8h-8zM-56 136h16v8h-16z"/><path fill="#9c9c9c" d="M-72 -168h8v8h-8zM-72 -160h8v8h-8zM-160 -96h8v8h-8zM-144 -96h8v8h-8zM32 40h8v8h-8zM136 64h8v8h-8zM80 80h8v8h-8zM80 88h8v8h-8zM40 96h8v8h-8zM64 96h16v8h-16zM80 112h8v8h-8zM128 112h8v8h-8zM-56 120h16v8h-16zM-64 128h8v8h-8zM-40 128h8v8h-8zM-64 136h8v8h-8zM-40 136h8v8h-8zM-56 144h16v8h-16zM56 144h8v8h-8z"/><path fill="#9e9e9e" d="M-104 -136h16v8h-16zM-112 -128h8v8h-8zM-112 -112h8v8h-8zM-168 -72h8v8h-8zM-176 -64h8v8h-8zM144 -16h8v8h-8zM120 56h8v8h-8zM136 72h16v8h-16zM136 80h24v8h-24zM152 88h8v8h-8zM24 96h8v8h-8zM56 96h8v8h-8zM120 96h16v8h-16zM48 104h16v8h-16zM136 104h8v8h-8zM136 112h8v8h-8zM-64 120h8v8h-8zM-72 136h8v8h-8zM-64 144h8v8h-8zM48 144h8v8h-8z"/><path fill="#a1a1a1" d="M-88 -136h8v8h-8zM-160 -64h8v8h-8zM-168 -56h8v8h-8zM168 -48h8v8h-8zM144 32h8v8h-8zM160 40h8v8h-8zM88 72h8v8h-8zM144 88h8v8h-8zM136 96h8v8h-8zM64 104h16v8h-16zM96 104h8v8h-8zM112 104h8v8h-8zM144 104h8v8h-8zM-40 120h8v8h-8zM72 120h8v8h-8zM-72 128h8v8h-8zM-40 144h8v8h-8z"/><path fill="#a4a4a4" d="M-120 -144h16v8h-16zM-120 -136h16v8h-16zM-120 -128h8v8h-8zM-136 -96h8v8h-8zM144 16h8v8h-8zM128 64h8v8h-8zM136 88h8v8h-8zM80 96h8v8h-8zM144 96h8v8h-8zM24 104h24v8h-24zM104 104h8v8h-8zM72 112h8v8h-8zM-72 120h8v8h-8zM-32 128h8v8h-8zM-32 136h8v8h-8zM40 152h8v8h-8zM40 168h8v8h-8z"/><path fill="#a6a6a6" d="M-80 -168h8v8h-8zM-104 -144h8v8h-8zM-168 -64h8v8h-8zM144 8h8v8h-8zM144 24h8v8h-8zM112 64h8v8h-8zM96 72h8v8h-8zM128 72h8v8h-8zM88 80h8v8h-8zM128 80h8v8h-8zM88 88h8v8h-8zM88 96h8v8h-8zM80 104h8v8h-8zM56 112h16v8h-16zM-32 144h8v8h-8z"/><path fill="#a9a9a9" d="M-112 -152h8v8h-8zM-128 -136h8v8h-8zM-152 -104h8v8h-8zM-128 -96h8v8h-8zM144 -8h8v8h-8zM144 0h8v8h-8zM152 24h8v8h-8zM40 32h8v8h-8zM152 32h8v8h-8zM168 40h8v8h-8zM120 64h8v8h-8zM96 80h8v8h-8zM128 88h8v8h-8zM88 104h8v8h-8zM24 112h16v8h-16zM-32 120h8v8h-8zM64 120h8v8h-8zM56 136h8v8h-8zM24 160h24v8h-24zM24 168h16v8h-16z"/><path fill="#acacac" d="M40 8h8v8h-8zM152 16h8v8h-8zM104 72h8v8h-8zM40 112h16v8h-16zM56 120h8v8h-8z"/><path fill="#aeaeae" d="M-104 -152h8v8h-8zM-72 -152h8v8h-8zM-88 -144h8v8h-8zM-120 -120h8v8h-8zM160 -40h16v8h-16zM160 -24h8v8h-8zM152 -16h8v8h-8zM96 96h8v8h-8zM-64 112h8v8h-8zM16 120h8v8h-8zM40 120h8v8h-8zM40 144h8v8h-8zM32 152h8v8h-8zM16 168h8v8h-8z"/><path fill="#b1b1b1" d="M-80 -160h8v8h-8zM-96 -144h8v8h-8zM-120 -104h8v8h-8zM160 -32h16v8h-16zM168 -24h8v8h-8zM-56 112h16v8h-16zM24 120h16v8h-16zM48 120h8v8h-8zM16 128h8v8h-8zM24 152h8v8h-8zM8 160h16v8h-16zM8 168h8v8h-8z"/><path fill="#b4b4b4" d="M152 8h8v8h-8zM112 72h16v8h-16zM96 88h8v8h-8zM24 128h16v8h-16zM56 128h8v8h-8zM32 136h8v8h-8zM8 144h8v8h-8zM32 144h8v8h-8zM8 152h16v8h-16z"/><path fill="#b7b7b7" d="M-96 -160h16v8h-16zM-80 -144h8v8h-8zM-128 -128h8v8h-8zM160 16h8v8h-8zM120 88h8v8h-8zM112 96h8v8h-8zM16 144h8v8h-8z"/><path fill="#b9b9b9" d="M-96 -152h8v8h-8zM-120 -112h8v8h-8zM-144 -104h8v8h-8zM32 8h8v8h-8zM168 16h8v8h-8zM160 32h16v8h-16zM104 80h8v8h-8zM16 136h8v8h-8zM24 144h8v8h-8z"/><path fill="#bcbcbc" d="M-88 -152h8v8h-8zM-72 -144h8v8h-8zM-152 -112h8v8h-8zM-128 -104h8v8h-8zM160 -16h16v8h-16zM152 -8h8v8h-8zM160 24h16v8h-16zM104 96h8v8h-8zM40 128h8v8h-8zM24 136h8v8h-8zM40 136h8v8h-8z"/><path fill="#bfbfbf" d="M152 0h8v8h-8zM40 16h8v8h-8zM40 24h8v8h-8zM32 32h8v8h-8zM112 80h8v8h-8z"/><path fill="#c1c1c1" d="M160 8h16v8h-16zM120 80h8v8h-8zM104 88h16v8h-16zM48 136h8v8h-8z"/><path fill="#c4c4c4" d="M48 128h8v8h-8z"/><path fill="#c7c7c7" d="M-80 -152h8v8h-8zM-136 -128h8v8h-8zM-40 104h8v8h-8z"/><path fill="#c9c9c9" d="M-136 -104h8v8h-8zM32 16h8v8h-8zM-40 96h8v8h-8zM-56 104h16v8h-16z"/><path fill="#cccccc" d="M168 -8h8v8h-8zM168 0h8v8h-8zM32 24h8v8h-8zM-56 96h16v8h-16z"/><path fill="#cfcfcf" d="M-128 -120h8v8h-8z"/><path fill="#d1d1d1" d="M-144 -120h8v8h-8zM-144 -112h8v8h-8z"/><path fill="#d4d4d4" d="M-128 -112h8v8h-8zM160 -8h8v8h-8zM160 0h8v8h-8z"/><path fill="#d9d9d9" d="M-136 -120h8v8h-8z"/><path fill="#dfdfdf" d="M-136 -112h8v8h-8z"/></g></g>
<use href="#grat"/><use href="#frame"/>
<g font-size="17.5" text-anchor="middle">
<text x="26.0" y="-14.3">140°W</text>
<text x="110.8" y="-14.3">160°W</text>
<text x="175.8" y="-14.3">180°</text>
<text x="240.7" y="-14.3">160°E</text>
<text x="325.5" y="-14.3">140°E</text>
</g>
<g font-size="17.5" text-anchor="end"><text x="-11" y="33.3">50°N</text><text x="-11" y="336.1">50°N</text></g>
</g>
<text x="186" y="927.5" font-size="18">e)</text>
<g transform="translate(648.75 978.25)">
<g transform="translate(175.75 178.5)" mask="url(#land)"><g filter="url(#ff)"><path fill="#2e2e2e" d="M40 -136h8v8h-8zM40 -128h16v8h-16zM56 -112h16v8h-16z"/><path fill="#303030" d="M48 -136h8v8h-8zM48 -120h16v8h-16zM48 -112h8v8h-8zM56 -104h16v8h-16zM-96 -88h8v8h-8z"/><path fill="#333333" d="M16 -144h16v8h-16zM32 -136h8v8h-8zM32 -128h8v8h-8zM40 -120h8v8h-8zM64 -120h8v8h-8zM48 -104h8v8h-8zM72 -104h16v8h-16zM48 -96h8v8h-8zM64 -96h24v8h-24zM48 -88h8v8h-8z"/><path fill="#363636" d="M32 -144h8v8h-8zM16 -136h16v8h-16zM56 -128h8v8h-8zM40 -112h8v8h-8zM72 -112h8v8h-8zM-96 -96h8v8h-8zM40 -96h8v8h-8zM56 -96h8v8h-8zM40 -88h8v8h-8z"/><path fill="#383838" d="M40 -144h8v8h-8zM32 -120h8v8h-8zM32 -112h8v8h-8zM24 -104h24v8h-24zM32 -96h8v8h-8zM56 -88h24v8h-24zM56 -80h16v8h-16z"/><path fill="#3b3b3b" d="M16 -152h16v8h-16zM8 -144h8v8h-8zM56 -136h8v8h-8zM24 -112h8v8h-8zM-88 -88h8v8h-8zM80 -88h8v8h-8z"/><path fill="#3e3e3e" d="M32 -152h8v8h-8zM48 -144h8v8h-8zM24 -128h8v8h-8zM72 -120h8v8h-8zM72 -80h8v8h-8z"/><path fill="#404040" d="M8 -152h8v8h-8zM40 -152h8v8h-8zM56 -144h8v8h-8zM8 -136h8v8h-8zM16 -128h8v8h-8zM64 -128h8v8h-8zM24 -120h8v8h-8zM8 -112h16v8h-16zM48 -80h8v8h-8zM64 -72h8v8h-8zM64 -16h16v8h-16z"/><path fill="#434343" d="M48 -168h8v8h-8zM-8 -160h24v8h-24zM40 -160h24v8h-24zM-8 -152h16v8h-16zM48 -152h16v8h-16zM0 -144h8v8h-8zM64 -136h16v8h-16zM8 -128h8v8h-8zM72 -128h8v8h-8zM8 -120h16v8h-16zM80 -112h8v8h-8zM88 -96h8v8h-8zM80 -80h8v8h-8zM72 -72h16v8h-16zM72 -64h8v8h-8zM80 -8h8v8h-8zM80 0h8v8h-8z"/><path fill="#464646" d="M48 -176h16v8h-16zM8 -168h8v8h-8zM40 -168h8v8h-8zM56 -168h8v8h-8zM-8 -144h8v8h-8zM88 -104h8v8h-8zM-88 -96h8v8h-8zM-104 -88h8v8h-8zM32 -80h16v8h-16zM56 -72h8v8h-8zM64 -64h8v8h-8zM80 -64h8v8h-8z"/><path fill="#484848" d="M8 -176h8v8h-8zM40 -176h8v8h-8zM0 -168h8v8h-8zM16 -160h8v8h-8zM32 -160h8v8h-8zM64 -144h8v8h-8zM0 -112h8v8h-8zM-104 -96h8v8h-8zM72 -24h8v8h-8zM72 -8h8v8h-8z"/><path fill="#4b4b4b" d="M16 -176h24v8h-24zM16 -168h24v8h-24zM24 -160h8v8h-8zM64 -160h8v8h-8zM64 -152h8v8h-8zM0 -136h8v8h-8zM0 -128h8v8h-8zM80 -128h8v8h-8zM0 -120h8v8h-8zM88 -88h8v8h-8zM88 -80h8v8h-8zM64 -56h24v8h-24zM64 -48h16v8h-16zM72 -40h8v8h-8zM64 -24h8v8h-8zM80 -24h8v8h-8zM80 -16h8v8h-8zM88 -8h8v8h-8zM72 0h8v8h-8zM80 8h8v8h-8z"/><path fill="#4e4e4e" d="M-8 -168h8v8h-8zM-8 -136h8v8h-8zM80 -136h8v8h-8zM-8 -128h8v8h-8zM-8 -120h8v8h-8zM80 -120h8v8h-8zM96 -96h8v8h-8zM-112 -88h8v8h-8zM96 -88h8v8h-8zM-104 -80h8v8h-8zM96 -80h8v8h-8zM88 -72h8v8h-8zM80 -48h8v8h-8zM80 -40h8v8h-8zM72 -32h16v8h-16zM88 -24h8v8h-8zM88 -16h8v8h-8zM-48 0h16v8h-16zM88 0h8v8h-8zM-64 8h32v8h-32zM88 8h8v8h-8zM88 16h8v8h-8z"/><path fill="#515151" d="M-8 -112h8v8h-8zM-88 -104h8v8h-8zM-96 -80h16v8h-16zM-88 -72h8v8h-8zM88 -56h8v8h-8zM88 -48h8v8h-8zM64 -40h8v8h-8zM88 -40h8v8h-8zM88 -32h8v8h-8zM-56 0h8v8h-8zM72 8h8v8h-8zM-48 16h8v8h-8z"/><path fill="#535353" d="M88 -112h8v8h-8zM-96 -104h8v8h-8zM-80 -104h8v8h-8zM104 -88h8v8h-8zM-96 -72h8v8h-8zM-80 -72h8v8h-8zM88 -64h8v8h-8zM56 -56h8v8h-8zM64 -32h8v8h-8zM-48 -8h16v8h-16zM-64 0h8v8h-8zM-32 0h8v8h-8zM-32 8h8v8h-8zM-56 16h8v8h-8zM-40 16h8v8h-8zM80 16h8v8h-8z"/><path fill="#565656" d="M-16 -152h8v8h-8zM-16 -144h8v8h-8zM72 -144h8v8h-8zM-16 -128h8v8h-8zM88 -120h8v8h-8zM-80 -80h8v8h-8zM104 -80h8v8h-8zM32 -72h8v8h-8zM-88 -64h24v8h-24zM56 -64h8v8h-8zM-88 -56h8v8h-8zM-88 -48h8v8h-8zM-136 0h8v8h-8zM-32 16h8v8h-8z"/><path fill="#595959" d="M-16 -136h8v8h-8zM88 -128h8v8h-8zM96 -120h8v8h-8zM96 -112h8v8h-8zM-104 -104h8v8h-8zM96 -104h8v8h-8zM96 -72h8v8h-8zM-80 -56h8v8h-8zM-80 -48h8v8h-8zM-136 -8h16v8h-16zM-112 -8h8v8h-8zM-56 -8h8v8h-8zM96 -8h8v8h-8zM-128 0h8v8h-8zM96 0h8v8h-8zM96 8h8v8h-8zM-64 16h8v8h-8z"/><path fill="#5b5b5b" d="M72 -160h8v8h-8zM-16 -120h8v8h-8zM-88 -112h16v8h-16zM-80 -96h8v8h-8zM-104 -72h8v8h-8zM-104 -64h16v8h-16zM96 -64h16v8h-16zM-96 -56h8v8h-8zM-72 -56h8v8h-8zM96 -56h8v8h-8zM-96 -48h8v8h-8zM-104 -40h24v8h-24zM-120 -24h16v8h-16zM-48 -16h8v8h-8zM-120 -8h8v8h-8zM-48 24h16v8h-16zM88 32h8v8h-8z"/><path fill="#5e5e5e" d="M-72 -120h8v8h-8zM-72 -112h8v8h-8zM104 -96h8v8h-8zM-80 -88h8v8h-8zM104 -72h8v8h-8zM32 -64h8v8h-8zM-104 -56h8v8h-8zM-64 -56h8v8h-8zM48 -56h8v8h-8zM-104 -32h8v8h-8zM-120 -16h8v8h-8zM-120 0h8v8h-8zM96 16h8v8h-8zM-56 24h8v8h-8zM88 24h8v8h-8z"/><path fill="#616161" d="M72 -152h8v8h-8zM88 -136h8v8h-8zM-64 -120h8v8h-8zM-64 -112h8v8h-8zM-72 -104h8v8h-8zM-72 -96h8v8h-8zM-72 -88h8v8h-8zM-112 -80h8v8h-8zM40 -72h16v8h-16zM40 -56h8v8h-8zM104 -56h8v8h-8zM-72 -48h8v8h-8zM96 -48h8v8h-8zM-80 -40h8v8h-8zM96 -40h8v8h-8zM-96 -32h16v8h-16zM-104 -24h8v8h-8zM-128 -16h8v8h-8zM-112 -16h8v8h-8zM96 -16h8v8h-8zM64 -8h8v8h-8zM-144 0h8v8h-8zM-112 0h8v8h-8zM-136 8h24v8h-24zM-32 24h8v8h-8z"/><path fill="#636363" d="M80 -160h16v8h-16zM80 -144h16v8h-16zM-112 -96h8v8h-8zM-64 -88h8v8h-8zM40 -64h8v8h-8zM-104 -48h8v8h-8zM-112 -32h8v8h-8zM96 -32h8v8h-8zM-96 -24h8v8h-8zM-136 -16h8v8h-8zM-56 -16h8v8h-8zM-144 -8h8v8h-8zM-64 -8h8v8h-8zM-128 16h16v8h-16zM72 16h8v8h-8zM80 24h8v8h-8z"/><path fill="#666666" d="M80 -152h16v8h-16zM-80 -120h8v8h-8zM-112 -104h8v8h-8zM48 -64h8v8h-8zM-64 -48h16v8h-16zM104 -48h8v8h-8zM104 -40h8v8h-8zM-120 -32h8v8h-8zM56 -32h8v8h-8zM-128 -24h8v8h-8zM-96 -16h8v8h-8zM-152 0h8v8h-8zM-144 8h8v8h-8zM-152 16h8v8h-8zM88 48h8v8h-8z"/><path fill="#696969" d="M96 -152h8v8h-8zM-64 -128h8v8h-8zM104 -112h8v8h-8zM-120 -96h8v8h-8zM-64 -96h8v8h-8zM-56 -88h8v8h-8zM112 -64h8v8h-8zM-56 -40h8v8h-8zM-128 -32h8v8h-8zM-80 -32h8v8h-8zM-56 -32h8v8h-8zM-136 -24h8v8h-8zM-88 -24h8v8h-8zM-56 -24h8v8h-8zM96 -24h8v8h-8zM-88 -16h8v8h-8zM-64 -16h8v8h-8zM-152 -8h8v8h-8zM-72 -8h8v8h-8zM-72 0h8v8h-8zM-152 8h8v8h-8zM-160 16h8v8h-8zM-144 16h8v8h-8zM-64 24h8v8h-8zM96 24h8v8h-8zM80 32h8v8h-8zM88 40h8v8h-8z"/><path fill="#6b6b6b" d="M-56 -136h8v8h-8zM-80 -128h16v8h-16zM-56 -128h8v8h-8zM96 -128h8v8h-8zM-88 -120h8v8h-8zM-56 -120h8v8h-8zM104 -120h8v8h-8zM-96 -112h8v8h-8zM-64 -104h16v8h-16zM104 -104h8v8h-8zM-56 -96h8v8h-8zM-120 -88h8v8h-8zM-112 -64h8v8h-8zM-112 -56h8v8h-8zM112 -56h8v8h-8zM112 -48h8v8h-8zM-72 -40h16v8h-16zM112 -40h8v8h-8zM-72 -32h16v8h-16zM-80 -24h24v8h-24zM-104 -16h8v8h-8zM-136 16h8v8h-8zM-152 24h8v8h-8z"/><path fill="#6e6e6e" d="M-64 -136h8v8h-8zM-48 -128h8v8h-8zM-96 -120h8v8h-8zM-48 -120h8v8h-8zM-104 -112h8v8h-8zM-56 -112h8v8h-8zM-48 -96h8v8h-8zM112 -88h8v8h-8zM-112 -72h8v8h-8zM112 -72h8v8h-8zM-72 -16h8v8h-8zM-72 8h8v8h-8zM96 32h8v8h-8zM80 48h8v8h-8z"/><path fill="#717171" d="M104 -152h8v8h-8zM96 -144h8v8h-8zM-40 -96h16v8h-16zM112 -80h8v8h-8zM-136 -32h8v8h-8zM104 -32h8v8h-8zM-160 8h8v8h-8zM-160 24h8v8h-8zM-144 24h8v8h-8zM80 40h8v8h-8z"/><path fill="#737373" d="M-56 -144h8v8h-8zM-72 -136h8v8h-8zM-24 -136h8v8h-8zM-24 -112h8v8h-8zM-48 -104h24v8h-24zM112 -96h8v8h-8zM-120 -72h8v8h-8zM-120 -64h8v8h-8zM-112 -40h8v8h-8zM-80 -16h8v8h-8zM104 -16h8v8h-8zM104 -8h8v8h-8zM-160 0h8v8h-8zM104 0h8v8h-8zM104 8h8v8h-8zM-72 16h8v8h-8zM72 24h8v8h-8z"/><path fill="#767676" d="M-24 -128h8v8h-8zM-24 -120h8v8h-8zM-48 -112h16v8h-16zM112 -104h8v8h-8zM120 -80h8v8h-8zM120 -72h8v8h-8zM104 -24h8v8h-8zM-144 -16h8v8h-8zM-160 -8h8v8h-8zM-168 16h8v8h-8zM64 16h8v8h-8zM104 16h8v8h-8z"/><path fill="#797979" d="M104 -144h8v8h-8zM-48 -136h8v8h-8zM96 -136h8v8h-8zM-88 -128h8v8h-8zM112 -120h8v8h-8zM-32 -112h8v8h-8zM112 -112h8v8h-8zM120 -104h8v8h-8zM120 -96h8v8h-8zM120 -88h8v8h-8zM-120 -80h8v8h-8zM128 -72h8v8h-8zM120 -64h8v8h-8zM112 -32h8v8h-8zM56 -24h8v8h-8zM-80 -8h8v8h-8zM-168 24h8v8h-8z"/><path fill="#7b7b7b" d="M-24 -144h8v8h-8zM112 -144h8v8h-8zM120 -136h8v8h-8zM112 -128h8v8h-8zM-40 -120h8v8h-8zM128 -80h8v8h-8zM120 -56h8v8h-8zM-112 -48h8v8h-8zM112 -24h8v8h-8zM-104 -8h16v8h-16z"/><path fill="#7e7e7e" d="M-64 -144h8v8h-8zM-40 -136h16v8h-16zM104 -136h16v8h-16zM-40 -128h16v8h-16zM104 -128h8v8h-8zM-32 -120h8v8h-8zM120 -48h8v8h-8zM-120 -40h8v8h-8zM120 -40h8v8h-8zM-152 -16h8v8h-8zM112 -16h8v8h-8zM-176 24h8v8h-8zM-72 24h8v8h-8zM64 24h8v8h-8zM-176 32h32v8h-32zM64 32h16v8h-16zM72 40h8v8h-8zM72 48h8v8h-8z"/><path fill="#818181" d="M-24 -152h8v8h-8zM120 -128h8v8h-8zM-112 -112h8v8h-8zM-120 -104h8v8h-8zM-128 -96h8v8h-8zM128 -64h8v8h-8zM128 -56h8v8h-8zM-120 -48h8v8h-8zM128 -48h8v8h-8zM-136 24h8v8h-8zM56 24h8v8h-8zM104 24h8v8h-8zM56 32h8v8h-8zM-176 40h32v8h-32zM64 40h8v8h-8zM-176 48h16v8h-16zM64 48h8v8h-8zM144 48h8v8h-8zM88 56h8v8h-8zM32 104h8v8h-8zM80 144h8v8h-8zM56 160h8v8h-8z"/><path fill="#848484" d="M-40 -144h8v8h-8zM-80 -136h8v8h-8zM-104 -120h8v8h-8zM-128 -88h8v8h-8zM-120 -56h8v8h-8zM-168 8h8v8h-8zM56 40h8v8h-8zM96 40h8v8h-8zM-160 48h8v8h-8zM-176 56h8v8h-8zM40 104h8v8h-8z"/><path fill="#868686" d="M-48 -144h8v8h-8zM-32 -144h8v8h-8zM-96 -128h8v8h-8zM128 -128h8v8h-8zM128 -96h8v8h-8zM128 -40h8v8h-8zM-144 -24h8v8h-8zM-88 -8h8v8h-8zM112 8h8v8h-8zM48 24h8v8h-8zM-144 32h8v8h-8zM-168 56h8v8h-8zM56 152h8v8h-8z"/><path fill="#898989" d="M120 -120h8v8h-8zM-120 -112h8v8h-8zM-128 -104h8v8h-8zM128 -104h8v8h-8zM128 -88h8v8h-8zM-128 -80h8v8h-8zM-128 -72h8v8h-8zM136 -48h8v8h-8zM112 -8h8v8h-8zM112 0h8v8h-8zM56 16h8v8h-8zM48 32h8v8h-8zM56 48h8v8h-8zM24 104h8v8h-8zM88 144h8v8h-8zM80 152h8v8h-8z"/><path fill="#8c8c8c" d="M-72 -144h8v8h-8zM-104 -128h8v8h-8zM-112 -120h8v8h-8zM128 -120h16v8h-16zM120 -112h8v8h-8zM136 -112h16v8h-16zM136 -104h8v8h-8zM136 -56h8v8h-8zM-128 -40h8v8h-8zM-144 -32h8v8h-8zM120 -32h8v8h-8zM120 -16h8v8h-8zM144 56h8v8h-8zM88 152h8v8h-8zM64 160h8v8h-8z"/><path fill="#8e8e8e" d="M-24 -160h8v8h-8zM-64 -152h8v8h-8zM-88 -136h8v8h-8zM128 -112h8v8h-8zM136 -72h8v8h-8zM-128 -64h8v8h-8zM128 -32h8v8h-8zM120 -24h16v8h-16zM96 48h8v8h-8zM-160 56h8v8h-8zM80 56h8v8h-8zM-168 64h8v8h-8zM24 96h8v8h-8zM40 96h8v8h-8zM32 112h8v8h-8zM56 168h8v8h-8z"/><path fill="#919191" d="M-80 -144h8v8h-8zM-96 -136h8v8h-8zM-120 -120h8v8h-8zM144 -104h8v8h-8zM-136 -72h8v8h-8zM136 -64h8v8h-8zM48 -24h8v8h-8zM120 -8h8v8h-8zM112 16h8v8h-8zM-144 40h8v8h-8zM-152 48h8v8h-8zM-168 72h8v8h-8zM32 96h8v8h-8zM64 152h16v8h-16zM48 160h8v8h-8zM72 160h8v8h-8z"/><path fill="#949494" d="M136 -96h8v8h-8zM-136 -40h8v8h-8zM136 -40h8v8h-8zM-160 -16h8v8h-8zM-112 16h8v8h-8zM-136 32h8v8h-8zM48 40h8v8h-8zM40 112h8v8h-8z"/><path fill="#969696" d="M-72 -152h8v8h-8zM-56 -152h8v8h-8zM-136 -128h8v8h-8zM-128 -112h8v8h-8zM-136 -104h8v8h-8zM-136 -96h8v8h-8zM144 -96h16v8h-16zM136 -80h8v8h-8zM136 -32h8v8h-8zM-152 -24h8v8h-8zM56 0h8v8h-8zM120 0h8v8h-8zM152 48h8v8h-8zM-160 64h8v8h-8zM-160 72h8v8h-8zM-160 80h8v8h-8z"/><path fill="#999999" d="M-40 -152h16v8h-16zM-128 -128h8v8h-8zM-128 -120h8v8h-8zM136 -88h24v8h-24zM-136 -80h8v8h-8zM144 -80h8v8h-8zM144 -56h8v8h-8zM144 -48h8v8h-8zM144 -32h8v8h-8zM-176 -8h16v8h-16zM-112 8h8v8h-8zM104 32h8v8h-8zM104 40h8v8h-8zM72 56h8v8h-8zM152 56h16v8h-16zM24 72h8v8h-8zM32 88h24v8h-24zM24 112h8v8h-8zM32 120h16v8h-16zM40 160h8v8h-8z"/><path fill="#9c9c9c" d="M-48 -152h8v8h-8zM-128 -136h8v8h-8zM-104 -136h8v8h-8zM-144 -120h16v8h-16zM-152 -112h16v8h-16zM-144 -104h8v8h-8zM-136 -88h8v8h-8zM152 -80h8v8h-8zM144 -72h8v8h-8zM144 -64h8v8h-8zM144 -40h8v8h-8zM-152 -32h8v8h-8zM136 -24h16v8h-16zM128 -16h8v8h-8zM-128 24h8v8h-8zM-80 24h8v8h-8zM160 48h8v8h-8zM152 64h16v8h-16zM16 72h8v8h-8zM-152 80h8v8h-8zM72 144h8v8h-8z"/><path fill="#9e9e9e" d="M-112 -152h8v8h-8zM-104 -144h8v8h-8zM-88 -144h8v8h-8zM-120 -128h16v8h-16zM-136 -112h8v8h-8zM-144 -80h8v8h-8zM-144 -40h8v8h-8zM112 24h8v8h-8zM64 56h8v8h-8zM168 56h8v8h-8zM-152 72h8v8h-8zM8 72h8v8h-8zM48 152h8v8h-8zM48 168h8v8h-8z"/><path fill="#a1a1a1" d="M-104 -152h8v8h-8zM-120 -144h8v8h-8zM-152 -104h8v8h-8zM40 -16h8v8h-8zM-80 16h8v8h-8zM48 16h8v8h-8zM-136 40h8v8h-8zM144 40h8v8h-8zM168 48h8v8h-8zM-152 56h8v8h-8zM-152 64h8v8h-8zM-144 72h8v8h-8zM48 96h8v8h-8zM48 112h8v8h-8zM48 120h8v8h-8zM88 136h8v8h-8zM96 144h8v8h-8z"/><path fill="#a4a4a4" d="M-80 -160h8v8h-8zM-80 -152h8v8h-8zM-112 -144h8v8h-8zM-96 -144h8v8h-8zM-120 -136h8v8h-8zM-144 -96h8v8h-8zM-144 -88h8v8h-8zM160 -80h8v8h-8zM-128 -56h8v8h-8zM152 -56h8v8h-8zM152 -48h8v8h-8zM-168 -16h8v8h-8zM48 0h8v8h-8zM120 8h8v8h-8zM-144 48h8v8h-8zM136 56h8v8h-8zM32 64h8v8h-8zM144 64h8v8h-8zM160 72h8v8h-8zM56 88h8v8h-8zM24 120h8v8h-8zM32 128h8v8h-8zM64 144h8v8h-8zM40 152h8v8h-8z"/><path fill="#a6a6a6" d="M-80 -168h8v8h-8zM-72 -160h16v8h-16zM152 -72h8v8h-8zM-128 -48h8v8h-8zM40 -8h8v8h-8zM-128 32h8v8h-8zM-128 40h8v8h-8zM152 40h8v8h-8zM-136 48h8v8h-8zM-136 56h32v8h-32zM-144 64h40v8h-40zM0 64h32v8h-32zM48 104h8v8h-8z"/><path fill="#a9a9a9" d="M-72 -168h8v8h-8zM-96 -160h8v8h-8zM-112 -136h8v8h-8zM-136 -48h8v8h-8zM152 -40h8v8h-8zM152 -32h8v8h-8zM56 -16h8v8h-8zM128 -8h8v8h-8zM128 0h8v8h-8zM48 8h8v8h-8zM120 16h8v8h-8zM-112 24h8v8h-8zM-120 40h8v8h-8zM-128 48h32v8h-32zM8 48h24v8h-24zM104 48h8v8h-8zM-144 56h8v8h-8zM0 56h40v8h-40z"/><path fill="#acacac" d="M-88 -160h8v8h-8zM-160 -96h16v8h-16zM160 -72h8v8h-8zM-136 -64h8v8h-8zM168 -56h8v8h-8zM160 -48h8v8h-8zM48 -16h8v8h-8zM56 -8h8v8h-8zM-112 32h8v8h-8zM112 32h8v8h-8zM-112 40h16v8h-16zM160 40h8v8h-8zM0 48h8v8h-8zM152 72h8v8h-8zM40 128h8v8h-8zM40 168h8v8h-8z"/><path fill="#aeaeae" d="M-64 -168h8v8h-8zM-96 -152h8v8h-8zM-152 -88h8v8h-8zM-152 -80h8v8h-8zM-144 -72h8v8h-8zM152 -64h8v8h-8zM168 -64h8v8h-8zM160 -56h8v8h-8zM152 -24h8v8h-8zM-176 -16h8v8h-8zM136 -16h8v8h-8zM48 -8h8v8h-8zM-88 24h8v8h-8zM120 24h8v8h-8zM-96 40h8v8h-8zM8 40h16v8h-16zM168 40h8v8h-8zM56 144h8v8h-8z"/><path fill="#b1b1b1" d="M-32 -160h8v8h-8zM-88 -152h8v8h-8zM-160 -88h8v8h-8zM160 -64h8v8h-8zM168 -48h8v8h-8zM136 -8h8v8h-8zM-80 0h8v8h-8zM40 0h8v8h-8zM-104 16h8v8h-8zM-88 16h8v8h-8zM-120 24h8v8h-8zM-104 24h16v8h-16zM-120 32h8v8h-8zM-104 32h16v8h-16zM136 40h8v8h-8zM32 48h8v8h-8zM136 48h8v8h-8zM96 56h8v8h-8zM64 64h8v8h-8zM56 96h8v8h-8zM16 120h8v8h-8zM48 128h8v8h-8zM48 136h8v8h-8zM40 144h16v8h-16z"/><path fill="#b4b4b4" d="M-136 -56h8v8h-8zM-152 -40h8v8h-8zM-96 0h8v8h-8zM136 0h8v8h-8zM-96 16h8v8h-8zM160 24h8v8h-8zM40 40h8v8h-8zM104 56h8v8h-8zM72 64h16v8h-16zM136 64h8v8h-8zM56 104h8v8h-8zM-56 120h16v8h-16zM-56 128h16v8h-16zM-56 136h16v8h-16zM40 136h8v8h-8zM56 136h16v8h-16zM80 136h8v8h-8z"/><path fill="#b7b7b7" d="M168 24h8v8h-8zM160 32h16v8h-16zM128 48h8v8h-8zM144 72h8v8h-8zM152 80h8v8h-8zM-64 128h8v8h-8zM-40 128h8v8h-8zM24 128h8v8h-8zM-64 136h8v8h-8zM-56 144h8v8h-8z"/><path fill="#b9b9b9" d="M160 -40h16v8h-16zM-160 -24h8v8h-8zM128 8h8v8h-8zM24 40h8v8h-8zM88 64h8v8h-8zM80 72h8v8h-8zM-64 120h8v8h-8zM-72 136h8v8h-8zM-40 136h8v8h-8zM32 136h8v8h-8zM72 136h8v8h-8zM-64 144h8v8h-8zM-48 144h8v8h-8zM32 144h8v8h-8z"/><path fill="#bcbcbc" d="M-64 -176h8v8h-8zM-56 -160h8v8h-8zM-160 -80h8v8h-8zM-160 -32h8v8h-8zM160 -32h16v8h-16zM-80 8h8v8h-8zM128 56h8v8h-8zM136 72h8v8h-8zM136 80h16v8h-16zM152 88h8v8h-8zM-40 120h8v8h-8zM-72 128h8v8h-8zM96 136h8v8h-8zM104 144h8v8h-8z"/><path fill="#bfbfbf" d="M-40 -160h8v8h-8zM160 -24h8v8h-8zM-104 0h8v8h-8zM-96 8h8v8h-8zM96 64h8v8h-8zM72 72h8v8h-8zM-72 120h8v8h-8zM56 128h8v8h-8zM80 128h8v8h-8zM-40 144h8v8h-8z"/><path fill="#c1c1c1" d="M-88 0h8v8h-8zM-88 8h8v8h-8z"/><path fill="#c4c4c4" d="M-144 -48h8v8h-8zM168 -24h8v8h-8zM144 -16h8v8h-8zM168 16h8v8h-8zM128 40h8v8h-8zM112 48h8v8h-8zM104 64h8v8h-8zM128 80h8v8h-8zM144 88h8v8h-8zM64 96h8v8h-8zM-32 128h8v8h-8zM72 128h8v8h-8z"/><path fill="#c7c7c7" d="M32 40h8v8h-8zM112 40h8v8h-8zM128 72h8v8h-8zM136 88h8v8h-8zM64 104h8v8h-8zM56 112h8v8h-8zM-32 120h8v8h-8zM16 128h8v8h-8zM-32 136h8v8h-8z"/><path fill="#c9c9c9" d="M-152 -72h8v8h-8zM-144 -64h8v8h-8zM-144 -56h8v8h-8zM-160 -40h8v8h-8zM-104 8h8v8h-8zM160 16h8v8h-8zM120 32h8v8h-8zM-64 112h24v8h-24zM88 128h8v8h-8z"/><path fill="#cccccc" d="M-32 -168h8v8h-8zM-168 -80h8v8h-8zM-152 -48h8v8h-8zM32 160h8v8h-8z"/><path fill="#cfcfcf" d="M-32 -176h8v8h-8zM40 32h8v8h-8zM120 48h8v8h-8zM112 56h8v8h-8zM56 120h8v8h-8zM-32 144h8v8h-8z"/><path fill="#d1d1d1" d="M152 -16h8v8h-8zM40 8h8v8h-8zM128 32h8v8h-8zM152 32h8v8h-8zM128 64h8v8h-8zM144 96h8v8h-8zM64 128h8v8h-8z"/><path fill="#d4d4d4" d="M-168 -24h8v8h-8zM136 8h8v8h-8zM128 16h8v8h-8zM136 32h8v8h-8zM104 136h8v8h-8z"/><path fill="#d7d7d7" d="M144 32h8v8h-8zM120 40h8v8h-8zM128 88h8v8h-8zM32 168h8v8h-8z"/><path fill="#d9d9d9" d="M-56 -176h8v8h-8zM32 152h8v8h-8z"/><path fill="#dcdcdc" d="M-152 -56h8v8h-8zM-160 -48h8v8h-8zM120 56h8v8h-8zM64 88h8v8h-8zM136 96h8v8h-8zM80 120h8v8h-8zM112 136h8v8h-8z"/><path fill="#dfdfdf" d="M-160 -72h8v8h-8zM-152 -64h8v8h-8zM-40 104h8v8h-8zM144 104h8v8h-8z"/><path fill="#e1e1e1" d="M-56 -168h8v8h-8zM160 -16h16v8h-16zM144 -8h8v8h-8zM144 8h8v8h-8zM128 24h8v8h-8zM-40 96h8v8h-8zM-56 104h16v8h-16z"/><path fill="#e4e4e4" d="M-168 -48h8v8h-8zM-176 -24h8v8h-8zM144 0h8v8h-8zM-56 96h16v8h-16zM128 96h8v8h-8zM120 104h24v8h-24zM24 168h8v8h-8z"/><path fill="#e7e7e7" d="M-48 -160h8v8h-8zM-168 -72h8v8h-8zM-160 -56h8v8h-8zM152 -8h8v8h-8zM152 8h8v8h-8zM168 8h8v8h-8zM152 16h8v8h-8zM104 72h8v8h-8zM120 80h8v8h-8zM120 96h8v8h-8zM120 112h24v8h-24zM128 120h8v8h-8zM96 128h8v8h-8zM120 128h8v8h-8z"/><path fill="#eaeaea" d="M-176 -56h8v8h-8zM-176 -48h8v8h-8zM152 0h8v8h-8zM160 8h8v8h-8zM144 16h8v8h-8zM72 80h16v8h-16zM88 120h8v8h-8zM120 120h8v8h-8zM112 128h8v8h-8zM24 160h8v8h-8z"/><path fill="#ececec" d="M-40 -176h8v8h-8zM-176 -64h8v8h-8zM-160 -64h8v8h-8zM-168 -56h8v8h-8zM120 72h8v8h-8zM72 96h8v8h-8zM72 104h8v8h-8zM64 112h8v8h-8zM72 120h8v8h-8zM104 128h8v8h-8z"/><path fill="#efefef" d="M-168 -40h8v8h-8zM32 8h8v8h-8zM136 16h8v8h-8zM136 24h24v8h-24zM112 64h8v8h-8zM88 72h8v8h-8zM112 72h8v8h-8zM112 104h8v8h-8zM72 112h8v8h-8zM112 112h8v8h-8zM112 120h8v8h-8z"/><path fill="#f2f2f2" d="M-48 -176h8v8h-8zM-168 -64h8v8h-8zM120 64h8v8h-8zM72 88h16v8h-16zM120 88h8v8h-8zM64 120h8v8h-8zM96 120h16v8h-16z"/><path fill="#f4f4f4" d="M40 16h8v8h-8zM40 24h8v8h-8zM96 112h16v8h-16zM16 168h8v8h-8z"/><path fill="#f7f7f7" d="M-40 -168h8v8h-8zM-176 -40h8v8h-8zM32 32h8v8h-8zM96 72h8v8h-8zM24 144h8v8h-8z"/><path fill="#fafafa" d="M-168 -32h8v8h-8zM168 -8h8v8h-8zM168 0h8v8h-8zM16 136h16v8h-16z"/><path fill="#fcfcfc" d="M-176 -32h8v8h-8zM160 -8h8v8h-8zM88 80h16v8h-16zM112 80h8v8h-8zM88 88h8v8h-8zM104 104h8v8h-8zM80 112h8v8h-8zM16 160h8v8h-8zM8 168h8v8h-8z"/><path fill="#ffffff" d="M-48 -168h8v8h-8zM160 0h8v8h-8zM32 16h8v8h-8zM32 24h8v8h-8zM104 80h8v8h-8zM96 88h24v8h-24zM80 96h40v8h-40zM80 104h24v8h-24zM88 112h8v8h-8zM8 144h16v8h-16zM8 152h24v8h-24zM8 160h8v8h-8z"/></g></g>
<use href="#grat"/><use href="#frame"/>
<g font-size="17.5" text-anchor="middle">
<text x="26.0" y="-14.3">140°W</text>
<text x="110.8" y="-14.3">160°W</text>
<text x="175.8" y="-14.3">180°</text>
<text x="240.7" y="-14.3">160°E</text>
<text x="325.5" y="-14.3">140°E</text>
</g>
<g font-size="17.5" text-anchor="end"><text x="-11" y="33.3">50°N</text><text x="-11" y="336.1">50°N</text></g>
</g>
<text x="613.5" y="925" font-size="18">f)</text>
<rect x="858.0" y="38.15" width="49.1" height="24.4" fill="#ff0000" stroke="#6e6e6e" stroke-width="1.6"/>
<text x="917" y="56.5" font-size="17.2">before 10.III.</text>
<rect x="858.0" y="71.60" width="49.1" height="24.4" fill="#ff6400" stroke="#6e6e6e" stroke-width="1.6"/>
<text x="917" y="90.0" font-size="17.2">10.III. - 20.III.</text>
<rect x="858.0" y="105.05" width="49.1" height="24.4" fill="#ff9b00" stroke="#6e6e6e" stroke-width="1.6"/>
<text x="917" y="123.5" font-size="17.2">20.III.-31.III.</text>
<rect x="858.0" y="138.50" width="49.1" height="24.4" fill="#ffd700" stroke="#6e6e6e" stroke-width="1.6"/>
<text x="917" y="156.9" font-size="17.2">31.III.-10.IV.</text>
<rect x="858.0" y="171.95" width="49.1" height="24.4" fill="#f8ff32" stroke="#6e6e6e" stroke-width="1.6"/>
<text x="917" y="190.3" font-size="17.2">10.IV.-20.IV.</text>
<rect x="858.0" y="205.40" width="49.1" height="24.4" fill="#c8ff6e" stroke="#6e6e6e" stroke-width="1.6"/>
<text x="917" y="223.8" font-size="17.2">20.IV.-30.IV.</text>
<rect x="858.0" y="238.85" width="49.1" height="24.4" fill="#98fca8" stroke="#6e6e6e" stroke-width="1.6"/>
<text x="917" y="257.2" font-size="17.2">30.IV.-10.V.</text>
<rect x="858.0" y="272.30" width="49.1" height="24.4" fill="#4dffe6" stroke="#6e6e6e" stroke-width="1.6"/>
<text x="917" y="290.7" font-size="17.2">10.V.-20.V.</text>
<rect x="858.0" y="305.75" width="49.1" height="24.4" fill="#32d2ff" stroke="#6e6e6e" stroke-width="1.6"/>
<text x="917" y="324.1" font-size="17.2">20.V.-31.V.</text>
<rect x="858.0" y="339.20" width="49.1" height="24.4" fill="#3c8cff" stroke="#6e6e6e" stroke-width="1.6"/>
<text x="917" y="357.6" font-size="17.2">31.V.-10.VI.</text>
<rect x="858.0" y="372.65" width="49.1" height="24.4" fill="#3250ff" stroke="#6e6e6e" stroke-width="1.6"/>
<text x="917" y="391.0" font-size="17.2">10.VI.-20.VI.</text>
<rect x="858.0" y="406.10" width="49.1" height="24.4" fill="#0000ff" stroke="#6e6e6e" stroke-width="1.6"/>
<text x="917" y="424.5" font-size="17.2">after 20.VI.</text>
<rect x="855.75" y="671.75" width="49.1" height="24.4" fill="#ffff80" stroke="#6e6e6e" stroke-width="1.6"/>
<text x="913.8" y="690.2" font-size="17.2">0 - 5</text>
<rect x="855.75" y="705.30" width="49.1" height="24.4" fill="#70e830" stroke="#6e6e6e" stroke-width="1.6"/>
<text x="913.8" y="723.7" font-size="17.2">6 - 10</text>
<rect x="855.75" y="738.85" width="49.1" height="24.4" fill="#3cb86c" stroke="#6e6e6e" stroke-width="1.6"/>
<text x="913.8" y="757.3" font-size="17.2">11 - 15</text>
<rect x="855.75" y="772.40" width="49.1" height="24.4" fill="#2070a0" stroke="#6e6e6e" stroke-width="1.6"/>
<text x="913.8" y="790.8" font-size="17.2">16 - 20</text>
<rect x="855.75" y="805.95" width="49.1" height="24.4" fill="#0c0c78" stroke="#6e6e6e" stroke-width="1.6"/>
<text x="913.8" y="824.4" font-size="17.2">&gt; 20</text>
<rect x="52.15" y="1095.15" width="49.1" height="24.4" fill="#00f0f0" stroke="#6e6e6e" stroke-width="1.6"/>
<text x="110.6" y="1113.6" font-size="17.2">0 - 10</text>
<rect x="52.15" y="1128.65" width="49.1" height="24.4" fill="#3c82ff" stroke="#6e6e6e" stroke-width="1.6"/>
<text x="110.6" y="1147.1" font-size="17.2">11 - 20</text>
<rect x="52.15" y="1162.15" width="49.1" height="24.4" fill="#0000ff" stroke="#6e6e6e" stroke-width="1.6"/>
<text x="110.6" y="1180.6" font-size="17.2">21 - 30</text>
<rect x="52.15" y="1195.65" width="49.1" height="24.4" fill="#9600ff" stroke="#6e6e6e" stroke-width="1.6"/>
<text x="110.6" y="1214.1" font-size="17.2">31 - 40</text>
<rect x="52.15" y="1229.15" width="49.1" height="24.4" fill="#ff00ff" stroke="#6e6e6e" stroke-width="1.6"/>
<text x="110.6" y="1247.6" font-size="17.2">&gt; 40</text>
<g font-size="21" font-weight="bold"><text x="856" y="596.4">standard</text><text x="856" y="620.6">deviation</text><text x="856" y="645">in days</text>
<text x="53" y="1023.8">mean</text><text x="53" y="1047.9">duration</text><text x="53" y="1072.1">in days</text></g>
</svg></body></html>
